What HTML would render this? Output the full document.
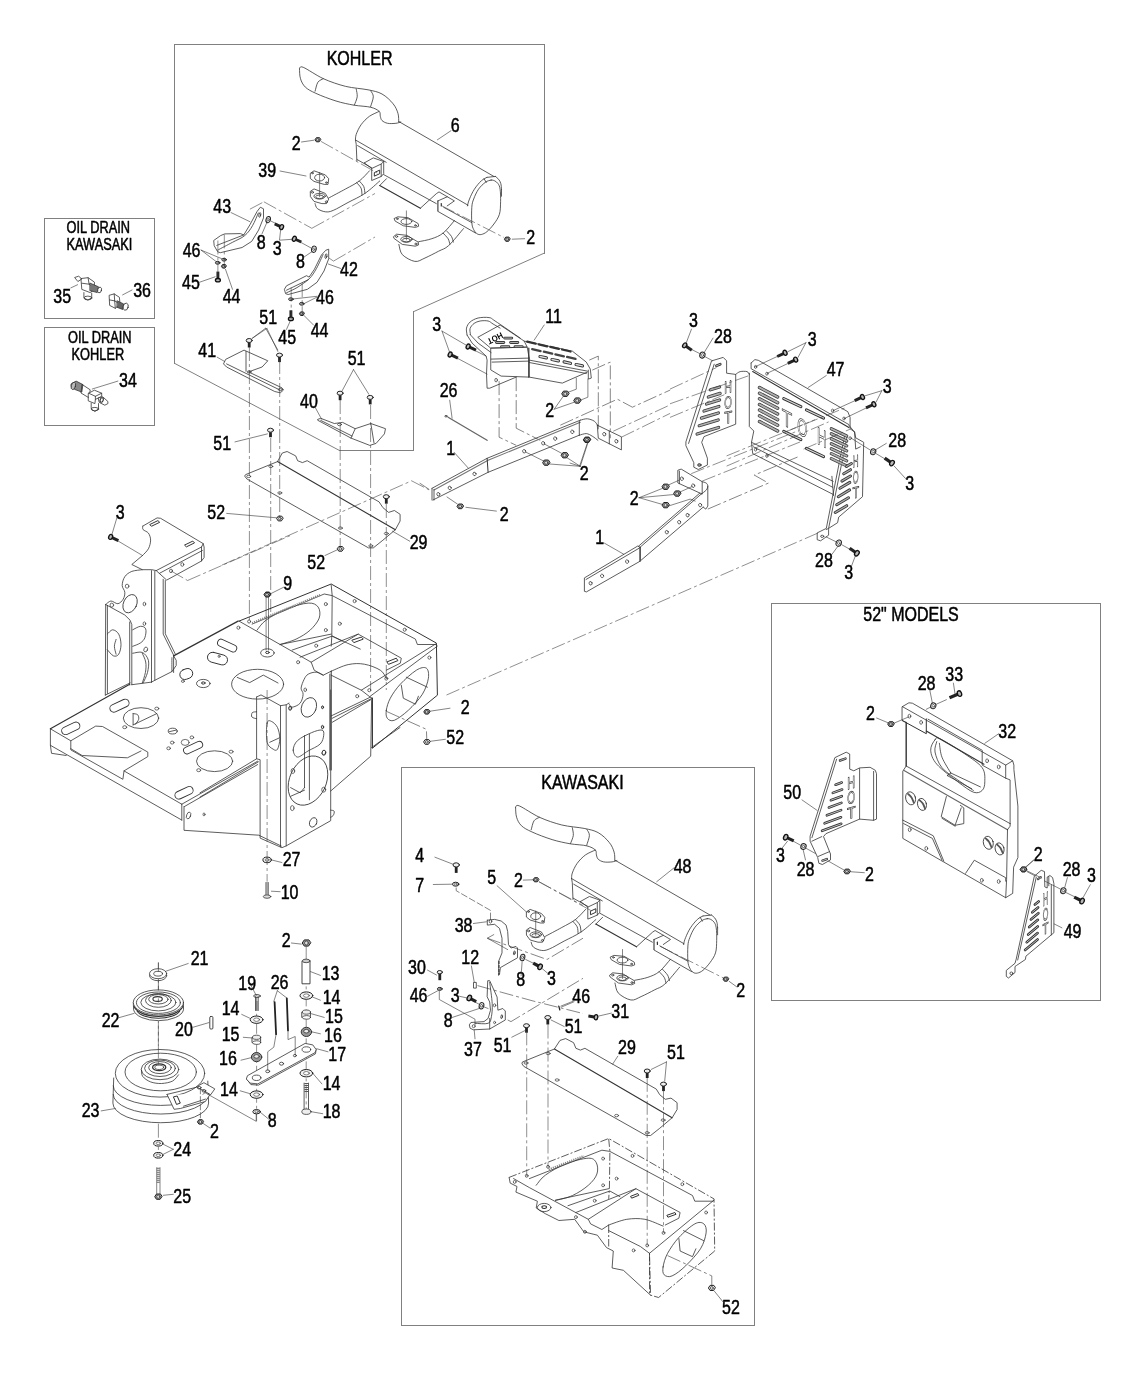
<!DOCTYPE html>
<html><head><meta charset="utf-8"><title>Parts diagram</title>
<style>
html,body{margin:0;padding:0;background:#fff}
svg{display:block;will-change:transform}
text{font-family:"Liberation Sans",sans-serif;fill:#000}
</style></head><body>
<svg width="1148" height="1375" viewBox="0 0 1148 1375" stroke-linejoin="round" stroke-linecap="round">
<line x1="174.5" y1="44.5" x2="544.5" y2="44.5" stroke="#808080" stroke-width="1" stroke-linecap="square" shape-rendering="crispEdges"/>
<line x1="544.5" y1="44.5" x2="544.5" y2="253" stroke="#808080" stroke-width="1" stroke-linecap="square" shape-rendering="crispEdges"/>
<line x1="544.5" y1="253" x2="413.5" y2="311.7" stroke="#808080" stroke-width="1" stroke-linecap="square"/>
<line x1="413.5" y1="311.7" x2="413.5" y2="450.5" stroke="#808080" stroke-width="1" stroke-linecap="square" shape-rendering="crispEdges"/>
<line x1="413.5" y1="450.5" x2="339.5" y2="450.5" stroke="#808080" stroke-width="1" stroke-linecap="square" shape-rendering="crispEdges"/>
<line x1="339.5" y1="450.5" x2="174.5" y2="363.3" stroke="#808080" stroke-width="1" stroke-linecap="square"/>
<line x1="174.5" y1="363.3" x2="174.5" y2="44.5" stroke="#808080" stroke-width="1" stroke-linecap="square" shape-rendering="crispEdges"/>
<line x1="401.5" y1="767.5" x2="754.5" y2="767.5" stroke="#808080" stroke-width="1" stroke-linecap="square" shape-rendering="crispEdges"/>
<line x1="754.5" y1="767.5" x2="754.5" y2="1325.5" stroke="#808080" stroke-width="1" stroke-linecap="square" shape-rendering="crispEdges"/>
<line x1="754.5" y1="1325.5" x2="401.5" y2="1325.5" stroke="#808080" stroke-width="1" stroke-linecap="square" shape-rendering="crispEdges"/>
<line x1="401.5" y1="1325.5" x2="401.5" y2="767.5" stroke="#808080" stroke-width="1" stroke-linecap="square" shape-rendering="crispEdges"/>
<line x1="771.5" y1="603.5" x2="1100.5" y2="603.5" stroke="#808080" stroke-width="1" stroke-linecap="square" shape-rendering="crispEdges"/>
<line x1="1100.5" y1="603.5" x2="1100.5" y2="1000.5" stroke="#808080" stroke-width="1" stroke-linecap="square" shape-rendering="crispEdges"/>
<line x1="1100.5" y1="1000.5" x2="771.5" y2="1000.5" stroke="#808080" stroke-width="1" stroke-linecap="square" shape-rendering="crispEdges"/>
<line x1="771.5" y1="1000.5" x2="771.5" y2="603.5" stroke="#808080" stroke-width="1" stroke-linecap="square" shape-rendering="crispEdges"/>
<line x1="44.5" y1="218.5" x2="154.5" y2="218.5" stroke="#808080" stroke-width="1" stroke-linecap="square" shape-rendering="crispEdges"/>
<line x1="154.5" y1="218.5" x2="154.5" y2="318.5" stroke="#808080" stroke-width="1" stroke-linecap="square" shape-rendering="crispEdges"/>
<line x1="154.5" y1="318.5" x2="44.5" y2="318.5" stroke="#808080" stroke-width="1" stroke-linecap="square" shape-rendering="crispEdges"/>
<line x1="44.5" y1="318.5" x2="44.5" y2="218.5" stroke="#808080" stroke-width="1" stroke-linecap="square" shape-rendering="crispEdges"/>
<line x1="44.5" y1="327.5" x2="154.5" y2="327.5" stroke="#808080" stroke-width="1" stroke-linecap="square" shape-rendering="crispEdges"/>
<line x1="154.5" y1="327.5" x2="154.5" y2="425.5" stroke="#808080" stroke-width="1" stroke-linecap="square" shape-rendering="crispEdges"/>
<line x1="154.5" y1="425.5" x2="44.5" y2="425.5" stroke="#808080" stroke-width="1" stroke-linecap="square" shape-rendering="crispEdges"/>
<line x1="44.5" y1="425.5" x2="44.5" y2="327.5" stroke="#808080" stroke-width="1" stroke-linecap="square" shape-rendering="crispEdges"/>
<text transform="translate(326.7 64.5) scale(0.825 1)" font-size="19.4" text-anchor="start" stroke="#000" stroke-width="0.5">KOHLER</text>
<text transform="translate(541.3 789) scale(0.825 1)" font-size="19.4" text-anchor="start" stroke="#000" stroke-width="0.5">KAWASAKI</text>
<text transform="translate(863.3 621.3) scale(0.825 1)" font-size="19.4" text-anchor="start" stroke="#000" stroke-width="0.5">52&quot; MODELS</text>
<text transform="translate(66.5 232.5) scale(0.82 1)" font-size="15.6" text-anchor="start" stroke="#000" stroke-width="0.5">OIL DRAIN</text>
<text transform="translate(66.5 249.5) scale(0.82 1)" font-size="15.6" text-anchor="start" stroke="#000" stroke-width="0.5">KAWASAKI</text>
<text transform="translate(68 343) scale(0.82 1)" font-size="15.6" text-anchor="start" stroke="#000" stroke-width="0.5">OIL DRAIN</text>
<text transform="translate(71.6 359.8) scale(0.82 1)" font-size="15.6" text-anchor="start" stroke="#000" stroke-width="0.5">KOHLER</text>
<text transform="translate(53.3 302.5) scale(0.825 1)" font-size="19.4" text-anchor="start" stroke="#000" stroke-width="0.5">35</text>
<text transform="translate(133.2 297) scale(0.825 1)" font-size="19.4" text-anchor="start" stroke="#000" stroke-width="0.5">36</text>
<text transform="translate(119 387.3) scale(0.825 1)" font-size="19.4" text-anchor="start" stroke="#000" stroke-width="0.5">34</text>
<text transform="translate(291.7 150) scale(0.825 1)" font-size="19.4" text-anchor="start" stroke="#000" stroke-width="0.5">2</text>
<text transform="translate(258.3 176.7) scale(0.825 1)" font-size="19.4" text-anchor="start" stroke="#000" stroke-width="0.5">39</text>
<text transform="translate(213.3 213.3) scale(0.825 1)" font-size="19.4" text-anchor="start" stroke="#000" stroke-width="0.5">43</text>
<text transform="translate(256.7 249.3) scale(0.825 1)" font-size="19.4" text-anchor="start" stroke="#000" stroke-width="0.5">8</text>
<text transform="translate(272.7 255) scale(0.825 1)" font-size="19.4" text-anchor="start" stroke="#000" stroke-width="0.5">3</text>
<text transform="translate(296 267.7) scale(0.825 1)" font-size="19.4" text-anchor="start" stroke="#000" stroke-width="0.5">8</text>
<text transform="translate(340 276) scale(0.825 1)" font-size="19.4" text-anchor="start" stroke="#000" stroke-width="0.5">42</text>
<text transform="translate(182.7 256.7) scale(0.825 1)" font-size="19.4" text-anchor="start" stroke="#000" stroke-width="0.5">46</text>
<text transform="translate(182 289.3) scale(0.825 1)" font-size="19.4" text-anchor="start" stroke="#000" stroke-width="0.5">45</text>
<text transform="translate(222.7 303.3) scale(0.825 1)" font-size="19.4" text-anchor="start" stroke="#000" stroke-width="0.5">44</text>
<text transform="translate(316 304.3) scale(0.825 1)" font-size="19.4" text-anchor="start" stroke="#000" stroke-width="0.5">46</text>
<text transform="translate(259.3 324.3) scale(0.825 1)" font-size="19.4" text-anchor="start" stroke="#000" stroke-width="0.5">51</text>
<text transform="translate(278.3 344.3) scale(0.825 1)" font-size="19.4" text-anchor="start" stroke="#000" stroke-width="0.5">45</text>
<text transform="translate(310.7 336.7) scale(0.825 1)" font-size="19.4" text-anchor="start" stroke="#000" stroke-width="0.5">44</text>
<text transform="translate(198.3 356.7) scale(0.825 1)" font-size="19.4" text-anchor="start" stroke="#000" stroke-width="0.5">41</text>
<text transform="translate(347.7 365) scale(0.825 1)" font-size="19.4" text-anchor="start" stroke="#000" stroke-width="0.5">51</text>
<text transform="translate(300 408.3) scale(0.825 1)" font-size="19.4" text-anchor="start" stroke="#000" stroke-width="0.5">40</text>
<text transform="translate(213.3 450) scale(0.825 1)" font-size="19.4" text-anchor="start" stroke="#000" stroke-width="0.5">51</text>
<text transform="translate(450.7 131.7) scale(0.825 1)" font-size="19.4" text-anchor="start" stroke="#000" stroke-width="0.5">6</text>
<text transform="translate(526.3 244.3) scale(0.825 1)" font-size="19.4" text-anchor="start" stroke="#000" stroke-width="0.5">2</text>
<text transform="translate(432.3 330.7) scale(0.825 1)" font-size="19.4" text-anchor="start" stroke="#000" stroke-width="0.5">3</text>
<text transform="translate(545.3 323.3) scale(0.825 1)" font-size="19.4" text-anchor="start" stroke="#000" stroke-width="0.5">11</text>
<text transform="translate(439.7 397.3) scale(0.825 1)" font-size="19.4" text-anchor="start" stroke="#000" stroke-width="0.5">26</text>
<text transform="translate(545.3 416.7) scale(0.825 1)" font-size="19.4" text-anchor="start" stroke="#000" stroke-width="0.5">2</text>
<text transform="translate(446.3 455) scale(0.825 1)" font-size="19.4" text-anchor="start" stroke="#000" stroke-width="0.5">1</text>
<text transform="translate(689 326.7) scale(0.825 1)" font-size="19.4" text-anchor="start" stroke="#000" stroke-width="0.5">3</text>
<text transform="translate(714 343.1) scale(0.825 1)" font-size="19.4" text-anchor="start" stroke="#000" stroke-width="0.5">28</text>
<text transform="translate(807.7 346) scale(0.825 1)" font-size="19.4" text-anchor="start" stroke="#000" stroke-width="0.5">3</text>
<text transform="translate(826.7 376) scale(0.825 1)" font-size="19.4" text-anchor="start" stroke="#000" stroke-width="0.5">47</text>
<text transform="translate(882.7 393.3) scale(0.825 1)" font-size="19.4" text-anchor="start" stroke="#000" stroke-width="0.5">3</text>
<text transform="translate(888.3 446.7) scale(0.825 1)" font-size="19.4" text-anchor="start" stroke="#000" stroke-width="0.5">28</text>
<text transform="translate(115.7 518.7) scale(0.825 1)" font-size="19.4" text-anchor="start" stroke="#000" stroke-width="0.5">3</text>
<text transform="translate(207.3 518.7) scale(0.825 1)" font-size="19.4" text-anchor="start" stroke="#000" stroke-width="0.5">52</text>
<text transform="translate(307.3 568.7) scale(0.825 1)" font-size="19.4" text-anchor="start" stroke="#000" stroke-width="0.5">52</text>
<text transform="translate(283.3 589.7) scale(0.825 1)" font-size="19.4" text-anchor="start" stroke="#000" stroke-width="0.5">9</text>
<text transform="translate(282.7 866.1) scale(0.825 1)" font-size="19.4" text-anchor="start" stroke="#000" stroke-width="0.5">27</text>
<text transform="translate(280.7 898.6) scale(0.825 1)" font-size="19.4" text-anchor="start" stroke="#000" stroke-width="0.5">10</text>
<text transform="translate(579.7 479.7) scale(0.825 1)" font-size="19.4" text-anchor="start" stroke="#000" stroke-width="0.5">2</text>
<text transform="translate(499.7 520.7) scale(0.825 1)" font-size="19.4" text-anchor="start" stroke="#000" stroke-width="0.5">2</text>
<text transform="translate(409.7 548.7) scale(0.825 1)" font-size="19.4" text-anchor="start" stroke="#000" stroke-width="0.5">29</text>
<text transform="translate(629.7 504.7) scale(0.825 1)" font-size="19.4" text-anchor="start" stroke="#000" stroke-width="0.5">2</text>
<text transform="translate(595.3 544) scale(0.825 1)" font-size="19.4" text-anchor="start" stroke="#000" stroke-width="0.5">1</text>
<text transform="translate(460.7 713.7) scale(0.825 1)" font-size="19.4" text-anchor="start" stroke="#000" stroke-width="0.5">2</text>
<text transform="translate(446.3 744) scale(0.825 1)" font-size="19.4" text-anchor="start" stroke="#000" stroke-width="0.5">52</text>
<text transform="translate(415.3 862.3) scale(0.825 1)" font-size="19.4" text-anchor="start" stroke="#000" stroke-width="0.5">4</text>
<text transform="translate(415.3 891.7) scale(0.825 1)" font-size="19.4" text-anchor="start" stroke="#000" stroke-width="0.5">7</text>
<text transform="translate(487.3 884.2) scale(0.825 1)" font-size="19.4" text-anchor="start" stroke="#000" stroke-width="0.5">5</text>
<text transform="translate(514 887) scale(0.825 1)" font-size="19.4" text-anchor="start" stroke="#000" stroke-width="0.5">2</text>
<text transform="translate(673.7 872.8) scale(0.825 1)" font-size="19.4" text-anchor="start" stroke="#000" stroke-width="0.5">48</text>
<text transform="translate(905.3 490.3) scale(0.825 1)" font-size="19.4" text-anchor="start" stroke="#000" stroke-width="0.5">3</text>
<text transform="translate(815 567.3) scale(0.825 1)" font-size="19.4" text-anchor="start" stroke="#000" stroke-width="0.5">28</text>
<text transform="translate(844.3 578.7) scale(0.825 1)" font-size="19.4" text-anchor="start" stroke="#000" stroke-width="0.5">3</text>
<text transform="translate(917.7 690.3) scale(0.825 1)" font-size="19.4" text-anchor="start" stroke="#000" stroke-width="0.5">28</text>
<text transform="translate(945.3 680.7) scale(0.825 1)" font-size="19.4" text-anchor="start" stroke="#000" stroke-width="0.5">33</text>
<text transform="translate(866 720.3) scale(0.825 1)" font-size="19.4" text-anchor="start" stroke="#000" stroke-width="0.5">2</text>
<text transform="translate(998.3 738) scale(0.825 1)" font-size="19.4" text-anchor="start" stroke="#000" stroke-width="0.5">32</text>
<text transform="translate(783.3 799) scale(0.825 1)" font-size="19.4" text-anchor="start" stroke="#000" stroke-width="0.5">50</text>
<text transform="translate(776 862.3) scale(0.825 1)" font-size="19.4" text-anchor="start" stroke="#000" stroke-width="0.5">3</text>
<text transform="translate(796.7 875.7) scale(0.825 1)" font-size="19.4" text-anchor="start" stroke="#000" stroke-width="0.5">28</text>
<text transform="translate(865 881.3) scale(0.825 1)" font-size="19.4" text-anchor="start" stroke="#000" stroke-width="0.5">2</text>
<text transform="translate(1033.7 860.7) scale(0.825 1)" font-size="19.4" text-anchor="start" stroke="#000" stroke-width="0.5">2</text>
<text transform="translate(1062.7 875.7) scale(0.825 1)" font-size="19.4" text-anchor="start" stroke="#000" stroke-width="0.5">28</text>
<text transform="translate(1087 882.3) scale(0.825 1)" font-size="19.4" text-anchor="start" stroke="#000" stroke-width="0.5">3</text>
<text transform="translate(281.7 947.3) scale(0.825 1)" font-size="19.4" text-anchor="start" stroke="#000" stroke-width="0.5">2</text>
<text transform="translate(190.7 965.3) scale(0.825 1)" font-size="19.4" text-anchor="start" stroke="#000" stroke-width="0.5">21</text>
<text transform="translate(321.7 979.7) scale(0.825 1)" font-size="19.4" text-anchor="start" stroke="#000" stroke-width="0.5">13</text>
<text transform="translate(238.3 990.3) scale(0.825 1)" font-size="19.4" text-anchor="start" stroke="#000" stroke-width="0.5">19</text>
<text transform="translate(270.7 988.7) scale(0.825 1)" font-size="19.4" text-anchor="start" stroke="#000" stroke-width="0.5">26</text>
<text transform="translate(322.7 1004.3) scale(0.825 1)" font-size="19.4" text-anchor="start" stroke="#000" stroke-width="0.5">14</text>
<text transform="translate(221.7 1015.3) scale(0.825 1)" font-size="19.4" text-anchor="start" stroke="#000" stroke-width="0.5">14</text>
<text transform="translate(101.7 1027) scale(0.825 1)" font-size="19.4" text-anchor="start" stroke="#000" stroke-width="0.5">22</text>
<text transform="translate(325 1023) scale(0.825 1)" font-size="19.4" text-anchor="start" stroke="#000" stroke-width="0.5">15</text>
<text transform="translate(175 1036) scale(0.825 1)" font-size="19.4" text-anchor="start" stroke="#000" stroke-width="0.5">20</text>
<text transform="translate(221.7 1041) scale(0.825 1)" font-size="19.4" text-anchor="start" stroke="#000" stroke-width="0.5">15</text>
<text transform="translate(324 1042) scale(0.825 1)" font-size="19.4" text-anchor="start" stroke="#000" stroke-width="0.5">16</text>
<text transform="translate(219 1064.7) scale(0.825 1)" font-size="19.4" text-anchor="start" stroke="#000" stroke-width="0.5">16</text>
<text transform="translate(328.3 1061.3) scale(0.825 1)" font-size="19.4" text-anchor="start" stroke="#000" stroke-width="0.5">17</text>
<text transform="translate(322.7 1090.3) scale(0.825 1)" font-size="19.4" text-anchor="start" stroke="#000" stroke-width="0.5">14</text>
<text transform="translate(220 1096.3) scale(0.825 1)" font-size="19.4" text-anchor="start" stroke="#000" stroke-width="0.5">14</text>
<text transform="translate(81.7 1117.3) scale(0.825 1)" font-size="19.4" text-anchor="start" stroke="#000" stroke-width="0.5">23</text>
<text transform="translate(322.7 1118) scale(0.825 1)" font-size="19.4" text-anchor="start" stroke="#000" stroke-width="0.5">18</text>
<text transform="translate(267.7 1127.3) scale(0.825 1)" font-size="19.4" text-anchor="start" stroke="#000" stroke-width="0.5">8</text>
<text transform="translate(210 1138.3) scale(0.825 1)" font-size="19.4" text-anchor="start" stroke="#000" stroke-width="0.5">2</text>
<text transform="translate(173.3 1155.8) scale(0.825 1)" font-size="19.4" text-anchor="start" stroke="#000" stroke-width="0.5">24</text>
<text transform="translate(173.3 1202.5) scale(0.825 1)" font-size="19.4" text-anchor="start" stroke="#000" stroke-width="0.5">25</text>
<text transform="translate(454.7 932) scale(0.825 1)" font-size="19.4" text-anchor="start" stroke="#000" stroke-width="0.5">38</text>
<text transform="translate(461.3 964.3) scale(0.825 1)" font-size="19.4" text-anchor="start" stroke="#000" stroke-width="0.5">12</text>
<text transform="translate(408 974.3) scale(0.825 1)" font-size="19.4" text-anchor="start" stroke="#000" stroke-width="0.5">30</text>
<text transform="translate(409.7 1002) scale(0.825 1)" font-size="19.4" text-anchor="start" stroke="#000" stroke-width="0.5">46</text>
<text transform="translate(450.7 1002) scale(0.825 1)" font-size="19.4" text-anchor="start" stroke="#000" stroke-width="0.5">3</text>
<text transform="translate(516.3 986) scale(0.825 1)" font-size="19.4" text-anchor="start" stroke="#000" stroke-width="0.5">8</text>
<text transform="translate(547 985.3) scale(0.825 1)" font-size="19.4" text-anchor="start" stroke="#000" stroke-width="0.5">3</text>
<text transform="translate(443.7 1027) scale(0.825 1)" font-size="19.4" text-anchor="start" stroke="#000" stroke-width="0.5">8</text>
<text transform="translate(464 1056) scale(0.825 1)" font-size="19.4" text-anchor="start" stroke="#000" stroke-width="0.5">37</text>
<text transform="translate(493.7 1052) scale(0.825 1)" font-size="19.4" text-anchor="start" stroke="#000" stroke-width="0.5">51</text>
<text transform="translate(564.7 1032.7) scale(0.825 1)" font-size="19.4" text-anchor="start" stroke="#000" stroke-width="0.5">51</text>
<text transform="translate(572.3 1002.7) scale(0.825 1)" font-size="19.4" text-anchor="start" stroke="#000" stroke-width="0.5">46</text>
<text transform="translate(611.3 1018.3) scale(0.825 1)" font-size="19.4" text-anchor="start" stroke="#000" stroke-width="0.5">31</text>
<text transform="translate(618 1054.3) scale(0.825 1)" font-size="19.4" text-anchor="start" stroke="#000" stroke-width="0.5">29</text>
<text transform="translate(667 1058.7) scale(0.825 1)" font-size="19.4" text-anchor="start" stroke="#000" stroke-width="0.5">51</text>
<text transform="translate(736.3 996.7) scale(0.825 1)" font-size="19.4" text-anchor="start" stroke="#000" stroke-width="0.5">2</text>
<text transform="translate(722 1314.3) scale(0.825 1)" font-size="19.4" text-anchor="start" stroke="#000" stroke-width="0.5">52</text>
<text transform="translate(1063.7 937.7) scale(0.825 1)" font-size="19.4" text-anchor="start" stroke="#000" stroke-width="0.5">49</text>
<path d="M299.5 68.9C300.1 68.7 299.2 65.6 303.2 67.3C307.2 68.9 316.4 75.5 323.4 78.7C330.5 81.9 338.3 84.5 345.7 86.4C353.2 88.2 362 88.6 368 89.8C374.1 91.1 377.8 91.7 382 94C386.2 96.3 390.5 100.5 393.1 103.8C395.8 107 397.1 110.5 398 113.5C398.9 116.6 398.6 120.5 398.7 121.9" fill="none" stroke="#333" stroke-width="0.8"/>
<path d="M299.5 68.9C299.6 70.6 299.5 75.7 300.5 78.7C301.4 81.7 302.8 84.6 305.3 87.1C307.9 89.5 310.7 91 315.8 93.3C320.9 95.7 329.6 99 336 101C342.4 103 348.3 104.1 354.1 105.2C359.9 106.2 366.7 106.2 370.8 107.3C375 108.3 377.6 109.9 379.2 111.4C380.8 113 379.8 114.8 380.3 116.3C380.8 117.8 380.8 119.3 382 120.5C383.2 121.7 385.2 122.8 387.6 123.3C389.9 123.8 393.7 123.5 395.9 123.3C398.1 123.1 400 122.1 400.8 121.9" fill="none" stroke="#333" stroke-width="0.8"/>
<path d="M323.4 78.7C322.5 79.3 319.3 80.1 317.9 82.2C316.5 84.3 315.6 89.7 315.1 91.2" fill="none" stroke="#333" stroke-width="0.8"/>
<path d="M356.2 89.1C356.4 90.4 357.5 94.2 357.2 96.8C356.9 99.4 354.9 103.5 354.4 104.9" fill="none" stroke="#333" stroke-width="0.8"/>
<path d="M370.8 91C371.3 91.9 373.4 94.2 373.3 96.8C373.3 99.4 371 104.9 370.6 106.6" fill="none" stroke="#333" stroke-width="0.8"/>
<path d="M379.2 111.4C377.6 112.3 372.5 114.1 369.4 116.3C366.4 118.5 363.3 121.7 361.1 124.7C358.9 127.7 357.1 131.9 356.2 134.4C355.3 137 355.6 139.1 355.5 140" fill="none" stroke="#333" stroke-width="0.8"/>
<polyline points="355.5,140 356.2,144.2 356.9,160.9" fill="none" stroke="#333" stroke-width="0.8"/>
<line x1="357.6" y1="145.6" x2="386.2" y2="162.3" stroke="#333" stroke-width="0.8"/>
<line x1="398.9" y1="121.6" x2="494" y2="176.5" stroke="#333" stroke-width="0.8"/>
<line x1="355.9" y1="140.2" x2="468" y2="205.2" stroke="#333" stroke-width="0.8"/>
<path d="M491.1 180.1C489.6 180.4 487.6 180.7 485.5 182.2C483.4 183.7 480.5 186.4 478.5 189.2C476.6 192 474.8 195.9 473.7 199C472.5 202 472.1 203.4 471.8 207.3C471.5 211.3 471.5 218.9 471.8 222.6C472.1 226.4 472.8 227.8 473.7 229.6C474.5 231.5 475.9 233 477.1 233.8C478.4 234.6 479.7 234.8 481.3 234.5C483 234.1 484.8 233.4 486.9 231.7C489 230 491.8 226.9 493.9 224C496 221.1 498.3 218 499.4 214.3C500.6 210.6 500.4 205.9 500.6 201.7C500.7 197.6 500.6 192.2 500.1 189.2C499.7 186.2 499 185 498 183.6C497.1 182.2 495.7 181.4 494.6 180.8C493.4 180.3 492.6 179.9 491.1 180.1Z" fill="none" stroke="#333" stroke-width="0.8"/>
<path d="M486.9 177.4C486 177.9 483.4 178.9 481.3 180.8C479.2 182.8 476.3 186.2 474.4 189.2C472.4 192.2 470.6 196.2 469.5 199C468.3 201.7 467.7 204.8 467.4 205.9" fill="none" stroke="#333" stroke-width="0.8"/>
<path d="M495.3 176.4C495.8 176.9 497.8 178.2 498.7 179.4C499.7 180.7 500.4 182 500.8 183.6C501.3 185.2 501.4 188.3 501.5 189.2" fill="none" stroke="#333" stroke-width="0.8"/>
<line x1="501.5" y1="189.2" x2="501.5" y2="196.2" stroke="#333" stroke-width="0.8"/>
<line x1="486.9" y1="177.4" x2="495.3" y2="176.4" stroke="#333" stroke-width="0.8"/>
<line x1="484.1" y1="178.7" x2="486.2" y2="182.5" stroke="#333" stroke-width="0.8"/>
<line x1="443.7" y1="207.3" x2="471.8" y2="222.6" stroke="#333" stroke-width="0.8"/>
<line x1="438.1" y1="211.5" x2="475.7" y2="233.1" stroke="#333" stroke-width="0.8"/>
<line x1="357" y1="159.5" x2="371.7" y2="167.8" stroke="#333" stroke-width="0.8"/>
<polyline points="364.3,162.9 373.3,157.9 383.7,161.5 383.7,173.7 381.2,176.5 371.7,180.5 371.7,168.5 364.3,162.9" fill="none" stroke="#333" stroke-width="0.8"/>
<polyline points="371.7,168.5 381.2,164 381.2,176.5" fill="none" stroke="#333" stroke-width="0.8"/>
<line x1="381.2" y1="164" x2="383.7" y2="161.5" stroke="#333" stroke-width="0.8"/>
<polygon points="374.7,172.4 379.7,170.1 379.7,173.7 374.7,176" fill="none" stroke="#333" stroke-width="1"/>
<line x1="383.7" y1="174.6" x2="436.3" y2="203.6" stroke="#333" stroke-width="0.8"/>
<polyline points="379.7,185.5 420.4,208.2" fill="none" stroke="#333" stroke-width="1.1"/>
<polyline points="420.4,208.2 436.3,193.7 439,191.9 454.4,200.9 447.2,205.9" fill="none" stroke="#333" stroke-width="0.8"/>
<line x1="379.7" y1="185.5" x2="386.5" y2="178.7" stroke="#333" stroke-width="0.8"/>
<polyline points="437.9,200.9 437.9,210.9" fill="none" stroke="#333" stroke-width="1.1"/>
<polyline points="437.9,200.9 447.2,196.8" fill="none" stroke="#333" stroke-width="0.8"/>
<polyline points="441.3,203.6 441.3,205.9" fill="none" stroke="#333" stroke-width="1.2"/>
<path d="M328.7 198C331.5 196.5 340.6 191.7 345.7 188.9C350.8 186.1 355.3 184 359.3 181C363.2 178 367.8 172.5 369.5 170.8" fill="none" stroke="#333" stroke-width="0.8"/>
<path d="M315.1 203.6C315.5 204.5 315.7 207.3 317.4 208.6C319.1 210 322.7 211.5 325.3 211.8C327.9 212.1 329.5 212 333.2 210.4C337 208.9 342.7 205.3 348 202.5C353.2 199.7 359.7 197 364.9 193.4C370.2 189.9 377.2 183.1 379.7 181" fill="none" stroke="#333" stroke-width="0.8"/>
<path d="M359.3 181C360 181.9 362.9 184.6 363.8 186.6C364.7 188.7 364.7 192.3 364.9 193.4" fill="none" stroke="#333" stroke-width="0.8"/>
<path d="M356.6 182.6C357.3 183.5 360.2 186.2 361.1 188.2C362 190.3 361.8 193.9 362 195" fill="none" stroke="#333" stroke-width="0.8"/>
<polygon points="310.6,191.2 314,188.9 325.3,193.4 328.7,199.1 326.4,203.6 321.9,203.6 314,201.4 310.6,196.8" fill="none" stroke="#333" stroke-width="0.8"/>
<ellipse cx="319.6" cy="196.2" rx="5.7" ry="2.9" fill="none" stroke="#333" stroke-width="0.8"/>
<ellipse cx="319.6" cy="196.8" rx="3.9" ry="1.8" fill="none" stroke="#333" stroke-width="0.8"/>
<ellipse cx="312.4" cy="192.3" rx="1.1" ry="0.9" fill="none" stroke="#333" stroke-width="0.8"/>
<ellipse cx="326.4" cy="201.8" rx="1.1" ry="0.9" fill="none" stroke="#333" stroke-width="0.8"/>
<polygon points="310.6,173.1 314,170.8 325.3,174.9 328.7,178.7 328,184.4 324.2,184.4 314,181.4 310.6,178.7" fill="none" stroke="#333" stroke-width="0.8"/>
<ellipse cx="319.6" cy="177.6" rx="5" ry="3.4" fill="none" stroke="#333" stroke-width="0.8"/>
<ellipse cx="312.4" cy="173.1" rx="0.9" ry="0.7" fill="none" stroke="#333" stroke-width="0.8"/>
<ellipse cx="326.4" cy="182.6" rx="0.9" ry="0.7" fill="none" stroke="#333" stroke-width="0.8"/>
<line x1="319.6" y1="172.4" x2="319.6" y2="196.8" stroke="#333" stroke-width="0.6"/>
<path d="M418.6 241.7C420.8 241.2 427.7 240.2 431.8 238.7C435.8 237.3 439.3 236.1 443.1 233.1C446.9 230.1 452.5 222.7 454.4 220.6" fill="none" stroke="#333" stroke-width="0.8"/>
<path d="M398.9 244.4C399.5 246.1 399.7 251.8 402.3 254.6C405 257.4 411 260.8 414.8 261.4C418.5 262 421 259.7 425 258C428.9 256.3 434.6 253.3 438.6 251.2C442.5 249.1 444.6 249.3 448.7 245.5C452.9 241.8 461 231.4 463.5 228.6" fill="none" stroke="#333" stroke-width="0.8"/>
<path d="M443.1 233.1C443.9 234 446.9 236.9 448.1 238.7C449.2 240.6 449.6 243.5 449.9 244.4" fill="none" stroke="#333" stroke-width="0.8"/>
<path d="M446.5 230.8C447.3 231.8 450.3 234.6 451.5 236.5C452.6 238.4 453 241.2 453.3 242.1" fill="none" stroke="#333" stroke-width="0.8"/>
<polygon points="393.7,236.5 396.6,234.2 406.8,235.3 418.2,242.1 418.6,244.9 415.4,246.2 402.3,244.4 394.4,238.7" fill="none" stroke="#333" stroke-width="0.8"/>
<ellipse cx="406.4" cy="239.4" rx="5.7" ry="2.9" fill="none" stroke="#333" stroke-width="0.8"/>
<ellipse cx="406.4" cy="240.1" rx="3.9" ry="1.8" fill="none" stroke="#333" stroke-width="0.8"/>
<ellipse cx="396.6" cy="236.5" rx="1.1" ry="0.9" fill="none" stroke="#333" stroke-width="0.8"/>
<ellipse cx="415.9" cy="244" rx="1.1" ry="0.9" fill="none" stroke="#333" stroke-width="0.8"/>
<polygon points="394.4,218.4 397.8,216.8 408,217.7 418.2,223.6 418.6,226.3 415.4,227.4 403.4,225.8 395.5,221.3" fill="none" stroke="#333" stroke-width="0.8"/>
<ellipse cx="406.4" cy="221.5" rx="5.4" ry="2.9" fill="none" stroke="#333" stroke-width="0.8"/>
<ellipse cx="397.3" cy="218.8" rx="0.9" ry="0.7" fill="none" stroke="#333" stroke-width="0.8"/>
<ellipse cx="415.4" cy="225.4" rx="0.9" ry="0.7" fill="none" stroke="#333" stroke-width="0.8"/>
<line x1="406.4" y1="210.9" x2="406.4" y2="239.9" stroke="#333" stroke-width="0.6"/>
<polygon points="320.6,139.8 319.2,141.8 316.4,141.8 315,139.8 316.4,137.7 319.2,137.7" fill="#999" stroke="#222" stroke-width="1"/>
<circle cx="317.8" cy="139.8" r="1.3" fill="#ddd" stroke="#333" stroke-width="0.7"/>
<polygon points="510,239.2 508.6,241.3 505.8,241.3 504.4,239.2 505.8,237.1 508.6,237.1" fill="#999" stroke="#222" stroke-width="1"/>
<circle cx="507.2" cy="239.2" r="1.3" fill="#ddd" stroke="#333" stroke-width="0.7"/>
<line x1="301.5" y1="142" x2="314" y2="140.2" stroke="#333" stroke-width="0.6"/>
<line x1="437.4" y1="139.8" x2="451" y2="130.7" stroke="#333" stroke-width="0.6"/>
<line x1="512.2" y1="239.2" x2="524.6" y2="238.7" stroke="#333" stroke-width="0.6"/>
<line x1="320.8" y1="141.3" x2="377.4" y2="173.1" stroke="#444" stroke-width="0.6" stroke-dasharray="14 3 3 3" stroke-linecap="butt"/>
<line x1="441.9" y1="205.9" x2="504.2" y2="237.6" stroke="#444" stroke-width="0.6" stroke-dasharray="14 3 3 3" stroke-linecap="butt"/>
<g transform="translate(216.1 738.6)">
<path d="M299.5 68.9C300.1 68.7 299.2 65.6 303.2 67.3C307.2 68.9 316.4 75.5 323.4 78.7C330.5 81.9 338.3 84.5 345.7 86.4C353.2 88.2 362 88.6 368 89.8C374.1 91.1 377.8 91.7 382 94C386.2 96.3 390.5 100.5 393.1 103.8C395.8 107 397.1 110.5 398 113.5C398.9 116.6 398.6 120.5 398.7 121.9" fill="none" stroke="#333" stroke-width="0.8"/>
<path d="M299.5 68.9C299.6 70.6 299.5 75.7 300.5 78.7C301.4 81.7 302.8 84.6 305.3 87.1C307.9 89.5 310.7 91 315.8 93.3C320.9 95.7 329.6 99 336 101C342.4 103 348.3 104.1 354.1 105.2C359.9 106.2 366.7 106.2 370.8 107.3C375 108.3 377.6 109.9 379.2 111.4C380.8 113 379.8 114.8 380.3 116.3C380.8 117.8 380.8 119.3 382 120.5C383.2 121.7 385.2 122.8 387.6 123.3C389.9 123.8 393.7 123.5 395.9 123.3C398.1 123.1 400 122.1 400.8 121.9" fill="none" stroke="#333" stroke-width="0.8"/>
<path d="M323.4 78.7C322.5 79.3 319.3 80.1 317.9 82.2C316.5 84.3 315.6 89.7 315.1 91.2" fill="none" stroke="#333" stroke-width="0.8"/>
<path d="M356.2 89.1C356.4 90.4 357.5 94.2 357.2 96.8C356.9 99.4 354.9 103.5 354.4 104.9" fill="none" stroke="#333" stroke-width="0.8"/>
<path d="M370.8 91C371.3 91.9 373.4 94.2 373.3 96.8C373.3 99.4 371 104.9 370.6 106.6" fill="none" stroke="#333" stroke-width="0.8"/>
<path d="M379.2 111.4C377.6 112.3 372.5 114.1 369.4 116.3C366.4 118.5 363.3 121.7 361.1 124.7C358.9 127.7 357.1 131.9 356.2 134.4C355.3 137 355.6 139.1 355.5 140" fill="none" stroke="#333" stroke-width="0.8"/>
<polyline points="355.5,140 356.2,144.2 356.9,160.9" fill="none" stroke="#333" stroke-width="0.8"/>
<line x1="357.6" y1="145.6" x2="386.2" y2="162.3" stroke="#333" stroke-width="0.8"/>
<line x1="398.9" y1="121.6" x2="494" y2="176.5" stroke="#333" stroke-width="0.8"/>
<line x1="355.9" y1="140.2" x2="468" y2="205.2" stroke="#333" stroke-width="0.8"/>
<path d="M491.1 180.1C489.6 180.4 487.6 180.7 485.5 182.2C483.4 183.7 480.5 186.4 478.5 189.2C476.6 192 474.8 195.9 473.7 199C472.5 202 472.1 203.4 471.8 207.3C471.5 211.3 471.5 218.9 471.8 222.6C472.1 226.4 472.8 227.8 473.7 229.6C474.5 231.5 475.9 233 477.1 233.8C478.4 234.6 479.7 234.8 481.3 234.5C483 234.1 484.8 233.4 486.9 231.7C489 230 491.8 226.9 493.9 224C496 221.1 498.3 218 499.4 214.3C500.6 210.6 500.4 205.9 500.6 201.7C500.7 197.6 500.6 192.2 500.1 189.2C499.7 186.2 499 185 498 183.6C497.1 182.2 495.7 181.4 494.6 180.8C493.4 180.3 492.6 179.9 491.1 180.1Z" fill="none" stroke="#333" stroke-width="0.8"/>
<path d="M486.9 177.4C486 177.9 483.4 178.9 481.3 180.8C479.2 182.8 476.3 186.2 474.4 189.2C472.4 192.2 470.6 196.2 469.5 199C468.3 201.7 467.7 204.8 467.4 205.9" fill="none" stroke="#333" stroke-width="0.8"/>
<path d="M495.3 176.4C495.8 176.9 497.8 178.2 498.7 179.4C499.7 180.7 500.4 182 500.8 183.6C501.3 185.2 501.4 188.3 501.5 189.2" fill="none" stroke="#333" stroke-width="0.8"/>
<line x1="501.5" y1="189.2" x2="501.5" y2="196.2" stroke="#333" stroke-width="0.8"/>
<line x1="486.9" y1="177.4" x2="495.3" y2="176.4" stroke="#333" stroke-width="0.8"/>
<line x1="484.1" y1="178.7" x2="486.2" y2="182.5" stroke="#333" stroke-width="0.8"/>
<line x1="443.7" y1="207.3" x2="471.8" y2="222.6" stroke="#333" stroke-width="0.8"/>
<line x1="438.1" y1="211.5" x2="475.7" y2="233.1" stroke="#333" stroke-width="0.8"/>
<line x1="357" y1="159.5" x2="371.7" y2="167.8" stroke="#333" stroke-width="0.8"/>
<polyline points="364.3,162.9 373.3,157.9 383.7,161.5 383.7,173.7 381.2,176.5 371.7,180.5 371.7,168.5 364.3,162.9" fill="none" stroke="#333" stroke-width="0.8"/>
<polyline points="371.7,168.5 381.2,164 381.2,176.5" fill="none" stroke="#333" stroke-width="0.8"/>
<line x1="381.2" y1="164" x2="383.7" y2="161.5" stroke="#333" stroke-width="0.8"/>
<polygon points="374.7,172.4 379.7,170.1 379.7,173.7 374.7,176" fill="none" stroke="#333" stroke-width="1"/>
<line x1="383.7" y1="174.6" x2="436.3" y2="203.6" stroke="#333" stroke-width="0.8"/>
<polyline points="379.7,185.5 420.4,208.2" fill="none" stroke="#333" stroke-width="1.1"/>
<polyline points="420.4,208.2 436.3,193.7 439,191.9 454.4,200.9 447.2,205.9" fill="none" stroke="#333" stroke-width="0.8"/>
<line x1="379.7" y1="185.5" x2="386.5" y2="178.7" stroke="#333" stroke-width="0.8"/>
<polyline points="437.9,200.9 437.9,210.9" fill="none" stroke="#333" stroke-width="1.1"/>
<polyline points="437.9,200.9 447.2,196.8" fill="none" stroke="#333" stroke-width="0.8"/>
<polyline points="441.3,203.6 441.3,205.9" fill="none" stroke="#333" stroke-width="1.2"/>
<path d="M328.7 198C331.5 196.5 340.6 191.7 345.7 188.9C350.8 186.1 355.3 184 359.3 181C363.2 178 367.8 172.5 369.5 170.8" fill="none" stroke="#333" stroke-width="0.8"/>
<path d="M315.1 203.6C315.5 204.5 315.7 207.3 317.4 208.6C319.1 210 322.7 211.5 325.3 211.8C327.9 212.1 329.5 212 333.2 210.4C337 208.9 342.7 205.3 348 202.5C353.2 199.7 359.7 197 364.9 193.4C370.2 189.9 377.2 183.1 379.7 181" fill="none" stroke="#333" stroke-width="0.8"/>
<path d="M359.3 181C360 181.9 362.9 184.6 363.8 186.6C364.7 188.7 364.7 192.3 364.9 193.4" fill="none" stroke="#333" stroke-width="0.8"/>
<path d="M356.6 182.6C357.3 183.5 360.2 186.2 361.1 188.2C362 190.3 361.8 193.9 362 195" fill="none" stroke="#333" stroke-width="0.8"/>
<polygon points="310.6,191.2 314,188.9 325.3,193.4 328.7,199.1 326.4,203.6 321.9,203.6 314,201.4 310.6,196.8" fill="none" stroke="#333" stroke-width="0.8"/>
<ellipse cx="319.6" cy="196.2" rx="5.7" ry="2.9" fill="none" stroke="#333" stroke-width="0.8"/>
<ellipse cx="319.6" cy="196.8" rx="3.9" ry="1.8" fill="none" stroke="#333" stroke-width="0.8"/>
<ellipse cx="312.4" cy="192.3" rx="1.1" ry="0.9" fill="none" stroke="#333" stroke-width="0.8"/>
<ellipse cx="326.4" cy="201.8" rx="1.1" ry="0.9" fill="none" stroke="#333" stroke-width="0.8"/>
<polygon points="310.6,173.1 314,170.8 325.3,174.9 328.7,178.7 328,184.4 324.2,184.4 314,181.4 310.6,178.7" fill="none" stroke="#333" stroke-width="0.8"/>
<ellipse cx="319.6" cy="177.6" rx="5" ry="3.4" fill="none" stroke="#333" stroke-width="0.8"/>
<ellipse cx="312.4" cy="173.1" rx="0.9" ry="0.7" fill="none" stroke="#333" stroke-width="0.8"/>
<ellipse cx="326.4" cy="182.6" rx="0.9" ry="0.7" fill="none" stroke="#333" stroke-width="0.8"/>
<line x1="319.6" y1="172.4" x2="319.6" y2="196.8" stroke="#333" stroke-width="0.6"/>
<path d="M418.6 241.7C420.8 241.2 427.7 240.2 431.8 238.7C435.8 237.3 439.3 236.1 443.1 233.1C446.9 230.1 452.5 222.7 454.4 220.6" fill="none" stroke="#333" stroke-width="0.8"/>
<path d="M398.9 244.4C399.5 246.1 399.7 251.8 402.3 254.6C405 257.4 411 260.8 414.8 261.4C418.5 262 421 259.7 425 258C428.9 256.3 434.6 253.3 438.6 251.2C442.5 249.1 444.6 249.3 448.7 245.5C452.9 241.8 461 231.4 463.5 228.6" fill="none" stroke="#333" stroke-width="0.8"/>
<path d="M443.1 233.1C443.9 234 446.9 236.9 448.1 238.7C449.2 240.6 449.6 243.5 449.9 244.4" fill="none" stroke="#333" stroke-width="0.8"/>
<path d="M446.5 230.8C447.3 231.8 450.3 234.6 451.5 236.5C452.6 238.4 453 241.2 453.3 242.1" fill="none" stroke="#333" stroke-width="0.8"/>
<polygon points="393.7,236.5 396.6,234.2 406.8,235.3 418.2,242.1 418.6,244.9 415.4,246.2 402.3,244.4 394.4,238.7" fill="none" stroke="#333" stroke-width="0.8"/>
<ellipse cx="406.4" cy="239.4" rx="5.7" ry="2.9" fill="none" stroke="#333" stroke-width="0.8"/>
<ellipse cx="406.4" cy="240.1" rx="3.9" ry="1.8" fill="none" stroke="#333" stroke-width="0.8"/>
<ellipse cx="396.6" cy="236.5" rx="1.1" ry="0.9" fill="none" stroke="#333" stroke-width="0.8"/>
<ellipse cx="415.9" cy="244" rx="1.1" ry="0.9" fill="none" stroke="#333" stroke-width="0.8"/>
<polygon points="394.4,218.4 397.8,216.8 408,217.7 418.2,223.6 418.6,226.3 415.4,227.4 403.4,225.8 395.5,221.3" fill="none" stroke="#333" stroke-width="0.8"/>
<ellipse cx="406.4" cy="221.5" rx="5.4" ry="2.9" fill="none" stroke="#333" stroke-width="0.8"/>
<ellipse cx="397.3" cy="218.8" rx="0.9" ry="0.7" fill="none" stroke="#333" stroke-width="0.8"/>
<ellipse cx="415.4" cy="225.4" rx="0.9" ry="0.7" fill="none" stroke="#333" stroke-width="0.8"/>
<line x1="406.4" y1="210.9" x2="406.4" y2="239.9" stroke="#333" stroke-width="0.6"/>
</g>
<polygon points="260.7,207.4 263.5,208.8 263.5,217.9 258.6,230.1 251.7,241.4 242.1,247.5 220.3,252.7 217.7,251.8 214.2,245.7 213.7,240.5 220.6,235.6 224.7,233.9 240.3,233.6 243.8,234.9 249.9,224.8 256.9,211.8" fill="none" stroke="#333" stroke-width="0.8"/>
<path d="M258.3 213C257.3 215.1 254.8 221.9 252.5 225.7C250.3 229.5 248 232.9 244.7 235.6C241.3 238.4 237 239.9 232.5 242.3C228 244.7 220.2 248.8 217.7 250.1" fill="none" stroke="#333" stroke-width="0.8"/>
<line x1="216.8" y1="245.4" x2="243.8" y2="234.9" stroke="#333" stroke-width="0.8"/>
<ellipse cx="259.8" cy="214.9" rx="0.9" ry="2.4" fill="none" stroke="#333" stroke-width="0.8" transform="rotate(10 259.8 214.9)"/>
<polygon points="326.2,250.1 328.7,249.2 328.7,258.8 324,271 317,282.3 307.4,289.3 288.2,294.5 285.6,293.7 284.4,289.3 286.5,285.8 306.5,275.7 309.1,277.1 314.4,269.3 321.3,255.3" fill="none" stroke="#333" stroke-width="0.8"/>
<path d="M323.1 254.5C322 256.8 318.8 264.3 316.5 268.4C314.1 272.5 312.4 275.7 309.1 278.9C305.9 282 300.7 285.2 297 287.6C293.2 289.9 288.2 291.9 286.5 292.8" fill="none" stroke="#333" stroke-width="0.8"/>
<line x1="286.5" y1="290.2" x2="308.3" y2="279.7" stroke="#333" stroke-width="0.8"/>
<ellipse cx="326" cy="256.2" rx="0.9" ry="2.4" fill="none" stroke="#333" stroke-width="0.8" transform="rotate(10 326 256.2)"/>
<ellipse cx="268.2" cy="219.6" rx="2.2" ry="3.2" fill="#f2f2f2" stroke="#222" stroke-width="1" transform="rotate(15 268.2 219.6)"/>
<ellipse cx="268.2" cy="219.6" rx="1" ry="1.4" fill="#fff" stroke="#333" stroke-width="0.6" transform="rotate(15 268.2 219.6)"/>
<ellipse cx="313.9" cy="249.2" rx="2.3" ry="3.2" fill="#f2f2f2" stroke="#222" stroke-width="1" transform="rotate(15 313.9 249.2)"/>
<ellipse cx="313.9" cy="249.2" rx="1" ry="1.4" fill="#fff" stroke="#333" stroke-width="0.6" transform="rotate(15 313.9 249.2)"/>
<line x1="280.1" y1="226.4" x2="274.7" y2="223.9" stroke="#222" stroke-width="3" stroke-linecap="butt"/>
<ellipse cx="281.6" cy="227.1" rx="1.8" ry="2.6" fill="#b8b8b8" stroke="#111" stroke-width="1.3" transform="rotate(205 281.6 227.1)"/>
<line x1="295.9" y1="239.5" x2="301.3" y2="242" stroke="#222" stroke-width="3" stroke-linecap="butt"/>
<ellipse cx="294.3" cy="238.8" rx="1.8" ry="2.6" fill="#b8b8b8" stroke="#111" stroke-width="1.3" transform="rotate(25 294.3 238.8)"/>
<polyline points="280.7,229.2 279.5,240.2 292.1,239.3" fill="none" stroke="#333" stroke-width="0.6"/>
<line x1="262.1" y1="233.6" x2="267" y2="222.2" stroke="#333" stroke-width="0.6"/>
<line x1="303.9" y1="257.1" x2="311.8" y2="251.8" stroke="#333" stroke-width="0.6"/>
<line x1="231.1" y1="212.6" x2="249.9" y2="221.7" stroke="#333" stroke-width="0.6"/>
<line x1="340.5" y1="268.4" x2="328.3" y2="264" stroke="#333" stroke-width="0.6"/>
<line x1="249.9" y1="209.2" x2="263.9" y2="201.8" stroke="#444" stroke-width="0.6" stroke-dasharray="14 3 3 3" stroke-linecap="butt"/>
<line x1="263.9" y1="201.8" x2="311.8" y2="228.3" stroke="#444" stroke-width="0.6" stroke-dasharray="14 3 3 3" stroke-linecap="butt"/>
<line x1="311.8" y1="228.3" x2="375" y2="193.5" stroke="#444" stroke-width="0.6" stroke-dasharray="14 3 3 3" stroke-linecap="butt"/>
<line x1="328.8" y1="257.9" x2="333.5" y2="261.1" stroke="#444" stroke-width="0.6" stroke-dasharray="14 3 3 3" stroke-linecap="butt"/>
<line x1="333.5" y1="261.1" x2="375" y2="237" stroke="#444" stroke-width="0.6" stroke-dasharray="14 3 3 3" stroke-linecap="butt"/>
<line x1="270.8" y1="221" x2="277.8" y2="224.5" stroke="#333" stroke-width="0.6"/>
<line x1="299.6" y1="241.7" x2="311.8" y2="248.4" stroke="#333" stroke-width="0.6"/>
<ellipse cx="217.7" cy="262.8" rx="2.3" ry="1.4" fill="#f2f2f2" stroke="#222" stroke-width="1"/>
<ellipse cx="217.7" cy="262.8" rx="1" ry="0.6" fill="#fff" stroke="#333" stroke-width="0.6"/>
<ellipse cx="224.1" cy="259.7" rx="2.3" ry="1.4" fill="#f2f2f2" stroke="#222" stroke-width="1"/>
<ellipse cx="224.1" cy="259.7" rx="1" ry="0.6" fill="#fff" stroke="#333" stroke-width="0.6"/>
<polygon points="226.2,266.3 225,268.1 222.6,268.1 221.4,266.3 222.6,264.5 225,264.5" fill="#999" stroke="#222" stroke-width="1"/>
<circle cx="223.8" cy="266.3" r="1.1" fill="#ddd" stroke="#333" stroke-width="0.7"/>
<line x1="217.9" y1="278.6" x2="217.9" y2="271.6" stroke="#222" stroke-width="2.9" stroke-linecap="butt"/>
<ellipse cx="217.9" cy="280.2" rx="1.7" ry="2.5" fill="#b8b8b8" stroke="#111" stroke-width="1.3" transform="rotate(-90 217.9 280.2)"/>
<line x1="201.1" y1="250.1" x2="215.9" y2="261.4" stroke="#333" stroke-width="0.6"/>
<line x1="201.1" y1="250.1" x2="222" y2="258.8" stroke="#333" stroke-width="0.6"/>
<line x1="199.4" y1="282.3" x2="215.1" y2="276.8" stroke="#333" stroke-width="0.6"/>
<line x1="232.5" y1="289.3" x2="225.5" y2="269.3" stroke="#333" stroke-width="0.6"/>
<line x1="217.9" y1="240.5" x2="217.9" y2="277.1" stroke="#444" stroke-width="0.6" stroke-dasharray="14 3 3 3" stroke-linecap="butt"/>
<line x1="224.3" y1="234.4" x2="224.3" y2="266.7" stroke="#444" stroke-width="0.6" stroke-dasharray="14 3 3 3" stroke-linecap="butt"/>
<ellipse cx="290.9" cy="299.2" rx="2.3" ry="1.4" fill="#f2f2f2" stroke="#222" stroke-width="1"/>
<ellipse cx="290.9" cy="299.2" rx="1" ry="0.6" fill="#fff" stroke="#333" stroke-width="0.6"/>
<ellipse cx="301.8" cy="303.8" rx="2.3" ry="1.4" fill="#f2f2f2" stroke="#222" stroke-width="1"/>
<ellipse cx="301.8" cy="303.8" rx="1" ry="0.6" fill="#fff" stroke="#333" stroke-width="0.6"/>
<polygon points="304.2,313.7 303,315.5 300.6,315.5 299.4,313.7 300.6,311.9 303,311.9" fill="#999" stroke="#222" stroke-width="1"/>
<circle cx="301.8" cy="313.7" r="1.1" fill="#ddd" stroke="#333" stroke-width="0.7"/>
<line x1="290.9" y1="317.3" x2="290.9" y2="310.3" stroke="#222" stroke-width="2.9" stroke-linecap="butt"/>
<ellipse cx="290.9" cy="318.9" rx="1.7" ry="2.5" fill="#b8b8b8" stroke="#111" stroke-width="1.3" transform="rotate(-90 290.9 318.9)"/>
<line x1="291.2" y1="287.6" x2="291.2" y2="318.9" stroke="#444" stroke-width="0.6" stroke-dasharray="14 3 3 3" stroke-linecap="butt"/>
<line x1="302.2" y1="283.2" x2="302.2" y2="313.7" stroke="#444" stroke-width="0.6" stroke-dasharray="14 3 3 3" stroke-linecap="butt"/>
<line x1="317" y1="296.3" x2="293.5" y2="298.9" stroke="#333" stroke-width="0.6"/>
<line x1="317" y1="297.1" x2="304.8" y2="303.2" stroke="#333" stroke-width="0.6"/>
<line x1="286.5" y1="329.4" x2="290" y2="321.5" stroke="#333" stroke-width="0.6"/>
<line x1="313.5" y1="325" x2="303.9" y2="315.4" stroke="#333" stroke-width="0.6"/>
<line x1="265.6" y1="328.2" x2="252.5" y2="338.1" stroke="#333" stroke-width="0.6"/>
<line x1="265.6" y1="328.2" x2="277.8" y2="349.9" stroke="#333" stroke-width="0.6"/>
<polygon points="244.4,350.3 267.8,360.8 262.1,367 248.5,371.9 282,387.9 283.5,390 280.3,392.8 274.7,391.5 226.6,367 223.5,363.9 225.5,359.7" fill="none" stroke="#333" stroke-width="0.8"/>
<line x1="246" y1="351.4" x2="246" y2="371.2" stroke="#333" stroke-width="0.8"/>
<line x1="226.6" y1="363.9" x2="279.9" y2="390" stroke="#333" stroke-width="0.8"/>
<ellipse cx="249.2" cy="371.9" rx="2" ry="1.2" fill="none" stroke="#333" stroke-width="0.7"/>
<ellipse cx="280.3" cy="389.6" rx="2" ry="1.2" fill="none" stroke="#333" stroke-width="0.7"/>
<polygon points="318,419.3 320.7,418.3 334.3,423.5 342.6,422.4 355.2,428.7 370.8,423.5 385.5,428.7 384.4,433.9 376.1,443.4 369.8,445.4 351,438.1 318,420.4" fill="none" stroke="#333" stroke-width="0.8"/>
<line x1="355.2" y1="428.7" x2="351" y2="438.1" stroke="#333" stroke-width="0.8"/>
<line x1="370.8" y1="423.5" x2="374" y2="442.9" stroke="#333" stroke-width="0.8"/>
<line x1="320.7" y1="420.4" x2="352" y2="436" stroke="#333" stroke-width="0.8"/>
<ellipse cx="339.5" cy="424.5" rx="2" ry="1.2" fill="none" stroke="#333" stroke-width="0.7"/>
<line x1="249.2" y1="341.5" x2="249.2" y2="347.5" stroke="#222" stroke-width="2.8" stroke-linecap="butt"/>
<ellipse cx="249.2" cy="340.5" rx="3" ry="2" fill="#eee" stroke="#222" stroke-width="1"/>
<line x1="279.5" y1="356.1" x2="279.5" y2="362.1" stroke="#222" stroke-width="2.8" stroke-linecap="butt"/>
<ellipse cx="279.5" cy="355.1" rx="3" ry="2" fill="#eee" stroke="#222" stroke-width="1"/>
<line x1="340.1" y1="394.2" x2="340.1" y2="400.2" stroke="#222" stroke-width="2.8" stroke-linecap="butt"/>
<ellipse cx="340.1" cy="393.2" rx="3" ry="2" fill="#eee" stroke="#222" stroke-width="1"/>
<line x1="370.2" y1="398.4" x2="370.2" y2="404.4" stroke="#222" stroke-width="2.8" stroke-linecap="butt"/>
<ellipse cx="370.2" cy="397.4" rx="3" ry="2" fill="#eee" stroke="#222" stroke-width="1"/>
<line x1="270.5" y1="431.2" x2="270.5" y2="437.2" stroke="#222" stroke-width="2.8" stroke-linecap="butt"/>
<ellipse cx="270.5" cy="430.2" rx="3" ry="2" fill="#eee" stroke="#222" stroke-width="1"/>
<line x1="266.9" y1="328.4" x2="252.1" y2="338.4" stroke="#333" stroke-width="0.6"/>
<line x1="266.9" y1="328.4" x2="277.8" y2="351.4" stroke="#333" stroke-width="0.6"/>
<line x1="353.5" y1="369.6" x2="342.2" y2="390.7" stroke="#333" stroke-width="0.6"/>
<line x1="353.5" y1="369.6" x2="368.8" y2="394.2" stroke="#333" stroke-width="0.6"/>
<line x1="235" y1="441.9" x2="267.4" y2="433.9" stroke="#333" stroke-width="0.6"/>
<line x1="217.2" y1="357.2" x2="224.5" y2="361.4" stroke="#333" stroke-width="0.6"/>
<line x1="315.4" y1="407.8" x2="321.7" y2="419.3" stroke="#333" stroke-width="0.6"/>
<polygon points="245.9,474.5 277.5,461.6 282.3,453 287.1,451.5 295.7,455.9 297.6,460.7 302.4,462.6 307.2,460.7 379.1,501.9 382.9,507.6 388.6,512.4 394.4,510.5 400.1,514.3 400.1,521 395.4,529.7 382.9,540.2 373.3,547.9 368.5,547.9 246.8,478.9 244.9,476.4" fill="none" stroke="#333" stroke-width="0.8"/>
<line x1="277.5" y1="461.6" x2="395.4" y2="529.7" stroke="#333" stroke-width="1.1"/>
<ellipse cx="248.7" cy="476.4" rx="2" ry="1.2" fill="none" stroke="#333" stroke-width="0.7"/>
<ellipse cx="270.8" cy="466.4" rx="2" ry="1.2" fill="none" stroke="#333" stroke-width="0.7"/>
<ellipse cx="279.8" cy="492.9" rx="2" ry="1.2" fill="none" stroke="#333" stroke-width="0.7"/>
<ellipse cx="340.4" cy="528.1" rx="2" ry="1.2" fill="none" stroke="#333" stroke-width="0.7"/>
<ellipse cx="386.3" cy="533.5" rx="2" ry="1.2" fill="none" stroke="#333" stroke-width="0.7"/>
<ellipse cx="370.8" cy="545.9" rx="2" ry="1.2" fill="none" stroke="#333" stroke-width="0.7"/>
<polygon points="283,518.5 281.4,520.9 278.2,520.9 276.6,518.5 278.2,516.2 281.4,516.2" fill="#eee" stroke="#222" stroke-width="1"/>
<circle cx="279.8" cy="518.5" r="1.4" fill="#ddd" stroke="#333" stroke-width="0.7"/>
<polygon points="343.6,548.8 342,551.2 338.8,551.2 337.2,548.8 338.8,546.5 342,546.5" fill="#eee" stroke="#222" stroke-width="1"/>
<circle cx="340.4" cy="548.8" r="1.4" fill="#ddd" stroke="#333" stroke-width="0.7"/>
<polygon points="270.7,594.4 269.1,596.8 265.9,596.8 264.3,594.4 265.9,592.1 269.1,592.1" fill="#ccc" stroke="#222" stroke-width="1"/>
<circle cx="267.5" cy="594.4" r="1.4" fill="#ddd" stroke="#333" stroke-width="0.7"/>
<line x1="386.3" y1="497.7" x2="386.3" y2="503.7" stroke="#222" stroke-width="2.8" stroke-linecap="butt"/>
<ellipse cx="386.3" cy="496.7" rx="3" ry="2" fill="#eee" stroke="#222" stroke-width="1"/>
<line x1="226.7" y1="513.4" x2="276.5" y2="517.8" stroke="#333" stroke-width="0.6"/>
<line x1="325" y1="555.5" x2="337.3" y2="549.8" stroke="#333" stroke-width="0.6"/>
<line x1="409.7" y1="541.2" x2="392.5" y2="531.2" stroke="#333" stroke-width="0.6"/>
<line x1="221.9" y1="565.1" x2="411.6" y2="480.8" stroke="#444" stroke-width="0.6" stroke-dasharray="14 3 3 3" stroke-linecap="butt"/>
<line x1="411.6" y1="480.8" x2="428.9" y2="489.8" stroke="#444" stroke-width="0.6" stroke-dasharray="14 3 3 3" stroke-linecap="butt"/>
<line x1="249.4" y1="347" x2="249.4" y2="622" stroke="#444" stroke-width="0.6" stroke-dasharray="14 3 3 3" stroke-linecap="butt"/>
<line x1="270.7" y1="438" x2="270.7" y2="612" stroke="#444" stroke-width="0.6" stroke-dasharray="14 3 3 3" stroke-linecap="butt"/>
<line x1="279.7" y1="360" x2="279.7" y2="518" stroke="#444" stroke-width="0.6" stroke-dasharray="14 3 3 3" stroke-linecap="butt"/>
<line x1="340.2" y1="400" x2="340.2" y2="548" stroke="#444" stroke-width="0.6" stroke-dasharray="14 3 3 3" stroke-linecap="butt"/>
<line x1="370.6" y1="405" x2="370.6" y2="690" stroke="#444" stroke-width="0.6" stroke-dasharray="14 3 3 3" stroke-linecap="butt"/>
<line x1="386.3" y1="504" x2="386.3" y2="690" stroke="#444" stroke-width="0.6" stroke-dasharray="14 3 3 3" stroke-linecap="butt"/>
<polyline points="142.8,526.1 157.1,517.9 160.6,518.3 203.2,543.6 204.1,547 204.1,557.5 201.5,561 166.7,580.1 156.2,570.6 151.8,569.7 142.3,569.7 131.8,564.5 142.3,555.7" fill="none" stroke="#333" stroke-width="0.8"/>
<path d="M142.3 555.7C143.3 554.6 147 551.4 148.4 548.8C149.8 546.2 150.6 542.7 150.6 540.1C150.6 537.5 149.6 534.8 148.4 533.1C147.1 531.4 144.1 530.8 143.1 529.6C142.2 528.5 142.8 526.7 142.8 526.1" fill="none" stroke="#333" stroke-width="0.8"/>
<polyline points="156.2,570.6 201.5,547 203.2,543.6" fill="none" stroke="#333" stroke-width="0.8"/>
<line x1="201.5" y1="547" x2="201.5" y2="561" stroke="#333" stroke-width="0.8"/>
<line x1="159.7" y1="573.2" x2="202.4" y2="550.5" stroke="#333" stroke-width="0.8"/>
<polygon points="150.1,524.4 157.9,520.6 159.7,522.3 151.8,526.1" fill="none" stroke="#333" stroke-width="1"/>
<polygon points="184.9,544.9 192.8,541.1 194.5,542.9 186.7,546.7" fill="none" stroke="#333" stroke-width="1"/>
<ellipse cx="171" cy="570.9" rx="1.5" ry="1.8" fill="none" stroke="#333" stroke-width="0.7"/>
<ellipse cx="182.3" cy="564.5" rx="1.5" ry="1.8" fill="none" stroke="#333" stroke-width="0.7"/>
<line x1="151.5" y1="570.6" x2="151.5" y2="682.1" stroke="#333" stroke-width="0.8"/>
<line x1="154.8" y1="571.4" x2="154.8" y2="680.3" stroke="#333" stroke-width="0.8"/>
<polyline points="163.2,579.3 163.2,634.1 173.6,655.1 173.6,672.5" fill="none" stroke="#333" stroke-width="0.8"/>
<polyline points="165.3,580.5 165.3,633.8 175.4,654.2" fill="none" stroke="#333" stroke-width="0.8"/>
<polyline points="151.5,682.1 154.8,680.3 171.9,671.6 176.2,665.5 176.2,660.3 173.6,655.9" fill="none" stroke="#333" stroke-width="0.8"/>
<path d="M171.9 657.7C171.9 660 171.9 669.3 171.9 671.6" fill="none" stroke="#333" stroke-width="0.8"/>
<path d="M142.3 569.7C140.5 570 134.7 570.3 131.8 571.4C128.9 572.6 126.4 574.3 124.8 576.7C123.2 579 122.2 582.8 122.2 585.4C122.2 588 124.7 590 124.8 592.3C125 594.7 124.3 597.4 123.1 599.3C121.9 601.2 119.9 603.4 117.9 603.7C115.8 603.9 112.9 600.9 110.9 601C108.9 601.2 106.6 603.9 105.7 604.5" fill="none" stroke="#333" stroke-width="0.8"/>
<polyline points="105.7,604.5 105.3,695.1" fill="none" stroke="#333" stroke-width="0.8"/>
<polyline points="107.4,605.4 107.4,693.4" fill="none" stroke="#333" stroke-width="0.8"/>
<polyline points="105.7,604.5 124.8,615 130.1,620.2 131.8,624.6 131.8,684.7" fill="none" stroke="#333" stroke-width="0.8"/>
<line x1="129.7" y1="622" x2="129.7" y2="685" stroke="#333" stroke-width="0.8"/>
<line x1="105.3" y1="695.1" x2="130.1" y2="682.9" stroke="#333" stroke-width="0.8"/>
<line x1="131.8" y1="684.7" x2="151.5" y2="682.1" stroke="#333" stroke-width="0.8"/>
<ellipse cx="130.1" cy="603.7" rx="6.6" ry="9.6" fill="none" stroke="#333" stroke-width="0.8" transform="rotate(25 130.1 603.7)"/>
<ellipse cx="127.1" cy="586.2" rx="1.8" ry="2" fill="none" stroke="#333" stroke-width="0.7"/>
<ellipse cx="111.8" cy="605.1" rx="1.8" ry="2" fill="none" stroke="#333" stroke-width="0.7"/>
<ellipse cx="144.4" cy="604" rx="1.3" ry="1.8" fill="none" stroke="#333" stroke-width="0.7"/>
<ellipse cx="144.4" cy="623.7" rx="1.3" ry="1.8" fill="none" stroke="#333" stroke-width="0.7"/>
<ellipse cx="145.7" cy="649.5" rx="1.8" ry="2.5" fill="none" stroke="#333" stroke-width="0.7" transform="rotate(20 145.7 649.5)"/>
<path d="M132.7 629.8C134 629.2 138.3 626.5 140.5 626.3C142.7 626.2 145 627 145.7 628.9C146.5 630.8 145.7 635.3 144.9 637.6C144 640 142.6 641.4 140.5 642.9C138.5 644.3 134 645.8 132.7 646.3" fill="none" stroke="#333" stroke-width="0.8"/>
<path d="M132.7 653.3C134.3 653.2 139.7 651.3 142.3 652.4C144.9 653.6 147.5 656.9 148.4 660.3C149.2 663.6 148.4 668.7 147.5 672.5C146.6 676.2 143.9 681.2 143.1 682.9" fill="none" stroke="#333" stroke-width="0.8"/>
<path d="M142.3 653.3C142.8 654.8 145.2 658.8 145.7 662C146.3 665.2 146 669 145.4 672.5C144.8 676 142.8 681.2 142.3 682.9" fill="none" stroke="#333" stroke-width="0.8"/>
<path d="M107.4 634.1C108.3 633.4 110.8 629.8 112.6 629.8C114.5 629.8 117.4 631.7 118.7 634.1C120.1 636.6 121 641.3 121 644.6C121 647.9 120 652.3 118.7 654.2C117.5 656.1 115.4 656.6 113.5 655.9C111.6 655.2 108.4 650.8 107.4 649.8" fill="none" stroke="#333" stroke-width="0.8"/>
<path d="M116.1 639.4C115.8 640.5 114.4 643.9 114.4 646.3C114.4 648.8 115.8 652.9 116.1 654.2" fill="none" stroke="#333" stroke-width="0.8"/>
<line x1="173.6" y1="655.9" x2="238.1" y2="621.1" stroke="#333" stroke-width="1.2"/>
<line x1="112.1" y1="537.6" x2="118.4" y2="540.6" stroke="#222" stroke-width="3" stroke-linecap="butt"/>
<ellipse cx="110.6" cy="536.9" rx="1.8" ry="2.6" fill="#b8b8b8" stroke="#111" stroke-width="1.3" transform="rotate(25 110.6 536.9)"/>
<line x1="117" y1="517.4" x2="111.8" y2="534.8" stroke="#333" stroke-width="0.6"/>
<line x1="117.9" y1="540.9" x2="142.3" y2="555.4" stroke="#333" stroke-width="0.6"/>
<line x1="171" y1="570.9" x2="187.6" y2="580.5" stroke="#444" stroke-width="0.6" stroke-dasharray="14 3 3 3" stroke-linecap="butt"/>
<line x1="187.6" y1="580.5" x2="290" y2="535.7" stroke="#444" stroke-width="0.6" stroke-dasharray="14 3 3 3" stroke-linecap="butt"/>
<line x1="50.4" y1="728.8" x2="129.7" y2="684.2" stroke="#333" stroke-width="1.2"/>
<polyline points="50.4,728.8 50.4,745.3 51.5,753.3 66.2,755.5" fill="none" stroke="#333" stroke-width="0.8"/>
<polyline points="50.4,728.8 70.8,740.8 95.7,726.1 102.5,726.5 147.8,752.1 147.8,756.6 124,770.9 122.9,779.3 70.8,749.9 70.8,740.8" fill="none" stroke="#333" stroke-width="0.8"/>
<polyline points="70.8,748.7 82.1,755.5 127.4,757.8 141,751" fill="none" stroke="#333" stroke-width="0.8"/>
<line x1="124" y1="770.9" x2="181.8" y2="804.2" stroke="#333" stroke-width="0.8"/>
<line x1="50.4" y1="745.3" x2="181.8" y2="820.1" stroke="#333" stroke-width="0.8"/>
<line x1="181.8" y1="804.2" x2="181.8" y2="820.1" stroke="#333" stroke-width="0.8"/>
<line x1="181.8" y1="804.2" x2="257.6" y2="761.2" stroke="#333" stroke-width="0.8"/>
<line x1="184.5" y1="806.5" x2="257.6" y2="764.6" stroke="#333" stroke-width="0.8"/>
<polyline points="184,806.5 184,830.3 258.8,835.2 281.4,846.1" fill="none" stroke="#333" stroke-width="0.8"/>
<ellipse cx="188.6" cy="815.5" rx="2" ry="3.5" fill="none" stroke="#333" stroke-width="0.7" transform="rotate(20 188.6 815.5)"/>
<ellipse cx="204" cy="814.4" rx="1" ry="1.5" fill="none" stroke="#333" stroke-width="0.7"/>
<rect x="109.3" y="701.8" width="20.4" height="7.7" rx="3.9" fill="none" stroke="#333" stroke-width="0.9" transform="rotate(-25 119.5 705.7)"/>
<rect x="61.1" y="724.5" width="19.3" height="7.7" rx="3.9" fill="none" stroke="#333" stroke-width="0.9" transform="rotate(-25 70.8 728.3)"/>
<rect x="179.7" y="669" width="13.1" height="10" rx="5" fill="none" stroke="#333" stroke-width="0.9" transform="rotate(-20 186.3 674)"/>
<rect x="207.3" y="653.6" width="20.4" height="10" rx="5" fill="none" stroke="#333" stroke-width="0.9" transform="rotate(15 217.5 658.6)"/>
<rect x="216.9" y="642" width="20.4" height="7.2" rx="3.6" fill="none" stroke="#333" stroke-width="0.9" transform="rotate(25 227.1 645.7)"/>
<rect x="182.9" y="744.2" width="20.4" height="6.8" rx="3.4" fill="none" stroke="#333" stroke-width="0.9" transform="rotate(-25 193.1 747.6)"/>
<rect x="174.4" y="789" width="19.3" height="7.7" rx="3.9" fill="none" stroke="#333" stroke-width="0.9" transform="rotate(-25 184 792.9)"/>
<ellipse cx="141" cy="718.1" rx="17.7" ry="10.4" fill="none" stroke="#333" stroke-width="0.8"/>
<polyline points="133.1,713.6 133.1,724.9" fill="none" stroke="#333" stroke-width="0.8"/>
<polyline points="133.1,724.9 156.8,713.6" fill="none" stroke="#333" stroke-width="0.8"/>
<path d="M133.1 713.6C133.8 713.8 136.6 713.8 137.6 714.7C138.5 715.7 139.1 717.7 138.7 719.3C138.3 720.9 135.9 723.4 135.3 724.3" fill="none" stroke="#333" stroke-width="0.8"/>
<ellipse cx="214.6" cy="761.2" rx="18.1" ry="10.4" fill="none" stroke="#333" stroke-width="0.8"/>
<ellipse cx="203.3" cy="683.5" rx="6.8" ry="4.1" fill="none" stroke="#333" stroke-width="0.8"/>
<ellipse cx="203.3" cy="683" rx="1.8" ry="1.1" fill="none" stroke="#333" stroke-width="1"/>
<ellipse cx="172.7" cy="731.1" rx="4.5" ry="2.9" fill="none" stroke="#333" stroke-width="0.8"/>
<line x1="169.3" y1="731.7" x2="176.1" y2="730.1" stroke="#333" stroke-width="0.8"/>
<ellipse cx="185.2" cy="742.4" rx="4" ry="3" fill="none" stroke="#333" stroke-width="0.7"/>
<ellipse cx="172.2" cy="742.6" rx="1.8" ry="1.5" fill="none" stroke="#333" stroke-width="0.7"/>
<ellipse cx="168.6" cy="748.3" rx="1.8" ry="1.5" fill="none" stroke="#333" stroke-width="0.7"/>
<ellipse cx="191.9" cy="737.4" rx="1.8" ry="1.5" fill="none" stroke="#333" stroke-width="0.7"/>
<ellipse cx="156.8" cy="708.6" rx="2" ry="1.5" fill="none" stroke="#333" stroke-width="0.7"/>
<ellipse cx="124.7" cy="727.2" rx="2" ry="1.5" fill="none" stroke="#333" stroke-width="0.7"/>
<ellipse cx="231.1" cy="751.7" rx="2" ry="1.5" fill="none" stroke="#333" stroke-width="0.7"/>
<ellipse cx="198.7" cy="770.2" rx="2" ry="1.5" fill="none" stroke="#333" stroke-width="0.7"/>
<ellipse cx="182.9" cy="681.2" rx="1.5" ry="1.2" fill="none" stroke="#333" stroke-width="0.7"/>
<ellipse cx="219.1" cy="656.3" rx="1" ry="1.2" fill="none" stroke="#333" stroke-width="0.7"/>
<ellipse cx="257.6" cy="684.2" rx="26" ry="14.9" fill="none" stroke="#333" stroke-width="0.8"/>
<polyline points="237.2,677.4 249.7,682.6 263.3,675.1 278,683" fill="none" stroke="#333" stroke-width="0.8"/>
<ellipse cx="267.4" cy="652.9" rx="6.8" ry="4.1" fill="none" stroke="#333" stroke-width="0.8"/>
<ellipse cx="267.4" cy="652.5" rx="1.8" ry="1.1" fill="none" stroke="#333" stroke-width="1"/>
<polyline points="256.6,697 256.6,758.8 260.1,759.7 260.1,838.1 281.9,847.7 286.2,845.9 330.7,820.7 330.7,690" fill="none" stroke="#333" stroke-width="0.8"/>
<line x1="280.5" y1="705.7" x2="280.5" y2="846.8" stroke="#333" stroke-width="0.8"/>
<line x1="286.2" y1="704.8" x2="286.2" y2="845.9" stroke="#333" stroke-width="0.8"/>
<polyline points="256.6,697 261,694.9 280.5,705.7 286.2,704.8 288.9,703.1" fill="none" stroke="#333" stroke-width="0.8"/>
<path d="M267.1 723.1C267.8 719.6 269.7 720.6 271.4 721.4C273.2 722.1 276.1 724.6 277.5 727.5C278.9 730.4 279.8 735.2 279.8 738.8C279.8 742.4 278.6 747.5 277.5 749.2C276.4 751 274.9 750.4 273.2 749.2C271.4 748.1 268.1 746.6 267.1 742.3C266.1 737.9 266.3 726.6 267.1 723.1Z" fill="none" stroke="#333" stroke-width="0.8"/>
<line x1="269.7" y1="742.3" x2="279.3" y2="737.9" stroke="#333" stroke-width="0.8"/>
<ellipse cx="308.9" cy="707.4" rx="7.3" ry="10.1" fill="none" stroke="#333" stroke-width="0.8" transform="rotate(22 308.9 707.4)"/>
<ellipse cx="290.2" cy="708.3" rx="1.5" ry="2" fill="none" stroke="#333" stroke-width="0.7"/>
<ellipse cx="322.5" cy="707.4" rx="1" ry="1.3" fill="none" stroke="#333" stroke-width="0.7"/>
<ellipse cx="322.5" cy="726.9" rx="1.2" ry="1.6" fill="none" stroke="#333" stroke-width="0.7"/>
<path d="M293.2 750.1C293.2 747.3 294.5 743.4 297.6 740.5C300.6 737.6 307.4 734.4 311.5 732.7C315.6 730.9 319.9 729.6 322 730.1C324 730.5 324 733 323.7 735.3C323.4 737.6 322.8 741.4 320.2 744C317.6 746.6 311.8 748.8 308 751C304.2 753.2 300 757.2 297.6 757.1C295.1 756.9 293.2 752.9 293.2 750.1Z" fill="none" stroke="#333" stroke-width="0.8"/>
<ellipse cx="308" cy="780.6" rx="18.3" ry="25.8" fill="none" stroke="#333" stroke-width="0.8" transform="rotate(25 308 780.6)"/>
<line x1="304.5" y1="735.6" x2="304.5" y2="787.6" stroke="#333" stroke-width="0.8"/>
<line x1="309.4" y1="734.4" x2="309.4" y2="799.8" stroke="#333" stroke-width="0.8"/>
<polyline points="290.6,787.6 300.2,792.8 304.5,787.6" fill="none" stroke="#333" stroke-width="0.8"/>
<line x1="290.6" y1="796.3" x2="304.5" y2="790.2" stroke="#333" stroke-width="0.8"/>
<ellipse cx="292.9" cy="771" rx="1.8" ry="2.5" fill="none" stroke="#333" stroke-width="0.7"/>
<ellipse cx="324" cy="752.7" rx="1.8" ry="2.5" fill="none" stroke="#333" stroke-width="0.7"/>
<ellipse cx="323.7" cy="789.7" rx="2" ry="2.5" fill="none" stroke="#333" stroke-width="0.7"/>
<ellipse cx="292.3" cy="808.1" rx="1.8" ry="2.5" fill="none" stroke="#333" stroke-width="0.7"/>
<ellipse cx="313.2" cy="822.4" rx="3.5" ry="4.9" fill="none" stroke="#333" stroke-width="0.8" transform="rotate(25 313.2 822.4)"/>
<line x1="200" y1="792.8" x2="256.6" y2="758.8" stroke="#333" stroke-width="0.8"/>
<line x1="200" y1="797.1" x2="258.4" y2="761.8" stroke="#333" stroke-width="0.8"/>
<polyline points="330.7,791 370.7,756.2 371.6,700.5" fill="none" stroke="#333" stroke-width="0.8"/>
<line x1="332.4" y1="722.2" x2="372.5" y2="698.7" stroke="#333" stroke-width="0.8"/>
<line x1="371.6" y1="747.5" x2="400" y2="727.5" stroke="#333" stroke-width="0.8"/>
<line x1="372.5" y1="698.7" x2="372.5" y2="747.5" stroke="#333" stroke-width="0.8"/>
<path d="M330.7 810.2C331.2 810.4 333.7 810.2 334.1 811.1C334.6 812 333.9 814.4 333.3 815.4C332.7 816.5 331.1 816.9 330.7 817.2" fill="none" stroke="#333" stroke-width="0.8"/>
<path d="M256.6 711.8C255.9 711.9 253 711.8 252.3 712.6C251.5 713.5 251.2 716 251.9 717C252.6 718 255.8 718.5 256.6 718.7" fill="none" stroke="#333" stroke-width="0.8"/>
<ellipse cx="267.1" cy="859.9" rx="4.2" ry="2.8" fill="#f2f2f2" stroke="#222" stroke-width="1"/>
<ellipse cx="267.1" cy="859.9" rx="1.9" ry="1.3" fill="#fff" stroke="#333" stroke-width="0.6"/>
<line x1="271.4" y1="859.9" x2="281.9" y2="862.5" stroke="#333" stroke-width="0.6"/>
<polyline points="265.9,882.5 265.9,894.7" fill="none" stroke="#333" stroke-width="0.7"/>
<polyline points="268.3,882.5 268.3,894.7" fill="none" stroke="#333" stroke-width="0.7"/>
<line x1="267.1" y1="882.5" x2="267.1" y2="894.7" stroke="#666" stroke-width="2" stroke-dasharray="1 1" stroke-linecap="butt"/>
<ellipse cx="267.1" cy="896.6" rx="3.8" ry="1.7" fill="#ddd" stroke="#333" stroke-width="0.8"/>
<line x1="271.4" y1="891.2" x2="280.1" y2="891.7" stroke="#333" stroke-width="0.6"/>
<line x1="267.1" y1="690" x2="267.1" y2="881.6" stroke="#444" stroke-width="0.6" stroke-dasharray="14 3 3 3" stroke-linecap="butt"/>
<polyline points="239,621.1 331.2,584 436.4,643.1 437.4,695.2 372.3,748.3 372.3,698.2" fill="none" stroke="#333" stroke-width="1"/>
<polyline points="239,621.1 311.2,662.2 314.2,670.2 323.2,675.2 331.2,671.2" fill="none" stroke="#333" stroke-width="0.8"/>
<path d="M331.2 671.2C334 670.1 342.7 665.7 348.2 664.6C353.7 663.4 358.9 663.2 364.3 664.2C369.6 665.1 376.6 667.8 380.3 670.2C384 672.5 385.3 676.9 386.3 678.2" fill="none" stroke="#333" stroke-width="0.8"/>
<line x1="331.2" y1="671.2" x2="331.2" y2="770" stroke="#333" stroke-width="1"/>
<line x1="329.8" y1="674.2" x2="329.8" y2="770" stroke="#333" stroke-width="0.8"/>
<polyline points="331.2,675.2 361.3,690.2 370.3,697.2 372.3,698.2" fill="none" stroke="#333" stroke-width="0.8"/>
<line x1="361.3" y1="690.2" x2="435.4" y2="644.1" stroke="#333" stroke-width="0.8"/>
<line x1="370.3" y1="696.2" x2="437.4" y2="646.1" stroke="#333" stroke-width="0.8"/>
<polyline points="252.1,624.1 324.2,594 332.2,595.6 415.4,639.1 417.4,644.5 436,644.5" fill="none" stroke="#333" stroke-width="0.8"/>
<polyline points="331.2,585 332.2,595.6 331.8,636.1 331.2,646.1" fill="none" stroke="#333" stroke-width="0.8"/>
<polyline points="280.1,644.5 331.2,634.1" fill="none" stroke="#333" stroke-width="0.8"/>
<polyline points="292.1,650.1 332.2,636.1 342.2,641.1" fill="none" stroke="#333" stroke-width="0.8"/>
<polyline points="300.1,657.2 358.2,634.1 401.3,658.2 400.3,663.2 386.3,670.2" fill="none" stroke="#333" stroke-width="0.8"/>
<line x1="311.2" y1="662.2" x2="358.2" y2="634.1" stroke="#333" stroke-width="0.8"/>
<polyline points="332.2,636.1 360.3,649.1" fill="none" stroke="#333" stroke-width="0.8"/>
<path d="M257.1 630.1C258.6 628.4 261.2 623.6 266.1 620.1C270.9 616.6 279.1 611.9 286.1 609.1C293.1 606.2 302.8 603.4 308.2 603.1C313.5 602.7 316.3 604.6 318.2 607.1C320 609.6 320.5 614.2 319.2 618.1C317.8 621.9 314 626.6 310.2 630.1C306.3 633.6 301.1 636.7 296.1 639.1C291.1 641.5 282.8 643.6 280.1 644.5" fill="none" stroke="#333" stroke-width="0.8"/>
<line x1="252.1" y1="623.1" x2="320.2" y2="595" stroke="#888" stroke-width="2.2" stroke-dasharray="1.2 1" stroke-linecap="butt"/>
<path d="M386.3 710.3C386.8 706.9 388 702.6 390.3 698.2C392.6 693.9 396 688.9 400.3 684.2C404.7 679.5 412 672.9 416.4 670.2C420.7 667.5 424.4 666.8 426.4 668.2C428.4 669.5 429 673.9 428.4 678.2C427.7 682.5 425.7 688.9 422.4 694.2C419 699.6 413 705.9 408.3 710.3C403.7 714.6 397.8 718.9 394.3 720.3C390.8 721.6 388.6 719.9 387.3 718.3C386 716.6 385.8 713.6 386.3 710.3Z" fill="none" stroke="#333" stroke-width="0.8"/>
<polyline points="401.3,685.2 403.3,698.2 415.4,704.2 418.4,696.2" fill="none" stroke="#333" stroke-width="0.8"/>
<line x1="406.3" y1="677.2" x2="427.4" y2="687.2" stroke="#333" stroke-width="0.8"/>
<polygon points="352.2,640.1 361.3,637.1 363.3,639.1 354.2,642.5" fill="none" stroke="#333" stroke-width="1"/>
<polygon points="387.3,661.8 396.3,658.2 397.9,660.6 388.9,664.2" fill="none" stroke="#333" stroke-width="1"/>
<ellipse cx="325.8" cy="604.1" rx="1.5" ry="1.6" fill="none" stroke="#333" stroke-width="0.7"/>
<ellipse cx="325.8" cy="630.1" rx="1.5" ry="1.6" fill="none" stroke="#333" stroke-width="0.7"/>
<ellipse cx="339.8" cy="623.7" rx="1.5" ry="1.6" fill="none" stroke="#333" stroke-width="0.7"/>
<ellipse cx="354.6" cy="601.1" rx="1.5" ry="1.6" fill="none" stroke="#333" stroke-width="0.7"/>
<ellipse cx="404.7" cy="629.7" rx="1.5" ry="1.6" fill="none" stroke="#333" stroke-width="0.7"/>
<ellipse cx="429.4" cy="657.6" rx="1.5" ry="1.6" fill="none" stroke="#333" stroke-width="0.7"/>
<ellipse cx="298.1" cy="662.2" rx="1.5" ry="1.6" fill="none" stroke="#333" stroke-width="0.7"/>
<ellipse cx="249.1" cy="621.5" rx="1.5" ry="1.6" fill="none" stroke="#333" stroke-width="0.7"/>
<ellipse cx="238.4" cy="627.7" rx="1.5" ry="1.6" fill="none" stroke="#333" stroke-width="0.7"/>
<ellipse cx="357.2" cy="696.2" rx="1.5" ry="1.6" fill="none" stroke="#333" stroke-width="0.7"/>
<ellipse cx="369.3" cy="690.2" rx="1.5" ry="1.6" fill="none" stroke="#333" stroke-width="0.7"/>
<ellipse cx="386.3" cy="678.6" rx="1.5" ry="1.6" fill="none" stroke="#333" stroke-width="0.7"/>
<ellipse cx="316.2" cy="645.7" rx="1.5" ry="1.6" fill="none" stroke="#333" stroke-width="0.7"/>
<path d="M289.1 703.8C289.6 704.4 290.3 707.3 292.1 707.2C294 707.1 298.3 705.4 300.1 703.2C302 701.1 303 696.7 303.1 694.2C303.3 691.7 301 690.7 301.1 688.2C301.3 685.7 303 681.5 304.2 679.2C305.3 676.9 306.2 675.4 308.2 674.2C310.2 673 313.7 672 316.2 672.2C318.7 672.4 322 674.7 323.2 675.2" fill="none" stroke="#333" stroke-width="0.8"/>
<ellipse cx="290.1" cy="708.2" rx="1.3" ry="1.8" fill="none" stroke="#333" stroke-width="0.7"/>
<ellipse cx="305.2" cy="689.8" rx="1.3" ry="1.8" fill="none" stroke="#333" stroke-width="0.7"/>
<ellipse cx="322.6" cy="707.2" rx="1" ry="1.3" fill="none" stroke="#333" stroke-width="0.7"/>
<ellipse cx="322.6" cy="727.3" rx="1" ry="1.5" fill="none" stroke="#333" stroke-width="0.7"/>
<ellipse cx="323.8" cy="752.7" rx="1.8" ry="2.5" fill="none" stroke="#333" stroke-width="0.7" transform="rotate(20 323.8 752.7)"/>
<polyline points="372.3,698.2 332.2,718.3" fill="none" stroke="#333" stroke-width="0.8"/>
<polyline points="370.3,697.2 331.2,715.9" fill="none" stroke="#333" stroke-width="0.8"/>
<polygon points="270.1,594.6 268.6,596.9 265.6,596.9 264.1,594.6 265.6,592.4 268.6,592.4" fill="#999" stroke="#222" stroke-width="1"/>
<circle cx="267.1" cy="594.6" r="1.4" fill="#ddd" stroke="#333" stroke-width="0.7"/>
<line x1="266.1" y1="597" x2="266.1" y2="650.1" stroke="#333" stroke-width="0.6"/>
<line x1="268.5" y1="597" x2="268.5" y2="650.1" stroke="#333" stroke-width="0.6"/>
<polygon points="429.8,711.9 428.3,714.1 425.3,714.1 423.8,711.9 425.3,709.6 428.3,709.6" fill="#999" stroke="#222" stroke-width="1"/>
<circle cx="426.8" cy="711.9" r="1.4" fill="#ddd" stroke="#333" stroke-width="0.7"/>
<polygon points="430,741.9 428.4,744.3 425.2,744.3 423.6,741.9 425.2,739.6 428.4,739.6" fill="#eee" stroke="#222" stroke-width="1"/>
<circle cx="426.8" cy="741.9" r="1.4" fill="#ddd" stroke="#333" stroke-width="0.7"/>
<line x1="429.4" y1="711.3" x2="450" y2="708.2" stroke="#333" stroke-width="0.6"/>
<line x1="430.4" y1="741.3" x2="445.4" y2="739.3" stroke="#333" stroke-width="0.6"/>
<polyline points="386.3,711.3 426.4,729.3 426.8,740.3" fill="none" stroke="#333" stroke-width="0.6" stroke-dasharray="14 3 3 3" stroke-linecap="butt"/>
<line x1="284.1" y1="587" x2="270.1" y2="594" stroke="#333" stroke-width="0.6"/>
<line x1="446.5" y1="695" x2="818" y2="533" stroke="#444" stroke-width="0.6" stroke-dasharray="14 3 3 3" stroke-linecap="butt"/>
<path d="M467.1 335.1C467 333.9 466 330.2 466.5 328.1C467 325.9 468.2 323.7 470.1 322C472 320.4 474.9 318.8 478.1 318C481.3 317.3 486.3 317.1 489.1 317.6C492 318.1 490 317.6 495.1 321C500.3 324.4 516 335.2 520.2 338.1" fill="none" stroke="#333" stroke-width="0.8"/>
<path d="M470.5 334.5C470.4 333.5 469.5 330.3 470.1 328.5C470.7 326.6 472.4 324.7 474.1 323.4C475.8 322.2 477.8 321.4 480.1 321C482.4 320.6 486 320.5 488.1 321C490.3 321.5 491.1 322.9 493.1 324C495.1 325.2 499 327.4 500.1 328.1" fill="none" stroke="#333" stroke-width="0.8"/>
<polyline points="467.1,335.1 472.1,343.1 486.1,356.1 487.1,360.1 486.5,374.1 487.1,388.2 489.7,388.2 516.2,377.1" fill="none" stroke="#333" stroke-width="0.8"/>
<polyline points="470.1,334.5 478.1,343.1 491.1,352.5" fill="none" stroke="#333" stroke-width="0.8"/>
<polygon points="478.1,337.1 500.1,325 521.2,339.1 524.2,341.1 527.2,347.1 491.1,348.1" fill="none" stroke="#333" stroke-width="0.8"/>
<polygon points="491.1,348.1 527.2,347.1 529.2,358.1 529.2,377.1 501.1,376.1 491.1,370.1" fill="none" stroke="#333" stroke-width="0.8"/>
<line x1="491.1" y1="359.1" x2="529.2" y2="358.1" stroke="#333" stroke-width="0.8"/>
<line x1="492.1" y1="362.1" x2="529.2" y2="361.1" stroke="#333" stroke-width="0.8"/>
<line x1="528.8" y1="348.1" x2="528.8" y2="377.1" stroke="#333" stroke-width="1.2"/>
<polyline points="524.2,341.1 572.3,351.1 586.3,362.1 590.3,369.1 591.3,378.1 588.3,379.1 588.3,370.1" fill="none" stroke="#333" stroke-width="0.8"/>
<polyline points="529.2,360.1 587.3,371.1" fill="none" stroke="#333" stroke-width="0.8"/>
<polyline points="529.2,362.5 586.3,373.5" fill="none" stroke="#333" stroke-width="0.8"/>
<polyline points="529.2,377.1 562.3,383.1 587.3,372.1" fill="none" stroke="#333" stroke-width="0.8"/>
<line x1="527.2" y1="341.7" x2="535.6" y2="343.7" stroke="#333" stroke-width="2.3"/>
<line x1="538.8" y1="344.3" x2="547.2" y2="346.3" stroke="#333" stroke-width="2.3"/>
<line x1="550.4" y1="346.9" x2="558.8" y2="348.9" stroke="#333" stroke-width="2.3"/>
<line x1="562.1" y1="349.5" x2="570.5" y2="351.5" stroke="#333" stroke-width="2.3"/>
<line x1="532.2" y1="349.1" x2="540.6" y2="351.1" stroke="#444" stroke-width="2.3"/>
<line x1="543.8" y1="351.7" x2="552.2" y2="353.7" stroke="#444" stroke-width="2.3"/>
<line x1="555.4" y1="354.3" x2="563.9" y2="356.3" stroke="#444" stroke-width="2.3"/>
<line x1="567.1" y1="356.9" x2="575.5" y2="358.9" stroke="#444" stroke-width="2.3"/>
<line x1="540" y1="356.5" x2="546.4" y2="357.9" stroke="#333" stroke-width="3.2"/>
<line x1="540" y1="356.5" x2="546.4" y2="357.9" stroke="#ddd" stroke-width="1.3"/>
<line x1="552" y1="359.5" x2="558.4" y2="360.9" stroke="#333" stroke-width="3.2"/>
<line x1="552" y1="359.5" x2="558.4" y2="360.9" stroke="#ddd" stroke-width="1.3"/>
<line x1="564.1" y1="361.9" x2="570.5" y2="363.3" stroke="#333" stroke-width="3.2"/>
<line x1="564.1" y1="361.9" x2="570.5" y2="363.3" stroke="#ddd" stroke-width="1.3"/>
<line x1="576.1" y1="364.5" x2="582.5" y2="365.9" stroke="#333" stroke-width="3.2"/>
<line x1="576.1" y1="364.5" x2="582.5" y2="365.9" stroke="#ddd" stroke-width="1.3"/>
<line x1="504.6" y1="338.1" x2="511.8" y2="338.1" stroke="#3a3a3a" stroke-width="2.8"/>
<line x1="504.6" y1="338.1" x2="511.8" y2="338.1" stroke="#b0b0b0" stroke-width="1"/>
<line x1="496.5" y1="342.5" x2="503.8" y2="342.5" stroke="#3a3a3a" stroke-width="2.8"/>
<line x1="496.5" y1="342.5" x2="503.8" y2="342.5" stroke="#b0b0b0" stroke-width="1"/>
<line x1="510.6" y1="342.5" x2="517.8" y2="342.5" stroke="#3a3a3a" stroke-width="2.8"/>
<line x1="510.6" y1="342.5" x2="517.8" y2="342.5" stroke="#b0b0b0" stroke-width="1"/>
<line x1="501.5" y1="346.7" x2="508.8" y2="346.7" stroke="#3a3a3a" stroke-width="2.8"/>
<line x1="501.5" y1="346.7" x2="508.8" y2="346.7" stroke="#b0b0b0" stroke-width="1"/>
<line x1="515" y1="346.7" x2="522.2" y2="346.7" stroke="#3a3a3a" stroke-width="2.8"/>
<line x1="515" y1="346.7" x2="522.2" y2="346.7" stroke="#b0b0b0" stroke-width="1"/>
<ellipse cx="496.1" cy="380.1" rx="1.3" ry="1.8" fill="none" stroke="#333" stroke-width="0.7"/>
<text transform="translate(493.7 335.7) rotate(153) scale(0.9 1)" font-size="8.5" font-weight="bold" text-anchor="middle">HOT</text>
<line x1="469.6" y1="347.2" x2="476" y2="350.2" stroke="#222" stroke-width="3" stroke-linecap="butt"/>
<ellipse cx="468.1" cy="346.5" rx="1.8" ry="2.6" fill="#b8b8b8" stroke="#111" stroke-width="1.3" transform="rotate(25 468.1 346.5)"/>
<line x1="451.6" y1="355.2" x2="457.9" y2="358.2" stroke="#222" stroke-width="3" stroke-linecap="butt"/>
<ellipse cx="450.1" cy="354.5" rx="1.8" ry="2.6" fill="#b8b8b8" stroke="#111" stroke-width="1.3" transform="rotate(25 450.1 354.5)"/>
<line x1="442" y1="331.1" x2="466.1" y2="345.1" stroke="#333" stroke-width="0.6"/>
<line x1="442" y1="331.1" x2="449.7" y2="352.5" stroke="#333" stroke-width="0.6"/>
<line x1="474.1" y1="350.1" x2="486.1" y2="356.1" stroke="#333" stroke-width="0.6"/>
<line x1="457.1" y1="358.1" x2="487.1" y2="374.1" stroke="#333" stroke-width="0.6"/>
<line x1="544.2" y1="325" x2="534.2" y2="340.1" stroke="#333" stroke-width="0.6"/>
<ellipse cx="446" cy="416.2" rx="1.2" ry="0.8" fill="none" stroke="#333" stroke-width="0.8"/>
<line x1="448.1" y1="417.2" x2="487.1" y2="440.3" stroke="#666" stroke-width="1.3"/>
<line x1="449.7" y1="400.2" x2="452.1" y2="418.2" stroke="#333" stroke-width="0.6"/>
<polygon points="568.9,393.8 567.1,396.4 563.5,396.4 561.7,393.8 563.5,391.1 567.1,391.1" fill="#999" stroke="#222" stroke-width="1"/>
<circle cx="565.3" cy="393.8" r="1.6" fill="#ddd" stroke="#333" stroke-width="0.7"/>
<polygon points="580.9,400.6 579.1,403.2 575.5,403.2 573.7,400.6 575.5,397.9 579.1,397.9" fill="#999" stroke="#222" stroke-width="1"/>
<circle cx="577.3" cy="400.6" r="1.6" fill="#ddd" stroke="#333" stroke-width="0.7"/>
<line x1="554.2" y1="409.2" x2="563.3" y2="396.2" stroke="#333" stroke-width="0.6"/>
<line x1="554.2" y1="409.2" x2="574.3" y2="402.2" stroke="#333" stroke-width="0.6"/>
<polyline points="499.1,381.1 499.1,437.2 516.2,445.3" fill="none" stroke="#333" stroke-width="0.6" stroke-dasharray="14 3 3 3" stroke-linecap="butt"/>
<polyline points="516.2,377.1 516.2,428.2 540.2,440.3" fill="none" stroke="#333" stroke-width="0.6" stroke-dasharray="14 3 3 3" stroke-linecap="butt"/>
<polyline points="576.3,378.1 576.3,389.2 568.3,392.2" fill="none" stroke="#333" stroke-width="0.6"/>
<polyline points="587.9,379.1 587.9,397.2 580.3,400.2" fill="none" stroke="#333" stroke-width="0.6"/>
<polyline points="589.3,360.1 598.3,356.1 598.3,430.2" fill="none" stroke="#333" stroke-width="0.6" stroke-dasharray="14 3 3 3" stroke-linecap="butt"/>
<polyline points="592.3,370.1 610.3,362.1 610.3,438.2" fill="none" stroke="#333" stroke-width="0.6" stroke-dasharray="14 3 3 3" stroke-linecap="butt"/>
<polyline points="432,488.3 487.1,458.3 560.3,428.2 580.3,420.2" fill="none" stroke="#333" stroke-width="0.8"/>
<polyline points="434,489.9 488.1,460.3 580.3,422.2" fill="none" stroke="#777" stroke-width="1.1"/>
<polyline points="433,500 488.1,472.3 579.3,435.2" fill="none" stroke="#333" stroke-width="0.8"/>
<polyline points="487.1,458.3 488.1,472.3" fill="none" stroke="#333" stroke-width="1"/>
<line x1="432" y1="488.3" x2="432" y2="500" stroke="#333" stroke-width="0.8"/>
<line x1="434" y1="489.3" x2="434" y2="500" stroke="#333" stroke-width="0.8"/>
<path d="M580.3 420.2C581.5 420 585 418.6 587.3 418.8C589.6 419 592.5 420 594.3 421.2C596.1 422.4 597.3 425.1 597.9 425.8" fill="none" stroke="#333" stroke-width="0.8"/>
<path d="M579.3 435.2C580.5 435 584.1 433.5 586.3 433.6C588.5 433.8 590.4 435.1 592.3 436.2C594.2 437.3 597 439.6 597.9 440.3" fill="none" stroke="#333" stroke-width="0.8"/>
<line x1="579.3" y1="421.2" x2="579.3" y2="435.2" stroke="#333" stroke-width="0.8"/>
<polyline points="597.3,425.2 621.4,436.8 621.4,449.9 598.3,438.2 597.3,425.2" fill="none" stroke="#333" stroke-width="0.8"/>
<line x1="609.3" y1="431.2" x2="609.3" y2="443.9" stroke="#333" stroke-width="0.8"/>
<ellipse cx="474.5" cy="473.9" rx="1.5" ry="1.8" fill="none" stroke="#333" stroke-width="0.7" transform="rotate(-20 474.5 473.9)"/>
<ellipse cx="449.7" cy="487.9" rx="1.5" ry="1.8" fill="none" stroke="#333" stroke-width="0.7" transform="rotate(-20 449.7 487.9)"/>
<ellipse cx="438.4" cy="494.3" rx="1.5" ry="1.8" fill="none" stroke="#333" stroke-width="0.7" transform="rotate(-20 438.4 494.3)"/>
<ellipse cx="524.2" cy="451.3" rx="1.5" ry="1.8" fill="none" stroke="#333" stroke-width="0.7" transform="rotate(-20 524.2 451.3)"/>
<ellipse cx="543.2" cy="443.3" rx="1.5" ry="1.8" fill="none" stroke="#333" stroke-width="0.7" transform="rotate(-20 543.2 443.3)"/>
<ellipse cx="555.2" cy="438.6" rx="1.5" ry="1.8" fill="none" stroke="#333" stroke-width="0.7" transform="rotate(-20 555.2 438.6)"/>
<ellipse cx="572.3" cy="431.8" rx="1.5" ry="1.8" fill="none" stroke="#333" stroke-width="0.7" transform="rotate(-20 572.3 431.8)"/>
<ellipse cx="604.3" cy="434.2" rx="1.5" ry="1.8" fill="none" stroke="#333" stroke-width="0.7" transform="rotate(-20 604.3 434.2)"/>
<ellipse cx="616.4" cy="441.3" rx="1.5" ry="1.8" fill="none" stroke="#333" stroke-width="0.7" transform="rotate(-20 616.4 441.3)"/>
<polygon points="549.8,462.7 548,465.3 544.4,465.3 542.6,462.7 544.4,460 548,460" fill="#999" stroke="#222" stroke-width="1"/>
<circle cx="546.2" cy="462.7" r="1.6" fill="#ddd" stroke="#333" stroke-width="0.7"/>
<polygon points="568.3,455.3 566.5,457.9 562.9,457.9 561.1,455.3 562.9,452.6 566.5,452.6" fill="#999" stroke="#222" stroke-width="1"/>
<circle cx="564.7" cy="455.3" r="1.6" fill="#ddd" stroke="#333" stroke-width="0.7"/>
<polygon points="590.5,439.9 588.7,442.5 585.1,442.5 583.3,439.9 585.1,437.2 588.7,437.2" fill="#999" stroke="#222" stroke-width="1"/>
<circle cx="586.9" cy="439.9" r="1.6" fill="#ddd" stroke="#333" stroke-width="0.7"/>
<line x1="580.3" y1="466.3" x2="548.2" y2="463.9" stroke="#333" stroke-width="0.6"/>
<line x1="580.3" y1="466.3" x2="566.3" y2="457.3" stroke="#333" stroke-width="0.6"/>
<line x1="580.3" y1="466.3" x2="587.9" y2="442.7" stroke="#333" stroke-width="0.6"/>
<line x1="526.2" y1="452.3" x2="544.2" y2="461.3" stroke="#333" stroke-width="0.6"/>
<line x1="544.2" y1="443.9" x2="562.7" y2="453.9" stroke="#333" stroke-width="0.6"/>
<polyline points="560.3,425.2 617.4,399.2 632.4,407.2 670.1,390.1" fill="none" stroke="#333" stroke-width="0.6" stroke-dasharray="14 3 3 3" stroke-linecap="butt"/>
<line x1="621.4" y1="437.2" x2="670.1" y2="413.4" stroke="#444" stroke-width="0.6" stroke-dasharray="14 3 3 3" stroke-linecap="butt"/>
<line x1="613.3" y1="431.2" x2="670.1" y2="404.9" stroke="#444" stroke-width="0.6" stroke-dasharray="14 3 3 3" stroke-linecap="butt"/>
<line x1="454.1" y1="452.3" x2="468.1" y2="467.9" stroke="#333" stroke-width="0.6"/>
<polyline points="420,483.3 429,489.3" fill="none" stroke="#333" stroke-width="0.6"/>
<polygon points="584.4,578.3 584.4,591.3 586.4,591.9 640.1,561.2 640.1,547.2 638.1,546.2" fill="none" stroke="#333" stroke-width="0.8"/>
<line x1="586" y1="579.5" x2="639.1" y2="548.2" stroke="#333" stroke-width="0.8"/>
<line x1="640.1" y1="547.2" x2="640.1" y2="561.2" stroke="#333" stroke-width="1.1"/>
<polyline points="640.1,547.2 701.2,494.1" fill="none" stroke="#333" stroke-width="0.8"/>
<polyline points="638.5,546.2 699.8,493.1" fill="none" stroke="#333" stroke-width="0.8"/>
<polyline points="641.1,560.2 703.2,507.1" fill="none" stroke="#333" stroke-width="0.8"/>
<path d="M701.2 494.1C702.1 493.4 705.1 491.4 706.2 490.1C707.3 488.8 707.8 487.3 707.8 486.1C707.8 484.9 707.2 483.8 706.2 483.1C705.3 482.4 702.9 481.9 702.2 481.7" fill="none" stroke="#333" stroke-width="0.8"/>
<polygon points="678.2,470.1 681.2,469.1 702.2,481.7 702.2,494.1 678.2,483.1" fill="none" stroke="#333" stroke-width="0.8"/>
<line x1="679.4" y1="471.1" x2="679.4" y2="483.7" stroke="#333" stroke-width="0.8"/>
<polyline points="707.8,486.1 707.8,506.1 705.8,509.1 703.2,507.1" fill="none" stroke="#333" stroke-width="0.8"/>
<ellipse cx="590.6" cy="583.3" rx="1.5" ry="1.8" fill="none" stroke="#333" stroke-width="0.7" transform="rotate(-20 590.6 583.3)"/>
<ellipse cx="602.1" cy="575.9" rx="1.5" ry="1.8" fill="none" stroke="#333" stroke-width="0.7" transform="rotate(-20 602.1 575.9)"/>
<ellipse cx="627.1" cy="561.6" rx="1.5" ry="1.8" fill="none" stroke="#333" stroke-width="0.7" transform="rotate(-20 627.1 561.6)"/>
<ellipse cx="666.8" cy="532.2" rx="1.5" ry="1.8" fill="none" stroke="#333" stroke-width="0.7" transform="rotate(-20 666.8 532.2)"/>
<ellipse cx="679.2" cy="522.2" rx="1.5" ry="1.8" fill="none" stroke="#333" stroke-width="0.7" transform="rotate(-20 679.2 522.2)"/>
<ellipse cx="687.6" cy="515.2" rx="1.5" ry="1.8" fill="none" stroke="#333" stroke-width="0.7" transform="rotate(-20 687.6 515.2)"/>
<ellipse cx="700.2" cy="505.1" rx="1.5" ry="1.8" fill="none" stroke="#333" stroke-width="0.7" transform="rotate(-20 700.2 505.1)"/>
<ellipse cx="681.8" cy="478.7" rx="1.5" ry="1.8" fill="none" stroke="#333" stroke-width="0.7" transform="rotate(-20 681.8 478.7)"/>
<ellipse cx="693.2" cy="485.7" rx="1.5" ry="1.8" fill="none" stroke="#333" stroke-width="0.7" transform="rotate(-20 693.2 485.7)"/>
<polygon points="669.2,486.7 667.4,489.4 663.8,489.4 662,486.7 663.8,484.1 667.4,484.1" fill="#999" stroke="#222" stroke-width="1"/>
<circle cx="665.6" cy="486.7" r="1.6" fill="#ddd" stroke="#333" stroke-width="0.7"/>
<polygon points="680.8,493.5 679,496.2 675.4,496.2 673.6,493.5 675.4,490.9 679,490.9" fill="#999" stroke="#222" stroke-width="1"/>
<circle cx="677.2" cy="493.5" r="1.6" fill="#ddd" stroke="#333" stroke-width="0.7"/>
<polygon points="669.2,505.1 667.4,507.8 663.8,507.8 662,505.1 663.8,502.5 667.4,502.5" fill="#999" stroke="#222" stroke-width="1"/>
<circle cx="665.6" cy="505.1" r="1.6" fill="#ddd" stroke="#333" stroke-width="0.7"/>
<line x1="639.1" y1="497.7" x2="663.2" y2="488.1" stroke="#333" stroke-width="0.6"/>
<line x1="639.1" y1="497.7" x2="674.2" y2="494.5" stroke="#333" stroke-width="0.6"/>
<line x1="639.1" y1="497.7" x2="662.6" y2="504.5" stroke="#333" stroke-width="0.6"/>
<line x1="668.2" y1="485.1" x2="679.2" y2="480.1" stroke="#333" stroke-width="0.6"/>
<line x1="679.8" y1="492.1" x2="692.2" y2="486.5" stroke="#333" stroke-width="0.6"/>
<polyline points="668.2,506.1 690.2,499.1 695.2,501.1" fill="none" stroke="#333" stroke-width="0.6"/>
<line x1="604.5" y1="543.2" x2="623.7" y2="554.2" stroke="#333" stroke-width="0.6"/>
<line x1="691.2" y1="473.7" x2="800" y2="430" stroke="#444" stroke-width="0.6" stroke-dasharray="14 3 3 3" stroke-linecap="butt"/>
<line x1="702.2" y1="481.1" x2="800" y2="442" stroke="#444" stroke-width="0.6" stroke-dasharray="14 3 3 3" stroke-linecap="butt"/>
<polyline points="707.8,509.1 768.4,483.1 754.3,475.1 800,456" fill="none" stroke="#333" stroke-width="0.6" stroke-dasharray="14 3 3 3" stroke-linecap="butt"/>
<polygon points="590.2,439.6 588.6,442 585.4,442 583.8,439.6 585.4,437.3 588.6,437.3" fill="#999" stroke="#222" stroke-width="1"/>
<circle cx="587" cy="439.6" r="1.4" fill="#ddd" stroke="#333" stroke-width="0.7"/>
<line x1="579.6" y1="466.1" x2="587.6" y2="442.4" stroke="#333" stroke-width="0.6"/>
<line x1="579.6" y1="466.1" x2="570" y2="463.1" stroke="#333" stroke-width="0.6"/>
<polygon points="711.9,360.8 723.2,357.4 726.6,360.8 726.6,373.2 735.7,374.4 735.7,424.2 704,436.6 701.7,442.3 707.4,458.2 707.4,465 698.3,469.5 693.8,467.2 693.8,462.7 685.9,445.7 685.9,442.3" fill="none" stroke="#333" stroke-width="0.8"/>
<polyline points="714.2,364.2 688.6,443.4" fill="none" stroke="#333" stroke-width="0.8"/>
<line x1="716.4" y1="365.8" x2="720.3" y2="364.2" stroke="#333" stroke-width="2.6"/>
<line x1="716.4" y1="365.8" x2="720.3" y2="364.2" stroke="#ddd" stroke-width="0.8"/>
<line x1="710.5" y1="389.8" x2="719.6" y2="387" stroke="#3a3a3a" stroke-width="3.2"/>
<line x1="710.5" y1="389.8" x2="719.6" y2="387" stroke="#b0b0b0" stroke-width="1.7"/>
<line x1="708.3" y1="397" x2="720.1" y2="393.4" stroke="#3a3a3a" stroke-width="3.2"/>
<line x1="708.3" y1="397" x2="720.1" y2="393.4" stroke="#b0b0b0" stroke-width="1.7"/>
<line x1="706.5" y1="404" x2="719.6" y2="400" stroke="#3a3a3a" stroke-width="3.2"/>
<line x1="706.5" y1="404" x2="719.6" y2="400" stroke="#b0b0b0" stroke-width="1.7"/>
<line x1="704" y1="411" x2="718.9" y2="406.5" stroke="#3a3a3a" stroke-width="3.2"/>
<line x1="704" y1="411" x2="718.9" y2="406.5" stroke="#b0b0b0" stroke-width="1.7"/>
<line x1="701.4" y1="418.1" x2="718.4" y2="413" stroke="#3a3a3a" stroke-width="3.2"/>
<line x1="701.4" y1="418.1" x2="718.4" y2="413" stroke="#b0b0b0" stroke-width="1.7"/>
<line x1="699.2" y1="425.7" x2="718.2" y2="420" stroke="#3a3a3a" stroke-width="3.2"/>
<line x1="699.2" y1="425.7" x2="718.2" y2="420" stroke="#b0b0b0" stroke-width="1.7"/>
<line x1="697.1" y1="434" x2="718.6" y2="427.5" stroke="#3a3a3a" stroke-width="3.2"/>
<line x1="697.1" y1="434" x2="718.6" y2="427.5" stroke="#b0b0b0" stroke-width="1.7"/>
<text transform="translate(728 392.9) skewY(-10) scale(0.613 1)" font-size="17.2" text-anchor="middle" style="fill:#fff" stroke="#3a3a3a" stroke-width="0.75">H</text>
<text transform="translate(728 408.3) skewY(-10) scale(0.569 1)" font-size="17.2" text-anchor="middle" style="fill:#fff" stroke="#3a3a3a" stroke-width="0.75">O</text>
<text transform="translate(728.2 423.3) skewY(-10) scale(0.762 1)" font-size="17.2" text-anchor="middle" style="fill:#fff" stroke="#3a3a3a" stroke-width="0.75">T</text>
<ellipse cx="699.4" cy="465" rx="1.8" ry="1.4" fill="none" stroke="#333" stroke-width="0.8"/>
<ellipse cx="699.4" cy="465" rx="1" ry="0.8" fill="none" stroke="#333" stroke-width="0.7"/>
<polyline points="751.1,363 754.9,359.6 758.3,360.3 847.8,411.7 850.1,417.4 850.1,428.7 854.6,432.1" fill="none" stroke="#333" stroke-width="0.8"/>
<polyline points="751.1,363 751.1,368.7 848.9,424.6" fill="none" stroke="#333" stroke-width="0.8"/>
<line x1="752.7" y1="371.6" x2="848.9" y2="427.6" stroke="#333" stroke-width="1.1"/>
<polyline points="749.3,373.2 749.3,426.5 753.8,431 751.5,442.3 752.7,453.6 833.1,494.4" fill="none" stroke="#333" stroke-width="0.8"/>
<path d="M735.7 374.4C736.4 373.9 738.3 372.1 740.2 371.6C742.1 371.2 745.5 371.2 747 371.6C748.5 372.1 748.9 373.9 749.3 374.4" fill="none" stroke="#333" stroke-width="0.8"/>
<polyline points="751.5,442.3 833.1,481.3" fill="none" stroke="#333" stroke-width="0.8"/>
<polyline points="753.4,446.8 832.6,487.2" fill="none" stroke="#333" stroke-width="0.8"/>
<polyline points="831.9,476.3 833.5,495.5" fill="none" stroke="#333" stroke-width="0.8"/>
<polyline points="848.9,425.3 854.6,432.1 855.7,437.8 863.7,442.3 862.5,496.7 838.7,517.1 837.6,522.7 828.6,528.4 826.3,529.5" fill="none" stroke="#333" stroke-width="0.8"/>
<polyline points="854.6,432.1 855.7,449.1 860.3,446.8" fill="none" stroke="#333" stroke-width="0.8"/>
<polyline points="844.4,436.6 826.3,528.4 817.2,532.9 817.2,539.7 820.6,540.8 828.6,535.2 828.6,529.5" fill="none" stroke="#333" stroke-width="0.8"/>
<polyline points="847.1,436.6 828.6,528.4" fill="none" stroke="#333" stroke-width="0.8"/>
<ellipse cx="822.2" cy="536.3" rx="1.6" ry="1.1" fill="none" stroke="#333" stroke-width="0.8"/>
<ellipse cx="755.6" cy="366.9" rx="1.2" ry="1.5" fill="none" stroke="#333" stroke-width="0.7"/>
<ellipse cx="766.9" cy="373.7" rx="1.2" ry="1.5" fill="none" stroke="#333" stroke-width="0.7"/>
<ellipse cx="832.6" cy="410.6" rx="1.2" ry="1.5" fill="none" stroke="#333" stroke-width="0.7"/>
<ellipse cx="844" cy="418.5" rx="1.2" ry="1.5" fill="none" stroke="#333" stroke-width="0.7"/>
<ellipse cx="755.6" cy="449.6" rx="1.2" ry="1.5" fill="none" stroke="#333" stroke-width="0.7"/>
<ellipse cx="766.9" cy="455.9" rx="1.2" ry="1.5" fill="none" stroke="#333" stroke-width="0.7"/>
<ellipse cx="850.1" cy="438.2" rx="1.2" ry="1.5" fill="none" stroke="#333" stroke-width="0.7"/>
<line x1="759.5" y1="387.5" x2="777.6" y2="397" stroke="#3a3a3a" stroke-width="3.4"/>
<line x1="759.5" y1="387.5" x2="777.6" y2="397" stroke="#b0b0b0" stroke-width="1.9"/>
<line x1="759.5" y1="393.2" x2="777.6" y2="402.7" stroke="#3a3a3a" stroke-width="3.4"/>
<line x1="759.5" y1="393.2" x2="777.6" y2="402.7" stroke="#b0b0b0" stroke-width="1.9"/>
<line x1="759.5" y1="398.8" x2="777.6" y2="408.3" stroke="#3a3a3a" stroke-width="3.4"/>
<line x1="759.5" y1="398.8" x2="777.6" y2="408.3" stroke="#b0b0b0" stroke-width="1.9"/>
<line x1="759.5" y1="404.5" x2="777.6" y2="414" stroke="#3a3a3a" stroke-width="3.4"/>
<line x1="759.5" y1="404.5" x2="777.6" y2="414" stroke="#b0b0b0" stroke-width="1.9"/>
<line x1="759.5" y1="410.1" x2="777.6" y2="419.7" stroke="#3a3a3a" stroke-width="3.4"/>
<line x1="759.5" y1="410.1" x2="777.6" y2="419.7" stroke="#b0b0b0" stroke-width="1.9"/>
<line x1="759.5" y1="415.8" x2="777.6" y2="425.3" stroke="#3a3a3a" stroke-width="3.4"/>
<line x1="759.5" y1="415.8" x2="777.6" y2="425.3" stroke="#b0b0b0" stroke-width="1.9"/>
<line x1="759.5" y1="421.5" x2="777.6" y2="431" stroke="#3a3a3a" stroke-width="3.4"/>
<line x1="759.5" y1="421.5" x2="777.6" y2="431" stroke="#b0b0b0" stroke-width="1.9"/>
<line x1="831.3" y1="428.7" x2="846.7" y2="436" stroke="#3a3a3a" stroke-width="3.2"/>
<line x1="831.3" y1="428.7" x2="846.7" y2="436" stroke="#b0b0b0" stroke-width="1.7"/>
<line x1="831.3" y1="433.7" x2="846.7" y2="441" stroke="#3a3a3a" stroke-width="3.2"/>
<line x1="831.3" y1="433.7" x2="846.7" y2="441" stroke="#b0b0b0" stroke-width="1.7"/>
<line x1="831.3" y1="438.7" x2="846.7" y2="445.9" stroke="#3a3a3a" stroke-width="3.2"/>
<line x1="831.3" y1="438.7" x2="846.7" y2="445.9" stroke="#b0b0b0" stroke-width="1.7"/>
<line x1="831.3" y1="443.7" x2="846.7" y2="450.9" stroke="#3a3a3a" stroke-width="3.2"/>
<line x1="831.3" y1="443.7" x2="846.7" y2="450.9" stroke="#b0b0b0" stroke-width="1.7"/>
<line x1="831.3" y1="448.7" x2="846.7" y2="455.9" stroke="#3a3a3a" stroke-width="3.2"/>
<line x1="831.3" y1="448.7" x2="846.7" y2="455.9" stroke="#b0b0b0" stroke-width="1.7"/>
<line x1="831.3" y1="453.6" x2="846.7" y2="460.9" stroke="#3a3a3a" stroke-width="3.2"/>
<line x1="831.3" y1="453.6" x2="846.7" y2="460.9" stroke="#b0b0b0" stroke-width="1.7"/>
<line x1="831.3" y1="458.6" x2="846.7" y2="465.9" stroke="#3a3a3a" stroke-width="3.2"/>
<line x1="831.3" y1="458.6" x2="846.7" y2="465.9" stroke="#b0b0b0" stroke-width="1.7"/>
<text transform="translate(787.1 426.9) skewY(27) scale(0.746 1)" font-size="23" text-anchor="middle" style="fill:#fff" stroke="#3a3a3a" stroke-width="0.75">T</text>
<text transform="translate(802.3 436) skewY(27) scale(0.526 1)" font-size="24.4" text-anchor="middle" style="fill:#fff" stroke="#3a3a3a" stroke-width="0.75">O</text>
<text transform="translate(821.8 445.9) skewY(27) scale(0.538 1)" font-size="24.4" text-anchor="middle" style="fill:#fff" stroke="#3a3a3a" stroke-width="0.75">H</text>
<line x1="783.7" y1="398.6" x2="800.9" y2="406.7" stroke="#333" stroke-width="3"/>
<line x1="783.7" y1="398.6" x2="800.9" y2="406.7" stroke="#ddd" stroke-width="1.1"/>
<line x1="806.4" y1="409.9" x2="823.6" y2="418.1" stroke="#333" stroke-width="3"/>
<line x1="806.4" y1="409.9" x2="823.6" y2="418.1" stroke="#ddd" stroke-width="1.1"/>
<line x1="783.7" y1="431.4" x2="800.9" y2="439.6" stroke="#333" stroke-width="3"/>
<line x1="783.7" y1="431.4" x2="800.9" y2="439.6" stroke="#ddd" stroke-width="1.1"/>
<line x1="806.4" y1="448.4" x2="823.6" y2="456.6" stroke="#333" stroke-width="3"/>
<line x1="806.4" y1="448.4" x2="823.6" y2="456.6" stroke="#ddd" stroke-width="1.1"/>
<line x1="846.4" y1="466.5" x2="851.4" y2="463.5" stroke="#3a3a3a" stroke-width="3"/>
<line x1="846.4" y1="466.5" x2="851.4" y2="463.5" stroke="#b0b0b0" stroke-width="1.2"/>
<line x1="843.7" y1="473.8" x2="850.5" y2="469.7" stroke="#3a3a3a" stroke-width="3"/>
<line x1="843.7" y1="473.8" x2="850.5" y2="469.7" stroke="#b0b0b0" stroke-width="1.2"/>
<line x1="841.9" y1="481.1" x2="850.5" y2="476" stroke="#3a3a3a" stroke-width="3"/>
<line x1="841.9" y1="481.1" x2="850.5" y2="476" stroke="#b0b0b0" stroke-width="1.2"/>
<line x1="839.9" y1="488.3" x2="849.8" y2="482.4" stroke="#3a3a3a" stroke-width="3"/>
<line x1="839.9" y1="488.3" x2="849.8" y2="482.4" stroke="#b0b0b0" stroke-width="1.2"/>
<line x1="838.3" y1="496.7" x2="849.6" y2="489.9" stroke="#3a3a3a" stroke-width="3"/>
<line x1="838.3" y1="496.7" x2="849.6" y2="489.9" stroke="#b0b0b0" stroke-width="1.2"/>
<line x1="836.7" y1="504.7" x2="848.5" y2="497.7" stroke="#3a3a3a" stroke-width="3"/>
<line x1="836.7" y1="504.7" x2="848.5" y2="497.7" stroke="#b0b0b0" stroke-width="1.2"/>
<line x1="835.3" y1="512.5" x2="846.7" y2="505.7" stroke="#3a3a3a" stroke-width="3"/>
<line x1="835.3" y1="512.5" x2="846.7" y2="505.7" stroke="#b0b0b0" stroke-width="1.2"/>
<text transform="translate(855.7 467.2) skewY(-12) scale(0.468 1)" font-size="17.2" text-anchor="middle" style="fill:#fff" stroke="#3a3a3a" stroke-width="0.75">H</text>
<text transform="translate(855.7 483.1) skewY(-12) scale(0.434 1)" font-size="17.2" text-anchor="middle" style="fill:#fff" stroke="#3a3a3a" stroke-width="0.75">O</text>
<text transform="translate(855.7 498) skewY(-12) scale(0.673 1)" font-size="16.1" text-anchor="middle" style="fill:#fff" stroke="#3a3a3a" stroke-width="0.75">T</text>
<line x1="783.5" y1="353.6" x2="777.2" y2="356.5" stroke="#222" stroke-width="3" stroke-linecap="butt"/>
<ellipse cx="785.1" cy="352.8" rx="1.8" ry="2.6" fill="#b8b8b8" stroke="#111" stroke-width="1.3" transform="rotate(155 785.1 352.8)"/>
<line x1="794.2" y1="360.3" x2="787.8" y2="363.3" stroke="#222" stroke-width="3" stroke-linecap="butt"/>
<ellipse cx="795.7" cy="359.6" rx="1.8" ry="2.6" fill="#b8b8b8" stroke="#111" stroke-width="1.3" transform="rotate(155 795.7 359.6)"/>
<line x1="861" y1="397.7" x2="854.7" y2="400.7" stroke="#222" stroke-width="3" stroke-linecap="butt"/>
<ellipse cx="862.5" cy="397" rx="1.8" ry="2.6" fill="#b8b8b8" stroke="#111" stroke-width="1.3" transform="rotate(155 862.5 397)"/>
<line x1="872.3" y1="405" x2="866" y2="407.9" stroke="#222" stroke-width="3" stroke-linecap="butt"/>
<ellipse cx="873.9" cy="404.3" rx="1.8" ry="2.6" fill="#b8b8b8" stroke="#111" stroke-width="1.3" transform="rotate(155 873.9 404.3)"/>
<line x1="890.5" y1="462.1" x2="884.7" y2="458.1" stroke="#222" stroke-width="3.2" stroke-linecap="butt"/>
<ellipse cx="892" cy="463.1" rx="2" ry="2.9" fill="#b8b8b8" stroke="#111" stroke-width="1.3" transform="rotate(215 892 463.1)"/>
<line x1="855.4" y1="552.3" x2="849.6" y2="548.2" stroke="#222" stroke-width="3.2" stroke-linecap="butt"/>
<ellipse cx="856.9" cy="553.3" rx="2" ry="2.9" fill="#b8b8b8" stroke="#111" stroke-width="1.3" transform="rotate(215 856.9 553.3)"/>
<line x1="686.1" y1="346.3" x2="691.8" y2="350.3" stroke="#222" stroke-width="3" stroke-linecap="butt"/>
<ellipse cx="684.7" cy="345.4" rx="1.8" ry="2.6" fill="#b8b8b8" stroke="#111" stroke-width="1.3" transform="rotate(35 684.7 345.4)"/>
<ellipse cx="702.4" cy="355.1" rx="2.6" ry="3" fill="#f2f2f2" stroke="#222" stroke-width="1" transform="rotate(20 702.4 355.1)"/>
<ellipse cx="702.4" cy="355.1" rx="1.2" ry="1.4" fill="#fff" stroke="#333" stroke-width="0.6" transform="rotate(20 702.4 355.1)"/>
<ellipse cx="873.2" cy="451.8" rx="2.6" ry="3" fill="#f2f2f2" stroke="#222" stroke-width="1" transform="rotate(20 873.2 451.8)"/>
<ellipse cx="873.2" cy="451.8" rx="1.2" ry="1.4" fill="#fff" stroke="#333" stroke-width="0.6" transform="rotate(20 873.2 451.8)"/>
<ellipse cx="838.7" cy="543.1" rx="2.6" ry="3.2" fill="#f2f2f2" stroke="#222" stroke-width="1" transform="rotate(20 838.7 543.1)"/>
<ellipse cx="838.7" cy="543.1" rx="1.2" ry="1.4" fill="#fff" stroke="#333" stroke-width="0.6" transform="rotate(20 838.7 543.1)"/>
<line x1="805.9" y1="342.7" x2="787.8" y2="351.7" stroke="#333" stroke-width="0.6"/>
<line x1="805.9" y1="342.7" x2="798" y2="357.4" stroke="#333" stroke-width="0.6"/>
<line x1="881.8" y1="390.7" x2="864.8" y2="395.9" stroke="#333" stroke-width="0.6"/>
<line x1="881.8" y1="390.7" x2="876.1" y2="402" stroke="#333" stroke-width="0.6"/>
<line x1="826.3" y1="375.5" x2="808.2" y2="387.5" stroke="#333" stroke-width="0.6"/>
<line x1="886.3" y1="443.4" x2="875" y2="450.2" stroke="#333" stroke-width="0.6"/>
<line x1="905.6" y1="478.6" x2="894.2" y2="466.1" stroke="#333" stroke-width="0.6"/>
<line x1="713" y1="338.1" x2="704" y2="352.8" stroke="#333" stroke-width="0.6"/>
<line x1="691.5" y1="329.1" x2="686.3" y2="342.7" stroke="#333" stroke-width="0.6"/>
<line x1="831.9" y1="554.4" x2="838.1" y2="546" stroke="#333" stroke-width="0.6"/>
<line x1="851.2" y1="566.9" x2="855.3" y2="556" stroke="#333" stroke-width="0.6"/>
<line x1="689.3" y1="348.3" x2="700.6" y2="354" stroke="#333" stroke-width="0.6"/>
<line x1="705.1" y1="356.7" x2="712.6" y2="360.8" stroke="#333" stroke-width="0.6"/>
<line x1="754.9" y1="366.9" x2="778.7" y2="355.8" stroke="#333" stroke-width="0.6"/>
<line x1="767.4" y1="373.2" x2="788.9" y2="363" stroke="#333" stroke-width="0.6"/>
<line x1="833.1" y1="410.6" x2="858" y2="399.3" stroke="#333" stroke-width="0.6"/>
<line x1="844.4" y1="418.5" x2="869.3" y2="406.5" stroke="#333" stroke-width="0.6"/>
<line x1="851.2" y1="438.2" x2="870.5" y2="450.2" stroke="#333" stroke-width="0.6"/>
<line x1="876.1" y1="453.6" x2="887.4" y2="460.4" stroke="#333" stroke-width="0.6"/>
<line x1="826.3" y1="537" x2="836.5" y2="542" stroke="#333" stroke-width="0.6"/>
<line x1="841.7" y1="544.7" x2="852.3" y2="550.6" stroke="#333" stroke-width="0.6"/>
<line x1="670" y1="389.1" x2="716.4" y2="367.6" stroke="#444" stroke-width="0.6" stroke-dasharray="14 3 3 3" stroke-linecap="butt"/>
<line x1="670" y1="403.8" x2="749.3" y2="375.5" stroke="#444" stroke-width="0.6" stroke-dasharray="14 3 3 3" stroke-linecap="butt"/>
<line x1="670" y1="417.4" x2="724.4" y2="394.7" stroke="#444" stroke-width="0.6" stroke-dasharray="14 3 3 3" stroke-linecap="butt"/>
<line x1="726.6" y1="455.9" x2="815" y2="419.7" stroke="#444" stroke-width="0.6" stroke-dasharray="14 3 3 3" stroke-linecap="butt"/>
<line x1="726.6" y1="466.1" x2="828.6" y2="421.9" stroke="#444" stroke-width="0.6" stroke-dasharray="14 3 3 3" stroke-linecap="butt"/>
<line x1="783.3" y1="432.8" x2="846.7" y2="407.2" stroke="#444" stroke-width="0.6" stroke-dasharray="14 3 3 3" stroke-linecap="butt"/>
<line x1="803.6" y1="449.1" x2="851.2" y2="428.7" stroke="#444" stroke-width="0.6" stroke-dasharray="14 3 3 3" stroke-linecap="butt"/>
<polygon points="902.4,706.6 908.9,702.8 912.4,703.2 1012.7,760.8 1013.9,765.1 1013.9,769.5 1017.9,806.1 1017.9,857.6 1013.6,867.2 1012.7,893.4 1005.7,897.7 902.8,838.4 902.8,771.2 906.2,766 906.2,722.4 902.4,720.6" fill="none" stroke="#333" stroke-width="0.8"/>
<polyline points="902.4,706.6 1005.7,765.1 1012.7,760.8" fill="none" stroke="#333" stroke-width="0.8"/>
<line x1="1005.7" y1="765.1" x2="1005.7" y2="778.2" stroke="#333" stroke-width="0.8"/>
<polyline points="902.4,720.6 926.3,733.7 926.3,718.9" fill="none" stroke="#333" stroke-width="1"/>
<polyline points="982.2,751.2 982.2,765.1 1005.7,778.2 1010.1,779.9 1010.1,823.6" fill="none" stroke="#333" stroke-width="0.8"/>
<line x1="926.3" y1="731.1" x2="983.9" y2="764.2" stroke="#333" stroke-width="1.2"/>
<line x1="928.1" y1="719.2" x2="982.2" y2="750.3" stroke="#333" stroke-width="0.8"/>
<line x1="906.2" y1="722.4" x2="906.2" y2="766" stroke="#333" stroke-width="1.1"/>
<path d="M935 739.8C936.6 737.9 935.3 736.6 940.3 738.9C945.2 741.3 957.7 749 964.7 753.8C971.7 758.6 978.8 763.1 982.2 767.7C985.5 772.4 984.8 777.9 984.8 781.7C984.8 785.5 984.1 788.7 982.2 790.4C980.3 792.2 977.5 793.6 973.4 792.2C969.4 790.7 963.8 786.3 957.7 781.7C951.6 777 941.3 769.5 936.8 764.2C932.3 759 931 754.4 930.7 750.3C930.4 746.2 933.4 741.7 935 739.8Z" fill="none" stroke="#333" stroke-width="0.8"/>
<path d="M936.8 741.6C936.5 743.3 934.2 747.7 935 752C935.9 756.4 938.2 763.1 942 767.7C945.8 772.4 952.5 776.2 957.7 779.9C963 783.7 970.8 788.7 973.4 790.4" fill="none" stroke="#333" stroke-width="0.8"/>
<path d="M939.4 743.3C939.8 745.6 940.1 752.3 942 757.3C943.9 762.2 949.3 770.3 950.8 773" fill="none" stroke="#333" stroke-width="0.8"/>
<polyline points="950.8,773 980.4,786.9" fill="none" stroke="#333" stroke-width="0.8"/>
<polyline points="947.3,775.6 971.7,788.7" fill="none" stroke="#333" stroke-width="0.8"/>
<line x1="950.8" y1="773" x2="947.3" y2="775.6" stroke="#333" stroke-width="0.8"/>
<polyline points="906.2,766 1010.1,823.6" fill="none" stroke="#333" stroke-width="0.8"/>
<polyline points="903.6,770.3 1007.5,829.7" fill="none" stroke="#666" stroke-width="1.1"/>
<polyline points="1007.5,829.7 1010.1,826.2 1010.1,823.6" fill="none" stroke="#333" stroke-width="0.8"/>
<polyline points="1007.5,829.7 1006.6,879.4 1005.7,897.7" fill="none" stroke="#333" stroke-width="0.8"/>
<ellipse cx="910.6" cy="798.3" rx="4.9" ry="6.6" fill="none" stroke="#333" stroke-width="0.8" transform="rotate(-15 910.6 798.3)"/>
<ellipse cx="922" cy="804.4" rx="4.4" ry="6.1" fill="none" stroke="#333" stroke-width="0.8" transform="rotate(-15 922 804.4)"/>
<ellipse cx="988.3" cy="842.8" rx="4.9" ry="6.6" fill="none" stroke="#333" stroke-width="0.8" transform="rotate(-15 988.3 842.8)"/>
<ellipse cx="999.6" cy="848.9" rx="4.4" ry="6.1" fill="none" stroke="#333" stroke-width="0.8" transform="rotate(-15 999.6 848.9)"/>
<path d="M908 793.9C908.6 794.5 910.5 795.9 911.5 797.4C912.4 798.9 913.4 801.8 913.8 802.6" fill="none" stroke="#555" stroke-width="1.8"/>
<path d="M919.3 800C919.9 800.6 921.9 802.1 922.8 803.5C923.8 805 924.7 807.9 925.1 808.7" fill="none" stroke="#555" stroke-width="1.8"/>
<path d="M985.7 838.4C986.2 839 988.2 840.4 989.1 841.9C990.1 843.4 991 846.3 991.4 847.1" fill="none" stroke="#555" stroke-width="1.8"/>
<path d="M997 844.5C997.6 845.1 999.5 846.6 1000.5 848C1001.4 849.5 1002.4 852.4 1002.8 853.2" fill="none" stroke="#555" stroke-width="1.8"/>
<polyline points="946.4,796.5 941.2,816.6 955.1,825.3 963.8,823.6 963.8,807.9 960.3,805.3" fill="none" stroke="#333" stroke-width="0.8"/>
<line x1="955.1" y1="825.3" x2="961.2" y2="807.9" stroke="#333" stroke-width="0.8"/>
<line x1="942" y1="818.3" x2="955.1" y2="826.2" stroke="#333" stroke-width="0.8"/>
<polyline points="902.8,820.1 933.3,835.8 943.8,861.1" fill="none" stroke="#333" stroke-width="0.8"/>
<polyline points="903.6,823.6 932.4,838.4 942,860.2" fill="none" stroke="#333" stroke-width="0.8"/>
<polyline points="965.6,873.3 974.3,860.2 1005.7,877.7 1005.7,881.2" fill="none" stroke="#333" stroke-width="0.8"/>
<ellipse cx="909.4" cy="716.2" rx="1.4" ry="1.9" fill="none" stroke="#333" stroke-width="0.7"/>
<ellipse cx="921.1" cy="722.4" rx="1.4" ry="1.9" fill="none" stroke="#333" stroke-width="0.7"/>
<ellipse cx="987.1" cy="760.8" rx="1.4" ry="1.9" fill="none" stroke="#333" stroke-width="0.7"/>
<ellipse cx="998.7" cy="766.9" rx="1.4" ry="1.9" fill="none" stroke="#333" stroke-width="0.7"/>
<ellipse cx="909.7" cy="829.7" rx="1.4" ry="1.9" fill="none" stroke="#333" stroke-width="0.7"/>
<ellipse cx="926.3" cy="848.4" rx="1.4" ry="1.9" fill="none" stroke="#333" stroke-width="0.7"/>
<ellipse cx="981.8" cy="880.3" rx="1.4" ry="1.9" fill="none" stroke="#333" stroke-width="0.7"/>
<ellipse cx="998.7" cy="881.5" rx="1.4" ry="1.9" fill="none" stroke="#333" stroke-width="0.7"/>
<polygon points="894.1,724.1 892.5,726.5 889.3,726.5 887.7,724.1 889.3,721.7 892.5,721.7" fill="#999" stroke="#222" stroke-width="1"/>
<circle cx="890.9" cy="724.1" r="1.4" fill="#ddd" stroke="#333" stroke-width="0.7"/>
<ellipse cx="933.3" cy="705.8" rx="2.6" ry="3" fill="#f2f2f2" stroke="#222" stroke-width="1" transform="rotate(20 933.3 705.8)"/>
<ellipse cx="933.3" cy="705.8" rx="1.2" ry="1.4" fill="#fff" stroke="#333" stroke-width="0.6" transform="rotate(20 933.3 705.8)"/>
<polygon points="1026.7,869.5 1025.1,871.8 1021.9,871.8 1020.3,869.5 1021.9,867.1 1025.1,867.1" fill="#999" stroke="#222" stroke-width="1"/>
<circle cx="1023.5" cy="869.5" r="1.4" fill="#ddd" stroke="#333" stroke-width="0.7"/>
<line x1="957.8" y1="694.3" x2="949.5" y2="697.8" stroke="#222" stroke-width="3.2" stroke-linecap="butt"/>
<ellipse cx="959.5" cy="693.6" rx="2" ry="2.9" fill="#b8b8b8" stroke="#111" stroke-width="1.3" transform="rotate(157 959.5 693.6)"/>
<line x1="876.6" y1="718" x2="887.9" y2="722.7" stroke="#333" stroke-width="0.6"/>
<line x1="894" y1="723.2" x2="908.9" y2="716.8" stroke="#333" stroke-width="0.6"/>
<line x1="929.8" y1="690.1" x2="932.4" y2="703.2" stroke="#333" stroke-width="0.6"/>
<line x1="953.4" y1="683.1" x2="955.1" y2="694.4" stroke="#333" stroke-width="0.6"/>
<line x1="998.7" y1="733.7" x2="984.8" y2="743.3" stroke="#333" stroke-width="0.6"/>
<line x1="1033.6" y1="860.2" x2="1025.4" y2="867.2" stroke="#333" stroke-width="0.6"/>
<line x1="936.8" y1="704" x2="946.4" y2="699.7" stroke="#333" stroke-width="0.6"/>
<line x1="1026.7" y1="870.7" x2="1041.5" y2="878" stroke="#333" stroke-width="0.6"/>
<line x1="926.3" y1="709.3" x2="930.7" y2="707" stroke="#333" stroke-width="0.6"/>
<polygon points="835.2,757.5 846.2,752.2 849.7,754 849.7,769.1 853.8,770.8 859.6,767.9 870.1,767.3 875.3,770.3 876.5,773.7 876.5,819.1 873.6,820.3 859.6,819.1 825.9,833.7 823.5,836.6 830.5,854 830.5,859.9 822.4,864.5 818.9,863.3 817.7,857.5 810.1,841.2 810.1,836.6" fill="none" stroke="#333" stroke-width="0.8"/>
<line x1="859.6" y1="768.5" x2="859.6" y2="819.1" stroke="#333" stroke-width="0.8"/>
<line x1="873.6" y1="771.4" x2="873.6" y2="820.3" stroke="#333" stroke-width="0.8"/>
<line x1="836.6" y1="759.2" x2="811.9" y2="837.7" stroke="#333" stroke-width="0.8"/>
<line x1="840" y1="760.5" x2="845.5" y2="758.6" stroke="#333" stroke-width="2.4"/>
<line x1="840" y1="760.5" x2="845.5" y2="758.6" stroke="#eee" stroke-width="0.7"/>
<line x1="835.6" y1="784.7" x2="841.7" y2="782.5" stroke="#333" stroke-width="2.6"/>
<line x1="835.6" y1="784.7" x2="841.7" y2="782.5" stroke="#ccc" stroke-width="0.9"/>
<line x1="832.8" y1="792.9" x2="842.1" y2="789.5" stroke="#333" stroke-width="2.6"/>
<line x1="832.8" y1="792.9" x2="842.1" y2="789.5" stroke="#ccc" stroke-width="0.9"/>
<line x1="830.9" y1="800.2" x2="841.8" y2="796.2" stroke="#333" stroke-width="2.6"/>
<line x1="830.9" y1="800.2" x2="841.8" y2="796.2" stroke="#ccc" stroke-width="0.9"/>
<line x1="828.9" y1="807.5" x2="841.4" y2="802.9" stroke="#333" stroke-width="2.6"/>
<line x1="828.9" y1="807.5" x2="841.4" y2="802.9" stroke="#ccc" stroke-width="0.9"/>
<line x1="826.9" y1="815.3" x2="841.1" y2="810.1" stroke="#333" stroke-width="2.6"/>
<line x1="826.9" y1="815.3" x2="841.1" y2="810.1" stroke="#ccc" stroke-width="0.9"/>
<line x1="824.6" y1="823.3" x2="841" y2="817.3" stroke="#333" stroke-width="2.6"/>
<line x1="824.6" y1="823.3" x2="841" y2="817.3" stroke="#ccc" stroke-width="0.9"/>
<line x1="822.1" y1="830.8" x2="841.2" y2="823.8" stroke="#333" stroke-width="2.6"/>
<line x1="822.1" y1="830.8" x2="841.2" y2="823.8" stroke="#ccc" stroke-width="0.9"/>
<text transform="translate(851.1 788.6) skewY(-15.5) scale(0.614 1)" font-size="17.6" text-anchor="middle" style="fill:#fff" stroke="#3a3a3a" stroke-width="0.75">H</text>
<text transform="translate(851.1 803.4) skewY(-15.5) scale(0.579 1)" font-size="17.3" text-anchor="middle" style="fill:#fff" stroke="#3a3a3a" stroke-width="0.75">O</text>
<text transform="translate(851.2 818.2) skewY(-15.5) scale(0.876 1)" font-size="16.1" text-anchor="middle" style="fill:#fff" stroke="#3a3a3a" stroke-width="0.75">T</text>
<line x1="811.9" y1="841.2" x2="821.8" y2="836.6" stroke="#333" stroke-width="0.8"/>
<line x1="818.3" y1="856.4" x2="829.3" y2="851.7" stroke="#333" stroke-width="0.8"/>
<line x1="822.5" y1="860.6" x2="826.9" y2="859.1" stroke="#333" stroke-width="2.4"/>
<line x1="822.5" y1="860.6" x2="826.9" y2="859.1" stroke="#eee" stroke-width="0.7"/>
<line x1="787.4" y1="837.9" x2="793.7" y2="840.9" stroke="#222" stroke-width="3.2" stroke-linecap="butt"/>
<ellipse cx="785.7" cy="837.2" rx="2" ry="2.9" fill="#b8b8b8" stroke="#111" stroke-width="1.3" transform="rotate(25 785.7 837.2)"/>
<ellipse cx="803.5" cy="846.5" rx="2.6" ry="3" fill="#f2f2f2" stroke="#222" stroke-width="1" transform="rotate(20 803.5 846.5)"/>
<ellipse cx="803.5" cy="846.5" rx="1.2" ry="1.4" fill="#fff" stroke="#333" stroke-width="0.6" transform="rotate(20 803.5 846.5)"/>
<polygon points="850.2,871.5 848.6,873.8 845.4,873.8 843.8,871.5 845.4,869.1 848.6,869.1" fill="#999" stroke="#222" stroke-width="1"/>
<circle cx="847" cy="871.5" r="1.4" fill="#ddd" stroke="#333" stroke-width="0.7"/>
<line x1="793.3" y1="841.2" x2="801.4" y2="845.7" stroke="#333" stroke-width="0.6"/>
<line x1="805.5" y1="848" x2="815.4" y2="853.5" stroke="#333" stroke-width="0.6"/>
<line x1="828.2" y1="861" x2="844.5" y2="870.3" stroke="#333" stroke-width="0.6"/>
<line x1="781.1" y1="849.4" x2="787.5" y2="841.2" stroke="#333" stroke-width="0.6"/>
<line x1="805.5" y1="859.9" x2="803.2" y2="850" stroke="#333" stroke-width="0.6"/>
<line x1="802" y1="799.9" x2="817.1" y2="810.4" stroke="#333" stroke-width="0.6"/>
<line x1="864.3" y1="872.7" x2="850.3" y2="871.7" stroke="#333" stroke-width="0.6"/>
<polygon points="1034.6,876 1041.2,870.3 1044.5,871.6 1044.8,886.9 1047.2,888 1047.2,877.1 1049.9,875.5 1052.6,877.6 1053.9,883.6 1053.9,932.7 1025.9,956.2 1025.4,959.5 1016.6,965.4 1015,966.5 1015,972.5 1008.5,978 1006.3,976.4 1006.3,970.4 1015,963.3 1016.1,959.5" fill="none" stroke="#333" stroke-width="0.8"/>
<line x1="1036.3" y1="877.1" x2="1017.7" y2="960" stroke="#333" stroke-width="0.8"/>
<line x1="1051.3" y1="884.7" x2="1051.3" y2="934.9" stroke="#333" stroke-width="0.8"/>
<line x1="1048.8" y1="876.5" x2="1048.8" y2="885.8" stroke="#333" stroke-width="0.8"/>
<line x1="1038" y1="879.1" x2="1040.7" y2="877.2" stroke="#333" stroke-width="2.2"/>
<line x1="1038" y1="879.1" x2="1040.7" y2="877.2" stroke="#eee" stroke-width="0.6"/>
<line x1="1034.9" y1="904.6" x2="1038.7" y2="901.5" stroke="#333" stroke-width="2.6"/>
<line x1="1034.9" y1="904.6" x2="1038.7" y2="901.5" stroke="#ccc" stroke-width="0.9"/>
<line x1="1032.3" y1="912.3" x2="1038.1" y2="907.4" stroke="#333" stroke-width="2.6"/>
<line x1="1032.3" y1="912.3" x2="1038.1" y2="907.4" stroke="#ccc" stroke-width="0.9"/>
<line x1="1030.9" y1="919.5" x2="1038.4" y2="913.2" stroke="#333" stroke-width="2.6"/>
<line x1="1030.9" y1="919.5" x2="1038.4" y2="913.2" stroke="#ccc" stroke-width="0.9"/>
<line x1="1029.2" y1="927.1" x2="1037.9" y2="919.8" stroke="#333" stroke-width="2.6"/>
<line x1="1029.2" y1="927.1" x2="1037.9" y2="919.8" stroke="#ccc" stroke-width="0.9"/>
<line x1="1028.2" y1="934.6" x2="1037.8" y2="926.5" stroke="#333" stroke-width="2.6"/>
<line x1="1028.2" y1="934.6" x2="1037.8" y2="926.5" stroke="#ccc" stroke-width="0.9"/>
<line x1="1026.7" y1="942.2" x2="1037.6" y2="933.1" stroke="#333" stroke-width="2.6"/>
<line x1="1026.7" y1="942.2" x2="1037.6" y2="933.1" stroke="#ccc" stroke-width="0.9"/>
<line x1="1025.1" y1="950" x2="1037.6" y2="939.5" stroke="#333" stroke-width="2.6"/>
<line x1="1025.1" y1="950" x2="1037.6" y2="939.5" stroke="#ccc" stroke-width="0.9"/>
<text transform="translate(1045.5 905.2) skewY(-26.6) scale(0.427 1)" font-size="18.2" text-anchor="middle" style="fill:#fff" stroke="#3a3a3a" stroke-width="0.75">H</text>
<text transform="translate(1045.5 920.2) skewY(-26.6) scale(0.422 1)" font-size="17" text-anchor="middle" style="fill:#fff" stroke="#3a3a3a" stroke-width="0.75">O</text>
<text transform="translate(1045.5 934) skewY(-26.6) scale(0.628 1)" font-size="15.6" text-anchor="middle" style="fill:#fff" stroke="#3a3a3a" stroke-width="0.75">T</text>
<ellipse cx="1011.4" cy="973.3" rx="1.5" ry="1.3" fill="none" stroke="#333" stroke-width="0.8"/>
<polygon points="1026.6,869.5 1025,871.8 1021.8,871.8 1020.2,869.5 1021.8,867.1 1025,867.1" fill="#999" stroke="#222" stroke-width="1"/>
<circle cx="1023.4" cy="869.5" r="1.4" fill="#ddd" stroke="#333" stroke-width="0.7"/>
<ellipse cx="1063.3" cy="890.7" rx="2.6" ry="3" fill="#f2f2f2" stroke="#222" stroke-width="1" transform="rotate(20 1063.3 890.7)"/>
<ellipse cx="1063.3" cy="890.7" rx="1.2" ry="1.4" fill="#fff" stroke="#333" stroke-width="0.6" transform="rotate(20 1063.3 890.7)"/>
<line x1="1080.5" y1="900.3" x2="1074.2" y2="897.1" stroke="#222" stroke-width="3.2" stroke-linecap="butt"/>
<ellipse cx="1082.1" cy="901.1" rx="2" ry="2.9" fill="#b8b8b8" stroke="#111" stroke-width="1.3" transform="rotate(207 1082.1 901.1)"/>
<line x1="1027" y1="871.6" x2="1035.2" y2="876" stroke="#333" stroke-width="0.6"/>
<line x1="1044.5" y1="880.9" x2="1061.4" y2="889.6" stroke="#333" stroke-width="0.6"/>
<line x1="1065.7" y1="892.4" x2="1074.5" y2="896.7" stroke="#333" stroke-width="0.6"/>
<line x1="1033.5" y1="860.2" x2="1025.9" y2="867.3" stroke="#333" stroke-width="0.6"/>
<line x1="1067.4" y1="877.6" x2="1064.6" y2="888" stroke="#333" stroke-width="0.6"/>
<line x1="1090.3" y1="884.7" x2="1082.6" y2="898.4" stroke="#333" stroke-width="0.6"/>
<line x1="1061.9" y1="927.8" x2="1054.3" y2="924" stroke="#333" stroke-width="0.6"/>
<line x1="158.4" y1="962.7" x2="158.4" y2="1149.9" stroke="#444" stroke-width="0.6" stroke-dasharray="14 3 3 3" stroke-linecap="butt"/>
<path d="M113.7 1078 L112.9 1103.1 A47.8 19.6 0 0 0 208.6 1103.1 L207.8 1081.1" fill="#fff" stroke="#333" stroke-width="0.8"/>
<path d="M113.2 1085.8 A47.5 19.6 0 0 0 208.3 1085.8" fill="none" stroke="#333" stroke-width="0.8"/>
<path d="M113.2 1094.4 A47.5 19.6 0 0 0 208.3 1094.4" fill="none" stroke="#333" stroke-width="0.8"/>
<ellipse cx="160" cy="1073.3" rx="44.7" ry="23.8" fill="#fff" stroke="#333" stroke-width="0.8"/>
<ellipse cx="160.7" cy="1072" rx="35.7" ry="18.8" fill="none" stroke="#333" stroke-width="0.8"/>
<ellipse cx="160" cy="1069.4" rx="18.8" ry="10.3" fill="none" stroke="#333" stroke-width="0.8"/>
<ellipse cx="160" cy="1068.3" rx="15.4" ry="8.2" fill="none" stroke="#333" stroke-width="0.8"/>
<ellipse cx="160" cy="1067.6" rx="11.3" ry="6" fill="none" stroke="#333" stroke-width="0.8"/>
<ellipse cx="159.2" cy="1067.3" rx="6.6" ry="3.4" fill="none" stroke="#333" stroke-width="1.3"/>
<ellipse cx="159.2" cy="1067.3" rx="4.4" ry="2.2" fill="none" stroke="#333" stroke-width="0.8"/>
<path d="M141.5 1070.1C141.7 1071.2 141.2 1074.4 142.7 1076.4C144.2 1078.4 147.4 1080.7 150.6 1081.9C153.7 1083.1 157.9 1083.6 161.5 1083.5C165.2 1083.3 169.7 1082.5 172.5 1081.1C175.3 1079.7 177.5 1075.9 178.5 1074.8" fill="none" stroke="#333" stroke-width="0.8"/>
<polyline points="167,1094.4 174.1,1109.3 180.3,1108.5 205.4,1101.5 210.1,1094.4" fill="#fff" stroke="#333" stroke-width="0.8"/>
<polygon points="196.8,1086.6 203.9,1082.7 214.8,1088.9 210.9,1094.4" fill="#fff" stroke="#333" stroke-width="0.8"/>
<line x1="167" y1="1094.4" x2="196" y2="1087.4" stroke="#333" stroke-width="0.8"/>
<polygon points="173.8,1096.8 177.2,1096 180.3,1103.1 176.9,1104.3" fill="none" stroke="#333" stroke-width="1"/>
<line x1="183.5" y1="1106.2" x2="205.4" y2="1099.1" stroke="#333" stroke-width="0.8"/>
<ellipse cx="199.2" cy="1087.7" rx="1.9" ry="1.3" fill="none" stroke="#333" stroke-width="0.8"/>
<ellipse cx="203.9" cy="1090.8" rx="1.9" ry="1.3" fill="none" stroke="#333" stroke-width="0.8"/>
<path d="M133.3 1002.7 L133.6 1009.8 A25.1 12.2 0 0 0 183.5 1009.8 L183.5 1002.7" fill="#fff" stroke="#333" stroke-width="0.8"/>
<path d="M134.1 1006.6 A24.8 12.2 0 0 0 182.7 1006.6" fill="none" stroke="#333" stroke-width="1.3"/>
<path d="M137.2 1011.3 A22 9.4 0 0 0 179.6 1011.3" fill="none" stroke="#333" stroke-width="1.1"/>
<ellipse cx="158.4" cy="1002.4" rx="25.1" ry="12.5" fill="#fff" stroke="#333" stroke-width="0.8"/>
<ellipse cx="158.4" cy="1002.7" rx="22" ry="10.7" fill="none" stroke="#333" stroke-width="0.8"/>
<ellipse cx="158.4" cy="1002.4" rx="17.6" ry="8.5" fill="none" stroke="#333" stroke-width="0.8"/>
<ellipse cx="158.4" cy="1000.4" rx="12.9" ry="6.9" fill="none" stroke="#333" stroke-width="0.8"/>
<ellipse cx="158.4" cy="999.3" rx="9.7" ry="4.7" fill="none" stroke="#333" stroke-width="0.8"/>
<ellipse cx="157.6" cy="999" rx="4.7" ry="2.4" fill="none" stroke="#333" stroke-width="1.1"/>
<ellipse cx="158.1" cy="975.7" rx="8.6" ry="5" fill="#fff" stroke="#333" stroke-width="0.8"/>
<ellipse cx="158.1" cy="973.7" rx="8.6" ry="5" fill="#fff" stroke="#333" stroke-width="0.8"/>
<ellipse cx="158.1" cy="973.7" rx="4.4" ry="2.4" fill="none" stroke="#333" stroke-width="0.8"/>
<line x1="158.4" y1="962.7" x2="158.4" y2="971.4" stroke="#333" stroke-width="0.6"/>
<line x1="158.4" y1="979.2" x2="158.4" y2="990.2" stroke="#333" stroke-width="0.6"/>
<line x1="158.4" y1="998.8" x2="158.4" y2="1001.9" stroke="#333" stroke-width="0.6"/>
<line x1="158.4" y1="1021.5" x2="158.4" y2="1067" stroke="#444" stroke-width="0.6" stroke-dasharray="14 3 3 3" stroke-linecap="butt"/>
<rect x="209.8" y="1016.5" width="3.1" height="12.5" rx="1" fill="none" stroke="#333" stroke-width="0.9"/>
<polygon points="203.4,1121.9 201.9,1124.1 198.9,1124.1 197.4,1121.9 198.9,1119.7 201.9,1119.7" fill="#999" stroke="#222" stroke-width="1"/>
<circle cx="200.4" cy="1121.9" r="1.4" fill="#ddd" stroke="#333" stroke-width="0.7"/>
<line x1="200.4" y1="1088.2" x2="200.4" y2="1120.3" stroke="#333" stroke-width="0.6" stroke-dasharray="6 2" stroke-linecap="butt"/>
<line x1="188.2" y1="963.5" x2="165.4" y2="971.4" stroke="#333" stroke-width="0.6"/>
<line x1="119.2" y1="1017.6" x2="134.1" y2="1013.4" stroke="#333" stroke-width="0.6"/>
<line x1="192.9" y1="1027.3" x2="208.9" y2="1022.6" stroke="#333" stroke-width="0.6"/>
<line x1="101.2" y1="1110.9" x2="115.3" y2="1108.5" stroke="#333" stroke-width="0.6"/>
<line x1="210.1" y1="1128.1" x2="203.1" y2="1123.4" stroke="#333" stroke-width="0.6"/>
<ellipse cx="158.3" cy="1143.3" rx="4.6" ry="2.8" fill="#f2f2f2" stroke="#222" stroke-width="1"/>
<ellipse cx="158.3" cy="1143.3" rx="2.1" ry="1.3" fill="#fff" stroke="#333" stroke-width="0.6"/>
<ellipse cx="158.3" cy="1155.3" rx="4.6" ry="2.8" fill="#f2f2f2" stroke="#222" stroke-width="1"/>
<ellipse cx="158.3" cy="1155.3" rx="2.1" ry="1.3" fill="#fff" stroke="#333" stroke-width="0.6"/>
<line x1="156.7" y1="1167.7" x2="156.7" y2="1194.3" stroke="#333" stroke-width="0.6"/>
<line x1="160" y1="1167.7" x2="160" y2="1194.3" stroke="#333" stroke-width="0.6"/>
<line x1="158.3" y1="1167.7" x2="158.3" y2="1182.7" stroke="#666" stroke-width="3" stroke-dasharray="1 1" stroke-linecap="butt"/>
<polygon points="161.9,1196.7 160.1,1199.3 156.5,1199.3 154.7,1196.7 156.5,1194 160.1,1194" fill="#999" stroke="#222" stroke-width="1"/>
<circle cx="158.3" cy="1196.7" r="1.6" fill="#ddd" stroke="#333" stroke-width="0.7"/>
<line x1="173.3" y1="1149.3" x2="163.3" y2="1144.3" stroke="#333" stroke-width="0.6"/>
<line x1="173.3" y1="1149.3" x2="163.3" y2="1154.3" stroke="#333" stroke-width="0.6"/>
<line x1="173.3" y1="1194.3" x2="163.3" y2="1195.3" stroke="#333" stroke-width="0.6"/>
<line x1="306.2" y1="946.4" x2="306.2" y2="1110.6" stroke="#444" stroke-width="0.6" stroke-dasharray="14 3 3 3" stroke-linecap="butt"/>
<line x1="256.6" y1="996.8" x2="256.6" y2="1121.3" stroke="#444" stroke-width="0.6" stroke-dasharray="14 3 3 3" stroke-linecap="butt"/>
<polyline points="247.1,1079.6 250.9,1084.6 258.5,1085.1 315.5,1053.8 316.1,1049.5" fill="none" stroke="#333" stroke-width="0.8"/>
<polygon points="247.8,1075.5 305.1,1043.4 312.8,1044.9 316.1,1049.5 315.1,1052.6 257.8,1083.9 250.1,1083.1 246.6,1079.3" fill="#fff" stroke="#333" stroke-width="0.8"/>
<ellipse cx="256.6" cy="1077.8" rx="4.3" ry="2.7" fill="none" stroke="#333" stroke-width="0.8"/>
<ellipse cx="267.7" cy="1071.3" rx="2" ry="1.4" fill="none" stroke="#333" stroke-width="0.8"/>
<ellipse cx="281.5" cy="1063.7" rx="2.1" ry="1.5" fill="none" stroke="#333" stroke-width="0.8"/>
<ellipse cx="294.9" cy="1055.6" rx="1.5" ry="1.2" fill="none" stroke="#333" stroke-width="0.8"/>
<ellipse cx="306.4" cy="1049.5" rx="4.3" ry="2.7" fill="none" stroke="#333" stroke-width="0.8"/>
<polygon points="310.6,943 308.5,946.1 304.3,946.1 302.2,943 304.3,939.9 308.5,939.9" fill="#999" stroke="#222" stroke-width="1"/>
<circle cx="306.4" cy="943" r="1.9" fill="#ddd" stroke="#333" stroke-width="0.7"/>
<rect x="302.4" y="960.9" width="7.6" height="22.9" fill="#fff" stroke="#333" stroke-width="0.9"/>
<ellipse cx="306.2" cy="960.9" rx="3.8" ry="1.8" fill="#ccc" stroke="#333" stroke-width="0.8"/>
<ellipse cx="306.4" cy="995.6" rx="6.4" ry="3.7" fill="#f2f2f2" stroke="#222" stroke-width="1"/>
<ellipse cx="306.4" cy="995.6" rx="2.9" ry="1.7" fill="#fff" stroke="#333" stroke-width="0.6"/>
<rect x="302.2" y="1012.1" width="8.2" height="5.3" fill="#fff" stroke="#333" stroke-width="0.9"/>
<ellipse cx="306.4" cy="1017.4" rx="4.1" ry="1.8" fill="#fff" stroke="#333" stroke-width="0.8"/>
<ellipse cx="306.4" cy="1012.1" rx="4.1" ry="2.1" fill="#eee" stroke="#333" stroke-width="0.8"/>
<ellipse cx="306.4" cy="1031.9" rx="5.2" ry="4.6" fill="#999" stroke="#333" stroke-width="1"/>
<ellipse cx="306.4" cy="1031.2" rx="2.7" ry="1.8" fill="#eee" stroke="#333" stroke-width="0.8"/>
<ellipse cx="306.4" cy="1073.2" rx="6.4" ry="3.7" fill="#f2f2f2" stroke="#222" stroke-width="1"/>
<ellipse cx="306.4" cy="1073.2" rx="2.9" ry="1.7" fill="#fff" stroke="#333" stroke-width="0.6"/>
<line x1="304.1" y1="1083.1" x2="304.1" y2="1110.6" stroke="#333" stroke-width="0.8"/>
<line x1="308.5" y1="1083.1" x2="308.5" y2="1110.6" stroke="#333" stroke-width="0.8"/>
<line x1="306.4" y1="1083.1" x2="306.4" y2="1093" stroke="#555" stroke-width="4" stroke-dasharray="1 1" stroke-linecap="butt"/>
<ellipse cx="306.4" cy="1111.7" rx="4.6" ry="2.7" fill="#eee" stroke="#333" stroke-width="0.8"/>
<ellipse cx="257" cy="996" rx="3.4" ry="1.5" fill="#ddd" stroke="#333" stroke-width="0.8"/>
<line x1="255.5" y1="996.8" x2="255.5" y2="1010.5" stroke="#333" stroke-width="0.8"/>
<line x1="258.2" y1="996.8" x2="258.2" y2="1010.5" stroke="#333" stroke-width="0.8"/>
<line x1="256.9" y1="1001.4" x2="256.9" y2="1010.5" stroke="#666" stroke-width="2.4" stroke-dasharray="1 1" stroke-linecap="butt"/>
<ellipse cx="256.6" cy="1019.7" rx="6.4" ry="3.7" fill="#f2f2f2" stroke="#222" stroke-width="1"/>
<ellipse cx="256.6" cy="1019.7" rx="2.9" ry="1.7" fill="#fff" stroke="#333" stroke-width="0.6"/>
<rect x="252.4" y="1037.3" width="8.2" height="5.3" fill="#fff" stroke="#333" stroke-width="0.9"/>
<ellipse cx="256.6" cy="1042.6" rx="4.1" ry="1.8" fill="#fff" stroke="#333" stroke-width="0.8"/>
<ellipse cx="256.6" cy="1037.3" rx="4.1" ry="2.1" fill="#eee" stroke="#333" stroke-width="0.8"/>
<ellipse cx="256.6" cy="1057.1" rx="5.2" ry="4.6" fill="#999" stroke="#333" stroke-width="1"/>
<ellipse cx="256.6" cy="1056.4" rx="2.7" ry="1.8" fill="#eee" stroke="#333" stroke-width="0.8"/>
<ellipse cx="256.6" cy="1094.6" rx="6.4" ry="3.7" fill="#f2f2f2" stroke="#222" stroke-width="1"/>
<ellipse cx="256.6" cy="1094.6" rx="2.9" ry="1.7" fill="#fff" stroke="#333" stroke-width="0.6"/>
<ellipse cx="256.6" cy="1111.7" rx="3.8" ry="2.2" fill="#f2f2f2" stroke="#222" stroke-width="1"/>
<ellipse cx="256.6" cy="1111.7" rx="1.7" ry="1" fill="#fff" stroke="#333" stroke-width="0.6"/>
<line x1="274.6" y1="1002.1" x2="276.1" y2="1034.2" stroke="#222" stroke-width="1.8"/>
<line x1="286.8" y1="998.3" x2="288" y2="1030.4" stroke="#222" stroke-width="1.8"/>
<line x1="277.3" y1="990.7" x2="273.8" y2="1001.4" stroke="#333" stroke-width="0.6"/>
<line x1="277.3" y1="990.7" x2="286.8" y2="998" stroke="#333" stroke-width="0.6"/>
<polyline points="276.1,1034.2 273.8,1047.2 267.7,1051.8 267.7,1070.1" fill="none" stroke="#333" stroke-width="0.6"/>
<polyline points="288,1030.4 288,1039.6 295.2,1036.5 295.2,1054.9" fill="none" stroke="#333" stroke-width="0.6"/>
<line x1="291.4" y1="943" x2="301.3" y2="944.1" stroke="#333" stroke-width="0.6"/>
<line x1="320.4" y1="975.4" x2="310.5" y2="971.6" stroke="#333" stroke-width="0.6"/>
<line x1="320.4" y1="1000.2" x2="312" y2="996.8" stroke="#333" stroke-width="0.6"/>
<line x1="324.2" y1="1017.4" x2="310.9" y2="1013.6" stroke="#333" stroke-width="0.6"/>
<line x1="320.4" y1="1033.8" x2="312" y2="1031.9" stroke="#333" stroke-width="0.6"/>
<line x1="328" y1="1051.8" x2="316.6" y2="1048.7" stroke="#333" stroke-width="0.6"/>
<line x1="321.9" y1="1083.9" x2="312" y2="1072.4" stroke="#333" stroke-width="0.6"/>
<line x1="322.7" y1="1113.7" x2="311.2" y2="1111.7" stroke="#333" stroke-width="0.6"/>
<line x1="241.7" y1="1014.4" x2="250.4" y2="1018.5" stroke="#333" stroke-width="0.6"/>
<line x1="243.3" y1="1037.3" x2="252.4" y2="1038" stroke="#333" stroke-width="0.6"/>
<line x1="241" y1="1060.2" x2="251.4" y2="1057.6" stroke="#333" stroke-width="0.6"/>
<line x1="240.2" y1="1090.8" x2="250.4" y2="1093.8" stroke="#333" stroke-width="0.6"/>
<line x1="268.5" y1="1119" x2="260.1" y2="1112.1" stroke="#333" stroke-width="0.6"/>
<polyline points="205.4,1092.9 256.2,1121.3 256.2,1114.4" fill="none" stroke="#333" stroke-width="0.6"/>
<line x1="250.9" y1="985.3" x2="256.2" y2="995.3" stroke="#333" stroke-width="0.6"/>
<line x1="456.2" y1="865.9" x2="456.2" y2="872.9" stroke="#222" stroke-width="2.8" stroke-linecap="butt"/>
<ellipse cx="456.2" cy="864.9" rx="3.2" ry="2.1" fill="#eee" stroke="#222" stroke-width="1"/>
<ellipse cx="455.7" cy="884.2" rx="3.2" ry="2" fill="#f2f2f2" stroke="#222" stroke-width="1"/>
<ellipse cx="455.7" cy="884.2" rx="1.4" ry="0.9" fill="#fff" stroke="#333" stroke-width="0.6"/>
<polyline points="456.2,887.5 456.2,890.7 490.5,910.4 490.5,920.2" fill="none" stroke="#333" stroke-width="0.6" stroke-dasharray="7 2" stroke-linecap="butt"/>
<polyline points="487.3,920.2 494.6,919.4 501.2,921 506.1,925.1 507.7,931.6 508.5,944.7 511,948 515.9,946.4 517.5,948 517.5,957.8 500.4,967.6 499.5,974.2 498.4,975" fill="none" stroke="#333" stroke-width="0.8"/>
<polyline points="487.3,920.2 487.3,925.1 494.6,924.3 499.5,928.4 502,938.2 502,952.9 498.7,961.1 498.7,975" fill="none" stroke="#333" stroke-width="0.8"/>
<line x1="498.9" y1="961.1" x2="498.9" y2="975" stroke="#444" stroke-width="1.3" stroke-dasharray="3 1" stroke-linecap="butt"/>
<ellipse cx="490.5" cy="921.3" rx="1.3" ry="1.8" fill="none" stroke="#333" stroke-width="0.7"/>
<ellipse cx="514.3" cy="952.9" rx="0.8" ry="2" fill="none" stroke="#333" stroke-width="0.8" transform="rotate(10 514.3 952.9)"/>
<polyline points="493.8,934.6 487.3,938.2 507.7,949.6" fill="none" stroke="#333" stroke-width="0.6"/>
<polygon points="538.7,879.8 537.3,881.8 534.5,881.8 533.1,879.8 534.5,877.7 537.3,877.7" fill="#999" stroke="#222" stroke-width="1"/>
<circle cx="535.9" cy="879.8" r="1.3" fill="#ddd" stroke="#333" stroke-width="0.7"/>
<line x1="523.3" y1="880.1" x2="533.1" y2="879.8" stroke="#333" stroke-width="0.6"/>
<line x1="538.8" y1="881.7" x2="583" y2="905.5" stroke="#444" stroke-width="0.6" stroke-dasharray="14 3 3 3" stroke-linecap="butt"/>
<line x1="497.1" y1="885.8" x2="526.5" y2="912" stroke="#333" stroke-width="0.6"/>
<line x1="434.9" y1="857.2" x2="452.9" y2="864.2" stroke="#333" stroke-width="0.6"/>
<line x1="433.3" y1="884.5" x2="452.1" y2="884.2" stroke="#333" stroke-width="0.6"/>
<line x1="473.4" y1="923.5" x2="486.5" y2="921.8" stroke="#333" stroke-width="0.6"/>
<ellipse cx="522.5" cy="957.5" rx="2.3" ry="3.3" fill="#f2f2f2" stroke="#222" stroke-width="1" transform="rotate(15 522.5 957.5)"/>
<ellipse cx="522.5" cy="957.5" rx="1" ry="1.5" fill="#fff" stroke="#333" stroke-width="0.6" transform="rotate(15 522.5 957.5)"/>
<line x1="538.5" y1="966" x2="533.2" y2="963.1" stroke="#222" stroke-width="3.2" stroke-linecap="butt"/>
<ellipse cx="540.1" cy="966.8" rx="2" ry="2.9" fill="#b8b8b8" stroke="#111" stroke-width="1.3" transform="rotate(208 540.1 966.8)"/>
<line x1="521.1" y1="975.8" x2="522.1" y2="961.9" stroke="#333" stroke-width="0.6"/>
<line x1="547.8" y1="973.4" x2="542.1" y2="968.5" stroke="#333" stroke-width="0.6"/>
<line x1="525.7" y1="959.5" x2="533.9" y2="963.5" stroke="#333" stroke-width="0.6"/>
<polygon points="488.1,980.7 489.7,980.7 497.1,997.1 497.9,1010.2 502.8,1008.5 505.3,1011 505.3,1020 489.7,1029 473.4,1029.8 470.1,1028.2 469.3,1024.9 470.9,1022.5 484,1021.6 488.1,1018.4 490.5,1010.2 489.7,1002 487.3,997.1" fill="none" stroke="#333" stroke-width="0.8"/>
<path d="M489.7 982.4C490.1 985.9 491.9 997.9 492.2 1003.6C492.5 1009.4 492 1013.5 491.4 1016.7C490.7 1020 490.8 1022.2 488.1 1023.3C485.4 1024.4 477.2 1023.3 475 1023.3" fill="none" stroke="#333" stroke-width="0.8"/>
<line x1="489.7" y1="1018.4" x2="489.7" y2="1029" stroke="#333" stroke-width="0.8"/>
<ellipse cx="494.6" cy="1005.3" rx="1.2" ry="1.5" fill="none" stroke="#333" stroke-width="0.7"/>
<ellipse cx="501.7" cy="1016.7" rx="0.8" ry="2" fill="none" stroke="#333" stroke-width="0.8" transform="rotate(10 501.7 1016.7)"/>
<ellipse cx="494.6" cy="1022.5" rx="1" ry="1.2" fill="none" stroke="#333" stroke-width="0.7"/>
<ellipse cx="473.7" cy="1026.2" rx="1.5" ry="1.5" fill="none" stroke="#333" stroke-width="0.7"/>
<polygon points="473.9,982.4 476.3,982.4 476.3,988.1 473.9,988.1" fill="none" stroke="#333" stroke-width="0.8"/>
<line x1="471.4" y1="966" x2="474.2" y2="982" stroke="#333" stroke-width="0.6"/>
<polyline points="477.5,985.6 501.2,992.2 533.9,1001.2 583,1013.5" fill="none" stroke="#333" stroke-width="0.6" stroke-dasharray="14 3 3 3" stroke-linecap="butt"/>
<line x1="439.8" y1="973.2" x2="439.8" y2="980.2" stroke="#222" stroke-width="2.8" stroke-linecap="butt"/>
<ellipse cx="439.8" cy="972.2" rx="2.6" ry="1.7" fill="#eee" stroke="#222" stroke-width="1"/>
<ellipse cx="439.8" cy="988.9" rx="2.4" ry="1.5" fill="#f2f2f2" stroke="#222" stroke-width="1"/>
<ellipse cx="439.8" cy="988.9" rx="1.1" ry="0.7" fill="#fff" stroke="#333" stroke-width="0.6"/>
<line x1="427.5" y1="970.1" x2="436.5" y2="975" stroke="#333" stroke-width="0.6"/>
<line x1="427.5" y1="996.3" x2="438.2" y2="990.5" stroke="#333" stroke-width="0.6"/>
<polyline points="439.3,991.4 439.3,999.5 475,1019.2 475,1024.9" fill="none" stroke="#333" stroke-width="0.6"/>
<line x1="470.9" y1="998.8" x2="476.2" y2="1001.6" stroke="#222" stroke-width="3.2" stroke-linecap="butt"/>
<ellipse cx="469.3" cy="997.9" rx="2" ry="2.9" fill="#b8b8b8" stroke="#111" stroke-width="1.3" transform="rotate(28 469.3 997.9)"/>
<ellipse cx="481.5" cy="1005.8" rx="2.3" ry="3.3" fill="#f2f2f2" stroke="#222" stroke-width="1" transform="rotate(15 481.5 1005.8)"/>
<ellipse cx="481.5" cy="1005.8" rx="1" ry="1.5" fill="#fff" stroke="#333" stroke-width="0.6" transform="rotate(15 481.5 1005.8)"/>
<line x1="459.5" y1="996.3" x2="466.8" y2="997.9" stroke="#333" stroke-width="0.6"/>
<line x1="452.1" y1="1017.5" x2="479.1" y2="1008.5" stroke="#333" stroke-width="0.6"/>
<line x1="475" y1="1002" x2="479.6" y2="1004.5" stroke="#333" stroke-width="0.6"/>
<line x1="484" y1="1006.9" x2="488.1" y2="1008.5" stroke="#333" stroke-width="0.6"/>
<line x1="475" y1="1038.8" x2="474.2" y2="1029.8" stroke="#333" stroke-width="0.6"/>
<line x1="526.5" y1="1026.7" x2="526.5" y2="1032.7" stroke="#222" stroke-width="2.8" stroke-linecap="butt"/>
<ellipse cx="526.5" cy="1025.7" rx="3" ry="2" fill="#eee" stroke="#222" stroke-width="1"/>
<line x1="547.8" y1="1018.5" x2="547.8" y2="1024.5" stroke="#222" stroke-width="2.8" stroke-linecap="butt"/>
<ellipse cx="547.8" cy="1017.5" rx="3" ry="2" fill="#eee" stroke="#222" stroke-width="1"/>
<line x1="511.8" y1="1037.2" x2="524.9" y2="1030.6" stroke="#333" stroke-width="0.6"/>
<line x1="564.2" y1="1026.5" x2="551.1" y2="1020" stroke="#333" stroke-width="0.6"/>
<line x1="558.8" y1="1006.1" x2="559.8" y2="1009.9" stroke="#222" stroke-width="1.3"/>
<line x1="573.2" y1="1001.2" x2="560.9" y2="1006.1" stroke="#333" stroke-width="0.6"/>
<polyline points="507.7,1020 511,1021.6 583,978.3" fill="none" stroke="#333" stroke-width="0.6" stroke-dasharray="14 3 3 3" stroke-linecap="butt"/>
<polyline points="487.3,938.2 547,959.5 583,938.2" fill="none" stroke="#333" stroke-width="0.6" stroke-dasharray="14 3 3 3" stroke-linecap="butt"/>
<polygon points="522.7,1061.9 554.4,1049 560,1040.4 565.7,1038.6 573.6,1042.7 575.9,1048.3 580.4,1050.1 584.9,1048.3 656.3,1089.1 659.7,1094.7 665.3,1099.3 671,1098.1 677.1,1102.7 677.1,1109.5 672.1,1117.8 659.7,1128.3 650.6,1135.5 646.1,1135.5 523.8,1066.4 522.2,1064.2" fill="none" stroke="#333" stroke-width="0.8"/>
<line x1="554.4" y1="1049" x2="672.1" y2="1117.8" stroke="#333" stroke-width="1.1"/>
<ellipse cx="526" cy="1063" rx="2" ry="1.2" fill="none" stroke="#333" stroke-width="0.7"/>
<ellipse cx="548.2" cy="1053.5" rx="2" ry="1.2" fill="none" stroke="#333" stroke-width="0.7"/>
<ellipse cx="557.1" cy="1080" rx="2" ry="1.2" fill="none" stroke="#333" stroke-width="0.7"/>
<ellipse cx="616.6" cy="1115.6" rx="2" ry="1.2" fill="none" stroke="#333" stroke-width="0.7"/>
<ellipse cx="663.1" cy="1120.1" rx="2" ry="1.2" fill="none" stroke="#333" stroke-width="0.7"/>
<ellipse cx="647.2" cy="1132.8" rx="2" ry="1.2" fill="none" stroke="#333" stroke-width="0.7"/>
<line x1="647.2" y1="1072" x2="647.2" y2="1078" stroke="#222" stroke-width="2.8" stroke-linecap="butt"/>
<ellipse cx="647.2" cy="1071" rx="3" ry="2" fill="#eee" stroke="#222" stroke-width="1"/>
<line x1="663.5" y1="1085.1" x2="663.5" y2="1091.1" stroke="#222" stroke-width="2.8" stroke-linecap="butt"/>
<ellipse cx="663.5" cy="1084.1" rx="3" ry="2" fill="#eee" stroke="#222" stroke-width="1"/>
<line x1="526.7" y1="1031.3" x2="526.7" y2="1176.3" stroke="#444" stroke-width="0.6" stroke-dasharray="14 3 3 3" stroke-linecap="butt"/>
<line x1="548" y1="1024.5" x2="548" y2="1167.2" stroke="#444" stroke-width="0.6" stroke-dasharray="14 3 3 3" stroke-linecap="butt"/>
<line x1="647.2" y1="1077.8" x2="647.2" y2="1245.4" stroke="#444" stroke-width="0.6" stroke-dasharray="14 3 3 3" stroke-linecap="butt"/>
<line x1="663.5" y1="1090.2" x2="663.5" y2="1232.9" stroke="#444" stroke-width="0.6" stroke-dasharray="14 3 3 3" stroke-linecap="butt"/>
<line x1="617.8" y1="1056.2" x2="612.6" y2="1064.2" stroke="#333" stroke-width="0.6"/>
<line x1="666.5" y1="1061.9" x2="651.3" y2="1069.4" stroke="#333" stroke-width="0.6"/>
<line x1="666.5" y1="1061.9" x2="664.7" y2="1081.2" stroke="#333" stroke-width="0.6"/>
<polyline points="509.1,1177.4 608.7,1138.5 714,1198.9 714.7,1251 658.6,1297.5 650.6,1295.2 649.5,1253.3" fill="none" stroke="#333" stroke-width="0.8" stroke-dasharray="8 2 2 2" stroke-linecap="butt"/>
<polyline points="509.1,1177.4 510.2,1183.1 517,1186.5 515.9,1192.1 537.4,1201.2 536.2,1208 545.3,1213.7 558.9,1220.5 574.7,1219.3 583.8,1231.8 597.4,1235.2 606.5,1247.6 613.3,1251 612.1,1268 623.4,1270.3 650.6,1295.2" fill="none" stroke="#333" stroke-width="0.8"/>
<polyline points="513.6,1178.6 529.4,1187.6 588.3,1219.3 590.6,1223.9 601.9,1229.5 608.7,1225" fill="none" stroke="#333" stroke-width="0.8"/>
<path d="M608.7 1225C611.7 1224 620.8 1220.3 626.8 1219.3C632.9 1218.4 638.9 1218.2 645 1219.3C651 1220.5 660.1 1225 663.1 1226.1" fill="none" stroke="#333" stroke-width="0.8"/>
<line x1="608.7" y1="1225" x2="608.7" y2="1246.5" stroke="#333" stroke-width="0.8" stroke-dasharray="8 2 2 2" stroke-linecap="butt"/>
<polyline points="608.7,1230.6 640.4,1246.5 649.5,1253.3" fill="none" stroke="#333" stroke-width="0.8"/>
<line x1="649.5" y1="1253.3" x2="714" y2="1200.1" stroke="#333" stroke-width="0.8"/>
<line x1="649.5" y1="1253.3" x2="649.5" y2="1295.2" stroke="#333" stroke-width="0.8" stroke-dasharray="8 2 2 2" stroke-linecap="butt"/>
<polyline points="529.4,1178.6 601.9,1150.2 609.9,1151.4 692.5,1195.5 694.8,1201.2 712.9,1201.2" fill="none" stroke="#333" stroke-width="0.8"/>
<polyline points="608.7,1138.9 609.9,1151.4 609.4,1188.7 608.7,1198.9" fill="none" stroke="#333" stroke-width="0.8" stroke-dasharray="8 2 2 2" stroke-linecap="butt"/>
<line x1="555.5" y1="1200.1" x2="608.7" y2="1188.7" stroke="#333" stroke-width="0.8"/>
<polyline points="568,1205.7 609.9,1191 620,1196.7" fill="none" stroke="#333" stroke-width="0.8"/>
<polyline points="575.9,1212.5 635.9,1188.7 680.1,1212.5 678.9,1218.2 665.3,1225" fill="none" stroke="#333" stroke-width="0.8"/>
<line x1="588.3" y1="1219.3" x2="635.9" y2="1188.7" stroke="#333" stroke-width="0.8"/>
<path d="M536.2 1185.3C537.8 1183.6 540.4 1178.7 545.3 1175.2C550.2 1171.6 558.5 1166.7 565.7 1163.8C572.9 1161 583.2 1158.4 588.3 1158.2C593.4 1158 594.8 1160.1 596.3 1162.7C597.7 1165.3 598.3 1170.2 596.9 1174C595.6 1177.8 592.4 1181.8 588.3 1185.3C584.3 1188.9 578 1193 572.5 1195.5C567 1198.1 558.3 1199.7 555.5 1200.5" fill="none" stroke="#333" stroke-width="0.8"/>
<line x1="548.7" y1="1169.5" x2="583.8" y2="1155.9" stroke="#888" stroke-width="2" stroke-dasharray="1.2 1" stroke-linecap="butt"/>
<path d="M663.1 1266.9C663.6 1263.3 665 1258.2 667.6 1253.3C670.3 1248.4 674.4 1242.3 678.9 1237.4C683.5 1232.5 690.6 1226.1 694.8 1223.9C698.9 1221.6 702 1222.3 703.9 1223.9C705.7 1225.4 706.7 1228.8 706.1 1232.9C705.5 1237.1 703.9 1243.3 700.5 1248.8C697.1 1254.2 690.4 1261.2 685.7 1265.8C681 1270.3 675.7 1274.4 672.1 1275.9C668.6 1277.5 665.7 1276.3 664.2 1274.8C662.7 1273.3 662.5 1270.5 663.1 1266.9Z" fill="none" stroke="#333" stroke-width="0.8"/>
<polyline points="678.9,1238.6 680.1,1251 692.5,1256.7 695.9,1248.8" fill="none" stroke="#333" stroke-width="0.8"/>
<line x1="683.5" y1="1230.6" x2="703.9" y2="1240.8" stroke="#333" stroke-width="0.8"/>
<ellipse cx="544.2" cy="1207.5" rx="6.8" ry="4.1" fill="none" stroke="#333" stroke-width="0.8"/>
<ellipse cx="544.2" cy="1207.1" rx="2.3" ry="1.4" fill="none" stroke="#333" stroke-width="1.1"/>
<ellipse cx="603.1" cy="1158.6" rx="1.4" ry="1.5" fill="none" stroke="#333" stroke-width="0.7"/>
<ellipse cx="603.1" cy="1185.3" rx="1.4" ry="1.5" fill="none" stroke="#333" stroke-width="0.7"/>
<ellipse cx="616.6" cy="1178.6" rx="1.4" ry="1.5" fill="none" stroke="#333" stroke-width="0.7"/>
<ellipse cx="632.5" cy="1155.9" rx="1.4" ry="1.5" fill="none" stroke="#333" stroke-width="0.7"/>
<ellipse cx="682.3" cy="1184.2" rx="1.4" ry="1.5" fill="none" stroke="#333" stroke-width="0.7"/>
<ellipse cx="706.1" cy="1212.5" rx="1.4" ry="1.5" fill="none" stroke="#333" stroke-width="0.7"/>
<ellipse cx="575.9" cy="1217.1" rx="1.4" ry="1.5" fill="none" stroke="#333" stroke-width="0.7"/>
<ellipse cx="514.7" cy="1181.9" rx="1.4" ry="1.5" fill="none" stroke="#333" stroke-width="0.7"/>
<ellipse cx="633.6" cy="1250.4" rx="1.4" ry="1.5" fill="none" stroke="#333" stroke-width="0.7"/>
<ellipse cx="647.2" cy="1245.4" rx="1.4" ry="1.5" fill="none" stroke="#333" stroke-width="0.7"/>
<ellipse cx="663.5" cy="1232.9" rx="1.4" ry="1.5" fill="none" stroke="#333" stroke-width="0.7"/>
<ellipse cx="594.7" cy="1200.7" rx="1.4" ry="1.5" fill="none" stroke="#333" stroke-width="0.7"/>
<ellipse cx="526.7" cy="1175.8" rx="1.4" ry="1.5" fill="none" stroke="#333" stroke-width="0.7"/>
<ellipse cx="548" cy="1166.8" rx="1.4" ry="1.5" fill="none" stroke="#333" stroke-width="0.7"/>
<ellipse cx="584.9" cy="1231.8" rx="1.4" ry="1.5" fill="none" stroke="#333" stroke-width="0.7"/>
<polygon points="630.9,1196.2 637.7,1193.5 638.8,1195.3 632,1198" fill="none" stroke="#333" stroke-width="1"/>
<polygon points="667.2,1215.2 674.9,1212.5 676,1214.3 668.3,1217.1" fill="none" stroke="#333" stroke-width="1"/>
<polygon points="715.2,1288 713.5,1290.5 710.1,1290.5 708.4,1288 710.1,1285.4 713.5,1285.4" fill="#eee" stroke="#222" stroke-width="1"/>
<circle cx="711.8" cy="1288" r="1.5" fill="#ddd" stroke="#333" stroke-width="0.7"/>
<polyline points="667.6,1255.6 711.8,1275.9 711.8,1285" fill="none" stroke="#333" stroke-width="0.6" stroke-dasharray="14 3 3 3" stroke-linecap="butt"/>
<line x1="723.1" y1="1302" x2="714" y2="1290.7" stroke="#333" stroke-width="0.6"/>
<polygon points="75,277.4 78.7,276.2 81.8,279 78.2,281.3" fill="none" stroke="#333" stroke-width="0.8"/>
<polygon points="81.3,278.5 88.1,277.7 94.4,282.1 94.4,289.4 90.2,292.6 81.8,289.4 81.3,283.2" fill="none" stroke="#333" stroke-width="0.8"/>
<polyline points="88.1,277.7 89.1,284.2 94.4,289.4" fill="none" stroke="#333" stroke-width="0.8"/>
<line x1="81.8" y1="283.2" x2="89.1" y2="284.2" stroke="#333" stroke-width="0.8"/>
<polygon points="90.2,283.2 98.5,286.8 97.3,292.6 90.2,290.7" fill="#777" stroke="#333" stroke-width="0.8"/>
<ellipse cx="99.6" cy="290" rx="1.9" ry="2.9" fill="#fff" stroke="#333" stroke-width="0.8" transform="rotate(15 99.6 290)"/>
<polyline points="83.9,292.6 83.9,297.8 87.9,300.1 91.7,297.8 91.7,293.1" fill="none" stroke="#333" stroke-width="0.8"/>
<ellipse cx="87.9" cy="298" rx="3.9" ry="1.9" fill="none" stroke="#333" stroke-width="0.8"/>
<polygon points="109.5,295.2 114.2,293.9 119.4,297.3 120,304.1 115.3,308.3 110,305.6" fill="none" stroke="#333" stroke-width="0.8"/>
<polyline points="114.2,293.9 114.7,300.9 120,304.1" fill="none" stroke="#333" stroke-width="0.8"/>
<line x1="109.5" y1="299.9" x2="114.7" y2="300.9" stroke="#333" stroke-width="0.8"/>
<line x1="114.7" y1="300.9" x2="115.3" y2="308.3" stroke="#333" stroke-width="0.8"/>
<polygon points="117.3,300.9 123.6,303.9 122.8,309.5 117.3,307.4" fill="#666" stroke="#333" stroke-width="0.8"/>
<ellipse cx="125.7" cy="306.7" rx="2.5" ry="3.6" fill="#fff" stroke="#333" stroke-width="0.8" transform="rotate(15 125.7 306.7)"/>
<line x1="70.8" y1="287.9" x2="77.6" y2="284.7" stroke="#333" stroke-width="0.6"/>
<line x1="132" y1="290" x2="122.6" y2="294.9" stroke="#333" stroke-width="0.6"/>
<polygon points="71.4,383.8 76.1,381.1 82.9,384.6 81.8,392.1 75,389.5 71.4,386.9" fill="#888" stroke="#333" stroke-width="0.8"/>
<ellipse cx="73.4" cy="385.9" rx="2.1" ry="3.8" fill="#bbb" stroke="#333" stroke-width="0.8" transform="rotate(15 73.4 385.9)"/>
<polygon points="82.3,384.6 90.2,389.8 89.1,397.9 81.3,393.2" fill="none" stroke="#333" stroke-width="0.8"/>
<polygon points="88.6,393.2 94.4,390.2 101.7,393.2 101.7,396.3 95.4,399.4 94.9,403.6 88.6,401" fill="#fff" stroke="#333" stroke-width="0.8"/>
<polyline points="88.6,393.2 95.4,396.3 101.7,393.2" fill="none" stroke="#333" stroke-width="0.8"/>
<line x1="95.4" y1="396.3" x2="95.4" y2="399.4" stroke="#333" stroke-width="0.8"/>
<polygon points="98.5,397.9 102.7,396.8 107.9,401.5 107.9,403.6 104.8,405.2 99.6,402.6" fill="#fff" stroke="#333" stroke-width="0.8"/>
<ellipse cx="101.7" cy="400" rx="1.5" ry="2.3" fill="none" stroke="#333" stroke-width="1.1" transform="rotate(20 101.7 400)"/>
<polyline points="91.2,403.1 91.2,408.8 94.9,411.5 98.5,408.8 98.5,403.6" fill="none" stroke="#333" stroke-width="0.8"/>
<ellipse cx="94.9" cy="409.1" rx="3.7" ry="1.7" fill="none" stroke="#333" stroke-width="0.8"/>
<line x1="92.3" y1="389" x2="117.9" y2="381.1" stroke="#333" stroke-width="0.6"/>
<line x1="673.7" y1="868.1" x2="656.7" y2="881.7" stroke="#333" stroke-width="0.6"/>
<polygon points="728.6,979.1 727.2,981.2 724.4,981.2 723,979.1 724.4,977.1 727.2,977.1" fill="#999" stroke="#222" stroke-width="1"/>
<circle cx="725.8" cy="979.1" r="1.3" fill="#ddd" stroke="#333" stroke-width="0.7"/>
<line x1="737.1" y1="987.1" x2="729.2" y2="981.4" stroke="#333" stroke-width="0.6"/>
<line x1="660.1" y1="946.3" x2="723.5" y2="978" stroke="#444" stroke-width="0.6" stroke-dasharray="14 3 3 3" stroke-linecap="butt"/>
<line x1="594.3" y1="1016.9" x2="588.4" y2="1016.1" stroke="#222" stroke-width="3" stroke-linecap="butt"/>
<ellipse cx="596" cy="1017.2" rx="1.8" ry="2.6" fill="#b8b8b8" stroke="#111" stroke-width="1.3" transform="rotate(188 596 1017.2)"/>
<line x1="611.4" y1="1013.1" x2="598.9" y2="1016" stroke="#333" stroke-width="0.6"/>
<line x1="574" y1="1001.8" x2="561.6" y2="1007" stroke="#333" stroke-width="0.6"/>
<line x1="538.9" y1="881.7" x2="592.1" y2="911.2" stroke="#444" stroke-width="0.6" stroke-dasharray="14 3 3 3" stroke-linecap="butt"/>
<line x1="280" y1="171" x2="306" y2="176" stroke="#333" stroke-width="0.6"/>
<polygon points="463.4,506.4 461.8,508.7 458.6,508.7 457,506.4 458.6,504 461.8,504" fill="#999" stroke="#222" stroke-width="1"/>
<circle cx="460.2" cy="506.4" r="1.4" fill="#ddd" stroke="#333" stroke-width="0.7"/>
<line x1="465.9" y1="507.3" x2="496.4" y2="511.1" stroke="#333" stroke-width="0.6"/>
<line x1="447" y1="497" x2="457.4" y2="504" stroke="#333" stroke-width="0.6"/>
</svg>
</body></html>
